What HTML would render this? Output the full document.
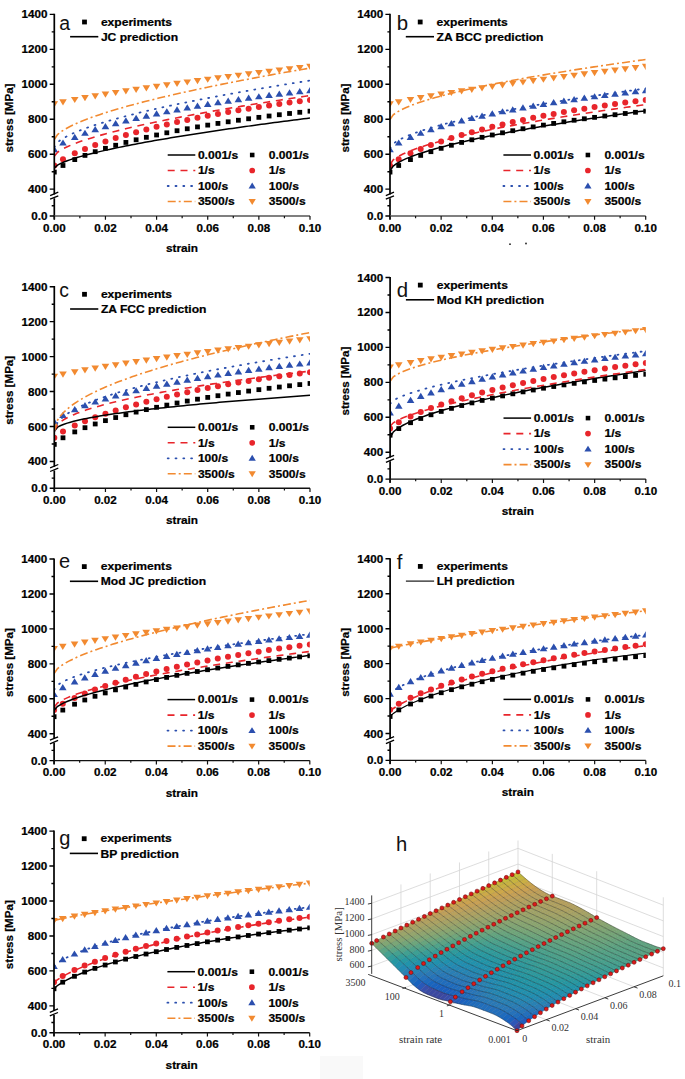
<!DOCTYPE html>
<html><head><meta charset="utf-8"><style>
html,body{margin:0;padding:0;background:#fff;}
body{width:685px;height:1079px;overflow:hidden;}
svg{display:block;}
text{font-family:'Liberation Sans', sans-serif;}
.tk{font-size:11.2px;font-weight:bold;fill:#000;stroke:#000;stroke-width:0.22px;}
.tt{font-size:11.6px;font-weight:bold;fill:#000;stroke:#000;stroke-width:0.22px;}
.lg{font-size:11.3px;font-weight:bold;fill:#000;stroke:#000;stroke-width:0.22px;}
.lt{font-weight:normal;fill:#111;}
.sf text{font-family:'Liberation Serif', serif;fill:#333;}
</style></head><body>
<svg width="685" height="1079" viewBox="0 0 685 1079">
<rect x="320" y="1056" width="43" height="23" fill="#f9f9f9"/>
<clipPath id="clipa"><rect x="54.3" y="4.4" width="255.7" height="190"/></clipPath>
<g clip-path="url(#clipa)">
<rect x="51.9" y="169.69" width="4.8" height="4.8" fill="#000000"/>
<rect x="60.59" y="163.09" width="4.8" height="4.8" fill="#000000"/>
<rect x="72.36" y="157.2" width="4.8" height="4.8" fill="#000000"/>
<rect x="82.58" y="152.99" width="4.8" height="4.8" fill="#000000"/>
<rect x="92.81" y="149.28" width="4.8" height="4.8" fill="#000000"/>
<rect x="103.04" y="145.93" width="4.8" height="4.8" fill="#000000"/>
<rect x="113.27" y="142.86" width="4.8" height="4.8" fill="#000000"/>
<rect x="123.5" y="140.03" width="4.8" height="4.8" fill="#000000"/>
<rect x="133.72" y="137.39" width="4.8" height="4.8" fill="#000000"/>
<rect x="143.95" y="134.92" width="4.8" height="4.8" fill="#000000"/>
<rect x="154.18" y="132.59" width="4.8" height="4.8" fill="#000000"/>
<rect x="164.41" y="130.4" width="4.8" height="4.8" fill="#000000"/>
<rect x="174.64" y="128.32" width="4.8" height="4.8" fill="#000000"/>
<rect x="184.86" y="126.36" width="4.8" height="4.8" fill="#000000"/>
<rect x="195.09" y="124.49" width="4.8" height="4.8" fill="#000000"/>
<rect x="205.32" y="122.71" width="4.8" height="4.8" fill="#000000"/>
<rect x="215.55" y="121.01" width="4.8" height="4.8" fill="#000000"/>
<rect x="225.78" y="119.39" width="4.8" height="4.8" fill="#000000"/>
<rect x="236" y="117.85" width="4.8" height="4.8" fill="#000000"/>
<rect x="246.23" y="116.37" width="4.8" height="4.8" fill="#000000"/>
<rect x="256.46" y="114.96" width="4.8" height="4.8" fill="#000000"/>
<rect x="266.69" y="113.61" width="4.8" height="4.8" fill="#000000"/>
<rect x="276.92" y="112.32" width="4.8" height="4.8" fill="#000000"/>
<rect x="287.14" y="111.08" width="4.8" height="4.8" fill="#000000"/>
<rect x="297.37" y="109.9" width="4.8" height="4.8" fill="#000000"/>
<rect x="307.6" y="108.77" width="4.8" height="4.8" fill="#000000"/>
<circle cx="54.3" cy="165.43" r="3" fill="#e8252b"/>
<circle cx="62.99" cy="159.25" r="3" fill="#e8252b"/>
<circle cx="74.76" cy="153.29" r="3" fill="#e8252b"/>
<circle cx="84.98" cy="148.91" r="3" fill="#e8252b"/>
<circle cx="95.21" cy="144.99" r="3" fill="#e8252b"/>
<circle cx="105.44" cy="141.41" r="3" fill="#e8252b"/>
<circle cx="115.67" cy="138.1" r="3" fill="#e8252b"/>
<circle cx="125.9" cy="135.03" r="3" fill="#e8252b"/>
<circle cx="136.12" cy="132.14" r="3" fill="#e8252b"/>
<circle cx="146.35" cy="129.42" r="3" fill="#e8252b"/>
<circle cx="156.58" cy="126.86" r="3" fill="#e8252b"/>
<circle cx="166.81" cy="124.42" r="3" fill="#e8252b"/>
<circle cx="177.04" cy="122.11" r="3" fill="#e8252b"/>
<circle cx="187.26" cy="119.91" r="3" fill="#e8252b"/>
<circle cx="197.49" cy="117.81" r="3" fill="#e8252b"/>
<circle cx="207.72" cy="115.81" r="3" fill="#e8252b"/>
<circle cx="217.95" cy="113.9" r="3" fill="#e8252b"/>
<circle cx="228.18" cy="112.07" r="3" fill="#e8252b"/>
<circle cx="238.4" cy="110.32" r="3" fill="#e8252b"/>
<circle cx="248.63" cy="108.64" r="3" fill="#e8252b"/>
<circle cx="258.86" cy="107.03" r="3" fill="#e8252b"/>
<circle cx="269.09" cy="105.49" r="3" fill="#e8252b"/>
<circle cx="279.32" cy="104.01" r="3" fill="#e8252b"/>
<circle cx="289.54" cy="102.6" r="3" fill="#e8252b"/>
<circle cx="299.77" cy="101.24" r="3" fill="#e8252b"/>
<circle cx="310" cy="99.93" r="3" fill="#e8252b"/>
<path d="M54.3 146.11L58.1 152.31L50.5 152.31Z" fill="#2b4fae"/>
<path d="M62.99 139.38L66.79 145.58L59.19 145.58Z" fill="#2b4fae"/>
<path d="M74.76 133.68L78.56 139.88L70.96 139.88Z" fill="#2b4fae"/>
<path d="M84.98 129.65L88.78 135.85L81.18 135.85Z" fill="#2b4fae"/>
<path d="M95.21 126.12L99.01 132.32L91.41 132.32Z" fill="#2b4fae"/>
<path d="M105.44 122.94L109.24 129.14L101.64 129.14Z" fill="#2b4fae"/>
<path d="M115.67 120.03L119.47 126.23L111.87 126.23Z" fill="#2b4fae"/>
<path d="M125.9 117.34L129.7 123.54L122.1 123.54Z" fill="#2b4fae"/>
<path d="M136.12 114.83L139.92 121.03L132.32 121.03Z" fill="#2b4fae"/>
<path d="M146.35 112.48L150.15 118.68L142.55 118.68Z" fill="#2b4fae"/>
<path d="M156.58 110.27L160.38 116.47L152.78 116.47Z" fill="#2b4fae"/>
<path d="M166.81 108.17L170.61 114.37L163.01 114.37Z" fill="#2b4fae"/>
<path d="M177.04 106.18L180.84 112.38L173.24 112.38Z" fill="#2b4fae"/>
<path d="M187.26 104.29L191.06 110.49L183.46 110.49Z" fill="#2b4fae"/>
<path d="M197.49 102.48L201.29 108.68L193.69 108.68Z" fill="#2b4fae"/>
<path d="M207.72 100.76L211.52 106.96L203.92 106.96Z" fill="#2b4fae"/>
<path d="M217.95 99.11L221.75 105.31L214.15 105.31Z" fill="#2b4fae"/>
<path d="M228.18 97.53L231.98 103.73L224.38 103.73Z" fill="#2b4fae"/>
<path d="M238.4 96.02L242.2 102.22L234.6 102.22Z" fill="#2b4fae"/>
<path d="M248.63 94.56L252.43 100.76L244.83 100.76Z" fill="#2b4fae"/>
<path d="M258.86 93.17L262.66 99.37L255.06 99.37Z" fill="#2b4fae"/>
<path d="M269.09 91.82L272.89 98.02L265.29 98.02Z" fill="#2b4fae"/>
<path d="M279.32 90.53L283.12 96.73L275.52 96.73Z" fill="#2b4fae"/>
<path d="M289.54 89.29L293.34 95.49L285.74 95.49Z" fill="#2b4fae"/>
<path d="M299.77 88.09L303.57 94.29L295.97 94.29Z" fill="#2b4fae"/>
<path d="M310 86.93L313.8 93.13L306.2 93.13Z" fill="#2b4fae"/>
<path d="M54.3 107.57L58.1 101.37L50.5 101.37Z" fill="#f28a30"/>
<path d="M62.99 105.46L66.79 99.26L59.19 99.26Z" fill="#f28a30"/>
<path d="M74.76 103.1L78.56 96.9L70.96 96.9Z" fill="#f28a30"/>
<path d="M84.98 101.22L88.78 95.02L81.18 95.02Z" fill="#f28a30"/>
<path d="M95.21 99.44L99.01 93.24L91.41 93.24Z" fill="#f28a30"/>
<path d="M105.44 97.73L109.24 91.53L101.64 91.53Z" fill="#f28a30"/>
<path d="M115.67 96.08L119.47 89.88L111.87 89.88Z" fill="#f28a30"/>
<path d="M125.9 94.48L129.7 88.28L122.1 88.28Z" fill="#f28a30"/>
<path d="M136.12 92.91L139.92 86.71L132.32 86.71Z" fill="#f28a30"/>
<path d="M146.35 91.39L150.15 85.19L142.55 85.19Z" fill="#f28a30"/>
<path d="M156.58 89.9L160.38 83.7L152.78 83.7Z" fill="#f28a30"/>
<path d="M166.81 88.44L170.61 82.24L163.01 82.24Z" fill="#f28a30"/>
<path d="M177.04 87L180.84 80.8L173.24 80.8Z" fill="#f28a30"/>
<path d="M187.26 85.59L191.06 79.39L183.46 79.39Z" fill="#f28a30"/>
<path d="M197.49 84.2L201.29 78L193.69 78Z" fill="#f28a30"/>
<path d="M207.72 82.83L211.52 76.63L203.92 76.63Z" fill="#f28a30"/>
<path d="M217.95 81.48L221.75 75.28L214.15 75.28Z" fill="#f28a30"/>
<path d="M228.18 80.15L231.98 73.95L224.38 73.95Z" fill="#f28a30"/>
<path d="M238.4 78.84L242.2 72.64L234.6 72.64Z" fill="#f28a30"/>
<path d="M248.63 77.54L252.43 71.34L244.83 71.34Z" fill="#f28a30"/>
<path d="M258.86 76.26L262.66 70.06L255.06 70.06Z" fill="#f28a30"/>
<path d="M269.09 74.99L272.89 68.79L265.29 68.79Z" fill="#f28a30"/>
<path d="M279.32 73.73L283.12 67.53L275.52 67.53Z" fill="#f28a30"/>
<path d="M289.54 72.49L293.34 66.29L285.74 66.29Z" fill="#f28a30"/>
<path d="M299.77 71.26L303.57 65.06L295.97 65.06Z" fill="#f28a30"/>
<path d="M310 70.05L313.8 63.85L306.2 63.85Z" fill="#f28a30"/>
<polyline points="54.3,168.18 57.54,165.12 60.77,163.41 64.01,162 67.25,160.75 70.48,159.61 73.72,158.54 76.96,157.54 80.19,156.6 83.43,155.69 86.67,154.82 89.9,153.98 93.14,153.16 96.38,152.37 99.61,151.61 102.85,150.86 106.09,150.13 109.32,149.41 112.56,148.71 115.8,148.03 119.03,147.36 122.27,146.7 125.51,146.05 128.74,145.41 131.98,144.78 135.22,144.16 138.45,143.55 141.69,142.95 144.93,142.35 148.16,141.77 151.4,141.19 154.64,140.61 157.87,140.05 161.11,139.49 164.35,138.94 167.58,138.39 170.82,137.85 174.06,137.31 177.29,136.78 180.53,136.25 183.77,135.73 187.01,135.21 190.24,134.7 193.48,134.19 196.72,133.69 199.95,133.19 203.19,132.69 206.43,132.2 209.66,131.71 212.9,131.23 216.14,130.75 219.37,130.27 222.61,129.8 225.85,129.33 229.08,128.86 232.32,128.4 235.56,127.93 238.79,127.48 242.03,127.02 245.27,126.57 248.5,126.12 251.74,125.67 254.98,125.22 258.21,124.78 261.45,124.34 264.69,123.91 267.92,123.47 271.16,123.04 274.4,122.61 277.63,122.18 280.87,121.76 284.11,121.33 287.34,120.91 290.58,120.49 293.82,120.07 297.05,119.66 300.29,119.25 303.53,118.84 306.76,118.43 310,118.02" fill="none" stroke="#000000" stroke-width="1.5"/>
<polyline points="54.3,156.3 57.54,152.25 60.77,150.08 64.01,148.3 67.25,146.74 70.48,145.32 73.72,144.01 76.96,142.78 80.19,141.61 83.43,140.5 86.67,139.43 89.9,138.41 93.14,137.41 96.38,136.45 99.61,135.52 102.85,134.61 106.09,133.73 109.32,132.86 112.56,132.02 115.8,131.19 119.03,130.38 122.27,129.58 125.51,128.8 128.74,128.03 131.98,127.28 135.22,126.53 138.45,125.8 141.69,125.08 144.93,124.37 148.16,123.67 151.4,122.97 154.64,122.29 157.87,121.61 161.11,120.94 164.35,120.28 167.58,119.63 170.82,118.98 174.06,118.34 177.29,117.71 180.53,117.09 183.77,116.46 187.01,115.85 190.24,115.24 193.48,114.64 196.72,114.04 199.95,113.45 203.19,112.86 206.43,112.28 209.66,111.7 212.9,111.12 216.14,110.55 219.37,109.99 222.61,109.43 225.85,108.87 229.08,108.32 232.32,107.77 235.56,107.23 238.79,106.68 242.03,106.15 245.27,105.61 248.5,105.08 251.74,104.55 254.98,104.03 258.21,103.51 261.45,102.99 264.69,102.47 267.92,101.96 271.16,101.45 274.4,100.95 277.63,100.44 280.87,99.94 284.11,99.45 287.34,98.95 290.58,98.46 293.82,97.97 297.05,97.48 300.29,97 303.53,96.51 306.76,96.03 310,95.56" fill="none" stroke="#e8252b" stroke-width="1.6" stroke-dasharray="7 5.8"/>
<polyline points="54.3,147.21 57.54,142.36 60.77,139.86 64.01,137.84 67.25,136.07 70.48,134.47 73.72,133 76.96,131.62 80.19,130.32 83.43,129.09 86.67,127.9 89.9,126.77 93.14,125.67 96.38,124.61 99.61,123.59 102.85,122.59 106.09,121.61 109.32,120.67 112.56,119.74 115.8,118.83 119.03,117.95 122.27,117.08 125.51,116.23 128.74,115.39 131.98,114.57 135.22,113.76 138.45,112.96 141.69,112.17 144.93,111.4 148.16,110.64 151.4,109.89 154.64,109.15 157.87,108.42 161.11,107.69 164.35,106.98 167.58,106.27 170.82,105.57 174.06,104.88 177.29,104.2 180.53,103.53 183.77,102.86 187.01,102.2 190.24,101.54 193.48,100.89 196.72,100.25 199.95,99.61 203.19,98.98 206.43,98.35 209.66,97.73 212.9,97.11 216.14,96.5 219.37,95.9 222.61,95.3 225.85,94.7 229.08,94.11 232.32,93.52 235.56,92.94 238.79,92.36 242.03,91.78 245.27,91.21 248.5,90.64 251.74,90.08 254.98,89.52 258.21,88.96 261.45,88.41 264.69,87.86 267.92,87.31 271.16,86.77 274.4,86.23 277.63,85.69 280.87,85.16 284.11,84.63 287.34,84.1 290.58,83.58 293.82,83.06 297.05,82.54 300.29,82.02 303.53,81.51 306.76,81 310,80.49" fill="none" stroke="#2b4fae" stroke-width="1.8" stroke-dasharray="1 6.8" stroke-linecap="round"/>
<polyline points="54.3,139.52 57.54,134.55 60.77,131.93 64.01,129.8 67.25,127.94 70.48,126.25 73.72,124.69 76.96,123.23 80.19,121.84 83.43,120.53 86.67,119.27 89.9,118.05 93.14,116.88 96.38,115.75 99.61,114.65 102.85,113.58 106.09,112.54 109.32,111.52 112.56,110.53 115.8,109.56 119.03,108.61 122.27,107.67 125.51,106.76 128.74,105.85 131.98,104.97 135.22,104.1 138.45,103.24 141.69,102.4 144.93,101.56 148.16,100.74 151.4,99.93 154.64,99.13 157.87,98.34 161.11,97.56 164.35,96.79 167.58,96.03 170.82,95.27 174.06,94.53 177.29,93.79 180.53,93.06 183.77,92.34 187.01,91.62 190.24,90.91 193.48,90.21 196.72,89.51 199.95,88.82 203.19,88.14 206.43,87.46 209.66,86.79 212.9,86.12 216.14,85.46 219.37,84.8 222.61,84.15 225.85,83.5 229.08,82.86 232.32,82.22 235.56,81.59 238.79,80.96 242.03,80.33 245.27,79.71 248.5,79.1 251.74,78.48 254.98,77.88 258.21,77.27 261.45,76.67 264.69,76.07 267.92,75.48 271.16,74.89 274.4,74.3 277.63,73.72 280.87,73.14 284.11,72.56 287.34,71.99 290.58,71.42 293.82,70.85 297.05,70.29 300.29,69.72 303.53,69.17 306.76,68.61 310,68.06" fill="none" stroke="#f28a30" stroke-width="1.6" stroke-dasharray="8 3 2 3.1"/>
</g>
<path d="M54.3 13.8V194.4M54.3 198.2V219.6" stroke="#000" stroke-width="1.7" fill="none"/>
<path d="M50.1 195.6L58.3 192.2M50.1 199.2L58.3 195.8" stroke="#000" stroke-width="1.3" fill="none"/>
<text transform="translate(47.4 18.4) scale(1.04 1)" text-anchor="end" class="tk">1400</text>
<text transform="translate(47.4 53.35) scale(1.04 1)" text-anchor="end" class="tk">1200</text>
<text transform="translate(47.4 88.3) scale(1.04 1)" text-anchor="end" class="tk">1000</text>
<text transform="translate(47.4 123.25) scale(1.04 1)" text-anchor="end" class="tk">800</text>
<text transform="translate(47.4 158.2) scale(1.04 1)" text-anchor="end" class="tk">600</text>
<text transform="translate(47.4 193.15) scale(1.04 1)" text-anchor="end" class="tk">400</text>
<path d="M49.7 14.4H54.3M51.7 31.88H54.3M49.7 49.35H54.3M51.7 66.83H54.3M49.7 84.3H54.3M51.7 101.78H54.3M49.7 119.25H54.3M51.7 136.73H54.3M49.7 154.2H54.3M51.7 171.68H54.3M49.7 189.15H54.3M51.7 205.8H54.3M49.7 216H54.3" stroke="#000" stroke-width="1.4" fill="none"/>
<text transform="translate(47.4 220) scale(1.04 1)" text-anchor="end" class="tk">0.0</text>
<path d="M54.3 216H310" stroke="#555" stroke-width="1.4" fill="none"/>
<path d="M54.3 216V219.8M79.87 216V218.2M105.44 216V219.8M131.01 216V218.2M156.58 216V219.8M182.15 216V218.2M207.72 216V219.8M233.29 216V218.2M258.86 216V219.8M284.43 216V218.2M310 216V219.8" stroke="#111" stroke-width="1.2" fill="none"/>
<text transform="translate(54.3 231.7) scale(1.04 1)" text-anchor="middle" class="tk">0.00</text>
<text transform="translate(105.44 231.7) scale(1.04 1)" text-anchor="middle" class="tk">0.02</text>
<text transform="translate(156.58 231.7) scale(1.04 1)" text-anchor="middle" class="tk">0.04</text>
<text transform="translate(207.72 231.7) scale(1.04 1)" text-anchor="middle" class="tk">0.06</text>
<text transform="translate(258.86 231.7) scale(1.04 1)" text-anchor="middle" class="tk">0.08</text>
<text transform="translate(310 231.7) scale(1.04 1)" text-anchor="middle" class="tk">0.10</text>
<text transform="translate(182 252) scale(1.02 1)" text-anchor="middle" class="tt">strain</text>
<text transform="translate(13.4 118) rotate(-90)" text-anchor="middle" class="tt">stress [MPa]</text>
<text x="59.2" y="29.7" class="lt" style="font-size:19.5px">a</text>
<rect x="82.1" y="19.6" width="4.8" height="4.8" fill="#000"/>
<text transform="translate(100.9 25.7) scale(1.07 1)" class="lg">experiments</text>
<path d="M70.1 36.7H98.3" stroke="#000" stroke-width="1.6"/>
<text transform="translate(100.9 40.8) scale(1.07 1)" class="lg">JC prediction</text>
<path d="M167.7 155H195.3" stroke="#000000" stroke-width="1.5"/>
<text transform="translate(197.9 158.8) scale(1.07 1)" class="lg">0.001/s</text>
<rect x="249.92" y="152.72" width="4.56" height="4.56" fill="#000000"/>
<text transform="translate(268.7 158.8) scale(1.07 1)" class="lg">0.001/s</text>
<path d="M167.7 170.5H195.3" stroke="#e8252b" stroke-width="1.6" stroke-dasharray="7 5.8"/>
<text transform="translate(197.9 174.3) scale(1.07 1)" class="lg">1/s</text>
<circle cx="252.2" cy="170.5" r="2.85" fill="#e8252b"/>
<text transform="translate(268.7 174.3) scale(1.07 1)" class="lg">1/s</text>
<path d="M167.7 186H195.3" stroke="#2b4fae" stroke-width="1.8" stroke-dasharray="1 6.8" stroke-linecap="round"/>
<text transform="translate(197.9 189.8) scale(1.07 1)" class="lg">100/s</text>
<path d="M252.2 182.56L255.81 188.44L248.59 188.44Z" fill="#2b4fae"/>
<text transform="translate(268.7 189.8) scale(1.07 1)" class="lg">100/s</text>
<path d="M167.7 201.5H195.3" stroke="#f28a30" stroke-width="1.6" stroke-dasharray="8 3 2 3.1"/>
<text transform="translate(197.9 205.3) scale(1.07 1)" class="lg">3500/s</text>
<path d="M252.2 204.94L255.81 199.06L248.59 199.06Z" fill="#f28a30"/>
<text transform="translate(268.7 205.3) scale(1.07 1)" class="lg">3500/s</text>
<clipPath id="clipb"><rect x="390" y="4.4" width="255.7" height="190"/></clipPath>
<g clip-path="url(#clipb)">
<rect x="387.6" y="169.69" width="4.8" height="4.8" fill="#000000"/>
<rect x="396.29" y="163.09" width="4.8" height="4.8" fill="#000000"/>
<rect x="408.06" y="157.2" width="4.8" height="4.8" fill="#000000"/>
<rect x="418.28" y="152.99" width="4.8" height="4.8" fill="#000000"/>
<rect x="428.51" y="149.28" width="4.8" height="4.8" fill="#000000"/>
<rect x="438.74" y="145.93" width="4.8" height="4.8" fill="#000000"/>
<rect x="448.97" y="142.86" width="4.8" height="4.8" fill="#000000"/>
<rect x="459.2" y="140.03" width="4.8" height="4.8" fill="#000000"/>
<rect x="469.42" y="137.39" width="4.8" height="4.8" fill="#000000"/>
<rect x="479.65" y="134.92" width="4.8" height="4.8" fill="#000000"/>
<rect x="489.88" y="132.59" width="4.8" height="4.8" fill="#000000"/>
<rect x="500.11" y="130.4" width="4.8" height="4.8" fill="#000000"/>
<rect x="510.34" y="128.32" width="4.8" height="4.8" fill="#000000"/>
<rect x="520.56" y="126.36" width="4.8" height="4.8" fill="#000000"/>
<rect x="530.79" y="124.49" width="4.8" height="4.8" fill="#000000"/>
<rect x="541.02" y="122.71" width="4.8" height="4.8" fill="#000000"/>
<rect x="551.25" y="121.01" width="4.8" height="4.8" fill="#000000"/>
<rect x="561.48" y="119.39" width="4.8" height="4.8" fill="#000000"/>
<rect x="571.7" y="117.85" width="4.8" height="4.8" fill="#000000"/>
<rect x="581.93" y="116.37" width="4.8" height="4.8" fill="#000000"/>
<rect x="592.16" y="114.96" width="4.8" height="4.8" fill="#000000"/>
<rect x="602.39" y="113.61" width="4.8" height="4.8" fill="#000000"/>
<rect x="612.62" y="112.32" width="4.8" height="4.8" fill="#000000"/>
<rect x="622.84" y="111.08" width="4.8" height="4.8" fill="#000000"/>
<rect x="633.07" y="109.9" width="4.8" height="4.8" fill="#000000"/>
<rect x="643.3" y="108.77" width="4.8" height="4.8" fill="#000000"/>
<circle cx="390" cy="165.43" r="3" fill="#e8252b"/>
<circle cx="398.69" cy="159.25" r="3" fill="#e8252b"/>
<circle cx="410.46" cy="153.29" r="3" fill="#e8252b"/>
<circle cx="420.68" cy="148.91" r="3" fill="#e8252b"/>
<circle cx="430.91" cy="144.99" r="3" fill="#e8252b"/>
<circle cx="441.14" cy="141.41" r="3" fill="#e8252b"/>
<circle cx="451.37" cy="138.1" r="3" fill="#e8252b"/>
<circle cx="461.6" cy="135.03" r="3" fill="#e8252b"/>
<circle cx="471.82" cy="132.14" r="3" fill="#e8252b"/>
<circle cx="482.05" cy="129.42" r="3" fill="#e8252b"/>
<circle cx="492.28" cy="126.86" r="3" fill="#e8252b"/>
<circle cx="502.51" cy="124.42" r="3" fill="#e8252b"/>
<circle cx="512.74" cy="122.11" r="3" fill="#e8252b"/>
<circle cx="522.96" cy="119.91" r="3" fill="#e8252b"/>
<circle cx="533.19" cy="117.81" r="3" fill="#e8252b"/>
<circle cx="543.42" cy="115.81" r="3" fill="#e8252b"/>
<circle cx="553.65" cy="113.9" r="3" fill="#e8252b"/>
<circle cx="563.88" cy="112.07" r="3" fill="#e8252b"/>
<circle cx="574.1" cy="110.32" r="3" fill="#e8252b"/>
<circle cx="584.33" cy="108.64" r="3" fill="#e8252b"/>
<circle cx="594.56" cy="107.03" r="3" fill="#e8252b"/>
<circle cx="604.79" cy="105.49" r="3" fill="#e8252b"/>
<circle cx="615.02" cy="104.01" r="3" fill="#e8252b"/>
<circle cx="625.24" cy="102.6" r="3" fill="#e8252b"/>
<circle cx="635.47" cy="101.24" r="3" fill="#e8252b"/>
<circle cx="645.7" cy="99.93" r="3" fill="#e8252b"/>
<path d="M390 146.11L393.8 152.31L386.2 152.31Z" fill="#2b4fae"/>
<path d="M398.69 139.38L402.49 145.58L394.89 145.58Z" fill="#2b4fae"/>
<path d="M410.46 133.68L414.26 139.88L406.66 139.88Z" fill="#2b4fae"/>
<path d="M420.68 129.65L424.48 135.85L416.88 135.85Z" fill="#2b4fae"/>
<path d="M430.91 126.12L434.71 132.32L427.11 132.32Z" fill="#2b4fae"/>
<path d="M441.14 122.94L444.94 129.14L437.34 129.14Z" fill="#2b4fae"/>
<path d="M451.37 120.03L455.17 126.23L447.57 126.23Z" fill="#2b4fae"/>
<path d="M461.6 117.34L465.4 123.54L457.8 123.54Z" fill="#2b4fae"/>
<path d="M471.82 114.83L475.62 121.03L468.02 121.03Z" fill="#2b4fae"/>
<path d="M482.05 112.48L485.85 118.68L478.25 118.68Z" fill="#2b4fae"/>
<path d="M492.28 110.27L496.08 116.47L488.48 116.47Z" fill="#2b4fae"/>
<path d="M502.51 108.17L506.31 114.37L498.71 114.37Z" fill="#2b4fae"/>
<path d="M512.74 106.18L516.54 112.38L508.94 112.38Z" fill="#2b4fae"/>
<path d="M522.96 104.29L526.76 110.49L519.16 110.49Z" fill="#2b4fae"/>
<path d="M533.19 102.48L536.99 108.68L529.39 108.68Z" fill="#2b4fae"/>
<path d="M543.42 100.76L547.22 106.96L539.62 106.96Z" fill="#2b4fae"/>
<path d="M553.65 99.11L557.45 105.31L549.85 105.31Z" fill="#2b4fae"/>
<path d="M563.88 97.53L567.68 103.73L560.08 103.73Z" fill="#2b4fae"/>
<path d="M574.1 96.02L577.9 102.22L570.3 102.22Z" fill="#2b4fae"/>
<path d="M584.33 94.56L588.13 100.76L580.53 100.76Z" fill="#2b4fae"/>
<path d="M594.56 93.17L598.36 99.37L590.76 99.37Z" fill="#2b4fae"/>
<path d="M604.79 91.82L608.59 98.02L600.99 98.02Z" fill="#2b4fae"/>
<path d="M615.02 90.53L618.82 96.73L611.22 96.73Z" fill="#2b4fae"/>
<path d="M625.24 89.29L629.04 95.49L621.44 95.49Z" fill="#2b4fae"/>
<path d="M635.47 88.09L639.27 94.29L631.67 94.29Z" fill="#2b4fae"/>
<path d="M645.7 86.93L649.5 93.13L641.9 93.13Z" fill="#2b4fae"/>
<path d="M390 107.57L393.8 101.37L386.2 101.37Z" fill="#f28a30"/>
<path d="M398.69 105.46L402.49 99.26L394.89 99.26Z" fill="#f28a30"/>
<path d="M410.46 103.1L414.26 96.9L406.66 96.9Z" fill="#f28a30"/>
<path d="M420.68 101.22L424.48 95.02L416.88 95.02Z" fill="#f28a30"/>
<path d="M430.91 99.44L434.71 93.24L427.11 93.24Z" fill="#f28a30"/>
<path d="M441.14 97.73L444.94 91.53L437.34 91.53Z" fill="#f28a30"/>
<path d="M451.37 96.08L455.17 89.88L447.57 89.88Z" fill="#f28a30"/>
<path d="M461.6 94.48L465.4 88.28L457.8 88.28Z" fill="#f28a30"/>
<path d="M471.82 92.91L475.62 86.71L468.02 86.71Z" fill="#f28a30"/>
<path d="M482.05 91.39L485.85 85.19L478.25 85.19Z" fill="#f28a30"/>
<path d="M492.28 89.9L496.08 83.7L488.48 83.7Z" fill="#f28a30"/>
<path d="M502.51 88.44L506.31 82.24L498.71 82.24Z" fill="#f28a30"/>
<path d="M512.74 87L516.54 80.8L508.94 80.8Z" fill="#f28a30"/>
<path d="M522.96 85.59L526.76 79.39L519.16 79.39Z" fill="#f28a30"/>
<path d="M533.19 84.2L536.99 78L529.39 78Z" fill="#f28a30"/>
<path d="M543.42 82.83L547.22 76.63L539.62 76.63Z" fill="#f28a30"/>
<path d="M553.65 81.48L557.45 75.28L549.85 75.28Z" fill="#f28a30"/>
<path d="M563.88 80.15L567.68 73.95L560.08 73.95Z" fill="#f28a30"/>
<path d="M574.1 78.84L577.9 72.64L570.3 72.64Z" fill="#f28a30"/>
<path d="M584.33 77.54L588.13 71.34L580.53 71.34Z" fill="#f28a30"/>
<path d="M594.56 76.26L598.36 70.06L590.76 70.06Z" fill="#f28a30"/>
<path d="M604.79 74.99L608.59 68.79L600.99 68.79Z" fill="#f28a30"/>
<path d="M615.02 73.73L618.82 67.53L611.22 67.53Z" fill="#f28a30"/>
<path d="M625.24 72.49L629.04 66.29L621.44 66.29Z" fill="#f28a30"/>
<path d="M635.47 71.26L639.27 65.06L631.67 65.06Z" fill="#f28a30"/>
<path d="M645.7 70.05L649.5 63.85L641.9 63.85Z" fill="#f28a30"/>
<polyline points="390,170.8 393.24,166.04 396.47,163.68 399.71,161.79 402.95,160.15 406.18,158.68 409.42,157.33 412.66,156.07 415.89,154.88 419.13,153.76 422.37,152.68 425.6,151.66 428.84,150.66 432.08,149.71 435.31,148.78 438.55,147.88 441.79,147.01 445.02,146.16 448.26,145.33 451.5,144.51 454.73,143.72 457.97,142.94 461.21,142.18 464.44,141.43 467.68,140.7 470.92,139.98 474.15,139.27 477.39,138.57 480.63,137.88 483.86,137.21 487.1,136.54 490.34,135.88 493.57,135.23 496.81,134.59 500.05,133.96 503.28,133.34 506.52,132.72 509.76,132.11 512.99,131.51 516.23,130.91 519.47,130.32 522.71,129.74 525.94,129.16 529.18,128.58 532.42,128.02 535.65,127.46 538.89,126.9 542.13,126.35 545.36,125.8 548.6,125.26 551.84,124.73 555.07,124.19 558.31,123.67 561.55,123.14 564.78,122.62 568.02,122.11 571.26,121.6 574.49,121.09 577.73,120.58 580.97,120.08 584.2,119.59 587.44,119.09 590.68,118.6 593.91,118.12 597.15,117.63 600.39,117.15 603.62,116.68 606.86,116.2 610.1,115.73 613.33,115.26 616.57,114.8 619.81,114.33 623.04,113.87 626.28,113.42 629.52,112.96 632.75,112.51 635.99,112.06 639.23,111.61 642.46,111.17 645.7,110.73" fill="none" stroke="#000000" stroke-width="1.5"/>
<polyline points="390,164.69 393.24,159.92 396.47,157.56 399.71,155.67 402.95,154.04 406.18,152.57 409.42,151.21 412.66,149.95 415.89,148.77 419.13,147.64 422.37,146.57 425.6,145.54 428.84,144.55 432.08,143.59 435.31,142.66 438.55,141.77 441.79,140.89 445.02,140.04 448.26,139.21 451.5,138.4 454.73,137.6 457.97,136.83 461.21,136.06 464.44,135.32 467.68,134.58 470.92,133.86 474.15,133.15 477.39,132.46 480.63,131.77 483.86,131.09 487.1,130.42 490.34,129.77 493.57,129.12 496.81,128.48 500.05,127.84 503.28,127.22 506.52,126.6 509.76,125.99 512.99,125.39 516.23,124.79 519.47,124.2 522.71,123.62 525.94,123.04 529.18,122.47 532.42,121.9 535.65,121.34 538.89,120.78 542.13,120.23 545.36,119.69 548.6,119.15 551.84,118.61 555.07,118.08 558.31,117.55 561.55,117.03 564.78,116.51 568.02,115.99 571.26,115.48 574.49,114.97 577.73,114.47 580.97,113.97 584.2,113.47 587.44,112.98 590.68,112.49 593.91,112 597.15,111.52 600.39,111.04 603.62,110.56 606.86,110.09 610.1,109.61 613.33,109.15 616.57,108.68 619.81,108.22 623.04,107.76 626.28,107.3 629.52,106.85 632.75,106.39 635.99,105.94 639.23,105.5 642.46,105.05 645.7,104.61" fill="none" stroke="#e8252b" stroke-width="1.6" stroke-dasharray="7 5.8"/>
<polyline points="390,148.61 393.24,143.84 396.47,141.48 399.71,139.6 402.95,137.96 406.18,136.49 409.42,135.14 412.66,133.88 415.89,132.69 419.13,131.57 422.37,130.49 425.6,129.46 428.84,128.47 432.08,127.51 435.31,126.59 438.55,125.69 441.79,124.81 445.02,123.96 448.26,123.13 451.5,122.32 454.73,121.53 457.97,120.75 461.21,119.99 464.44,119.24 467.68,118.51 470.92,117.79 474.15,117.08 477.39,116.38 480.63,115.69 483.86,115.01 487.1,114.35 490.34,113.69 493.57,113.04 496.81,112.4 500.05,111.77 503.28,111.14 506.52,110.53 509.76,109.92 512.99,109.31 516.23,108.72 519.47,108.13 522.71,107.54 525.94,106.96 529.18,106.39 532.42,105.82 535.65,105.26 538.89,104.71 542.13,104.16 545.36,103.61 548.6,103.07 551.84,102.53 555.07,102 558.31,101.47 561.55,100.95 564.78,100.43 568.02,99.91 571.26,99.4 574.49,98.89 577.73,98.39 580.97,97.89 584.2,97.39 587.44,96.9 590.68,96.41 593.91,95.92 597.15,95.44 600.39,94.96 603.62,94.48 606.86,94.01 610.1,93.54 613.33,93.07 616.57,92.6 619.81,92.14 623.04,91.68 626.28,91.22 629.52,90.77 632.75,90.32 635.99,89.87 639.23,89.42 642.46,88.98 645.7,88.53" fill="none" stroke="#2b4fae" stroke-width="1.8" stroke-dasharray="1 6.8" stroke-linecap="round"/>
<polyline points="390,119.6 393.24,114.83 396.47,112.48 399.71,110.59 402.95,108.95 406.18,107.48 409.42,106.13 412.66,104.87 415.89,103.68 419.13,102.56 422.37,101.48 425.6,100.45 428.84,99.46 432.08,98.51 435.31,97.58 438.55,96.68 441.79,95.81 445.02,94.95 448.26,94.12 451.5,93.31 454.73,92.52 457.97,91.74 461.21,90.98 464.44,90.23 467.68,89.5 470.92,88.78 474.15,88.07 477.39,87.37 480.63,86.68 483.86,86.01 487.1,85.34 490.34,84.68 493.57,84.03 496.81,83.39 500.05,82.76 503.28,82.13 506.52,81.52 509.76,80.91 512.99,80.3 516.23,79.71 519.47,79.12 522.71,78.53 525.94,77.96 529.18,77.38 532.42,76.82 535.65,76.26 538.89,75.7 542.13,75.15 545.36,74.6 548.6,74.06 551.84,73.52 555.07,72.99 558.31,72.46 561.55,71.94 564.78,71.42 568.02,70.91 571.26,70.39 574.49,69.89 577.73,69.38 580.97,68.88 584.2,68.38 587.44,67.89 590.68,67.4 593.91,66.91 597.15,66.43 600.39,65.95 603.62,65.47 606.86,65 610.1,64.53 613.33,64.06 616.57,63.59 619.81,63.13 623.04,62.67 626.28,62.21 629.52,61.76 632.75,61.31 635.99,60.86 639.23,60.41 642.46,59.97 645.7,59.52" fill="none" stroke="#f28a30" stroke-width="1.6" stroke-dasharray="8 3 2 3.1"/>
</g>
<path d="M390 13.8V194.4M390 198.2V219.6" stroke="#000" stroke-width="1.7" fill="none"/>
<path d="M385.8 195.6L394 192.2M385.8 199.2L394 195.8" stroke="#000" stroke-width="1.3" fill="none"/>
<text transform="translate(383.1 18.4) scale(1.04 1)" text-anchor="end" class="tk">1400</text>
<text transform="translate(383.1 53.35) scale(1.04 1)" text-anchor="end" class="tk">1200</text>
<text transform="translate(383.1 88.3) scale(1.04 1)" text-anchor="end" class="tk">1000</text>
<text transform="translate(383.1 123.25) scale(1.04 1)" text-anchor="end" class="tk">800</text>
<text transform="translate(383.1 158.2) scale(1.04 1)" text-anchor="end" class="tk">600</text>
<text transform="translate(383.1 193.15) scale(1.04 1)" text-anchor="end" class="tk">400</text>
<path d="M385.4 14.4H390M387.4 31.88H390M385.4 49.35H390M387.4 66.83H390M385.4 84.3H390M387.4 101.78H390M385.4 119.25H390M387.4 136.73H390M385.4 154.2H390M387.4 171.68H390M385.4 189.15H390M387.4 205.8H390M385.4 216H390" stroke="#000" stroke-width="1.4" fill="none"/>
<text transform="translate(383.1 220) scale(1.04 1)" text-anchor="end" class="tk">0.0</text>
<path d="M390 216H645.7" stroke="#555" stroke-width="1.4" fill="none"/>
<path d="M390 216V219.8M415.57 216V218.2M441.14 216V219.8M466.71 216V218.2M492.28 216V219.8M517.85 216V218.2M543.42 216V219.8M568.99 216V218.2M594.56 216V219.8M620.13 216V218.2M645.7 216V219.8" stroke="#111" stroke-width="1.2" fill="none"/>
<text transform="translate(390 231.7) scale(1.04 1)" text-anchor="middle" class="tk">0.00</text>
<text transform="translate(441.14 231.7) scale(1.04 1)" text-anchor="middle" class="tk">0.02</text>
<text transform="translate(492.28 231.7) scale(1.04 1)" text-anchor="middle" class="tk">0.04</text>
<text transform="translate(543.42 231.7) scale(1.04 1)" text-anchor="middle" class="tk">0.06</text>
<text transform="translate(594.56 231.7) scale(1.04 1)" text-anchor="middle" class="tk">0.08</text>
<text transform="translate(645.7 231.7) scale(1.04 1)" text-anchor="middle" class="tk">0.10</text>
<circle cx="510" cy="244.2" r="0.9" fill="#222"/><circle cx="526" cy="243.5" r="0.9" fill="#222"/>
<text transform="translate(349.1 118) rotate(-90)" text-anchor="middle" class="tt">stress [MPa]</text>
<text x="396.8" y="30.1" class="lt" style="font-size:20.4px">b</text>
<rect x="417.8" y="19.6" width="4.8" height="4.8" fill="#000"/>
<text transform="translate(436.6 25.7) scale(1.07 1)" class="lg">experiments</text>
<path d="M405.8 36.7H434" stroke="#000" stroke-width="1.6"/>
<text transform="translate(436.6 40.8) scale(1.07 1)" class="lg">ZA BCC prediction</text>
<path d="M503.4 155H531" stroke="#000000" stroke-width="1.5"/>
<text transform="translate(533.6 158.8) scale(1.07 1)" class="lg">0.001/s</text>
<rect x="585.62" y="152.72" width="4.56" height="4.56" fill="#000000"/>
<text transform="translate(604.4 158.8) scale(1.07 1)" class="lg">0.001/s</text>
<path d="M503.4 170.5H531" stroke="#e8252b" stroke-width="1.6" stroke-dasharray="7 5.8"/>
<text transform="translate(533.6 174.3) scale(1.07 1)" class="lg">1/s</text>
<circle cx="587.9" cy="170.5" r="2.85" fill="#e8252b"/>
<text transform="translate(604.4 174.3) scale(1.07 1)" class="lg">1/s</text>
<path d="M503.4 186H531" stroke="#2b4fae" stroke-width="1.8" stroke-dasharray="1 6.8" stroke-linecap="round"/>
<text transform="translate(533.6 189.8) scale(1.07 1)" class="lg">100/s</text>
<path d="M587.9 182.56L591.51 188.44L584.29 188.44Z" fill="#2b4fae"/>
<text transform="translate(604.4 189.8) scale(1.07 1)" class="lg">100/s</text>
<path d="M503.4 201.5H531" stroke="#f28a30" stroke-width="1.6" stroke-dasharray="8 3 2 3.1"/>
<text transform="translate(533.6 205.3) scale(1.07 1)" class="lg">3500/s</text>
<path d="M587.9 204.94L591.51 199.06L584.29 199.06Z" fill="#f28a30"/>
<text transform="translate(604.4 205.3) scale(1.07 1)" class="lg">3500/s</text>
<clipPath id="clipc"><rect x="54.3" y="276.7" width="255.7" height="190"/></clipPath>
<g clip-path="url(#clipc)">
<rect x="51.9" y="441.99" width="4.8" height="4.8" fill="#000000"/>
<rect x="60.59" y="435.39" width="4.8" height="4.8" fill="#000000"/>
<rect x="72.36" y="429.5" width="4.8" height="4.8" fill="#000000"/>
<rect x="82.58" y="425.29" width="4.8" height="4.8" fill="#000000"/>
<rect x="92.81" y="421.58" width="4.8" height="4.8" fill="#000000"/>
<rect x="103.04" y="418.23" width="4.8" height="4.8" fill="#000000"/>
<rect x="113.27" y="415.16" width="4.8" height="4.8" fill="#000000"/>
<rect x="123.5" y="412.33" width="4.8" height="4.8" fill="#000000"/>
<rect x="133.72" y="409.69" width="4.8" height="4.8" fill="#000000"/>
<rect x="143.95" y="407.22" width="4.8" height="4.8" fill="#000000"/>
<rect x="154.18" y="404.89" width="4.8" height="4.8" fill="#000000"/>
<rect x="164.41" y="402.7" width="4.8" height="4.8" fill="#000000"/>
<rect x="174.64" y="400.62" width="4.8" height="4.8" fill="#000000"/>
<rect x="184.86" y="398.66" width="4.8" height="4.8" fill="#000000"/>
<rect x="195.09" y="396.79" width="4.8" height="4.8" fill="#000000"/>
<rect x="205.32" y="395.01" width="4.8" height="4.8" fill="#000000"/>
<rect x="215.55" y="393.31" width="4.8" height="4.8" fill="#000000"/>
<rect x="225.78" y="391.69" width="4.8" height="4.8" fill="#000000"/>
<rect x="236" y="390.15" width="4.8" height="4.8" fill="#000000"/>
<rect x="246.23" y="388.67" width="4.8" height="4.8" fill="#000000"/>
<rect x="256.46" y="387.26" width="4.8" height="4.8" fill="#000000"/>
<rect x="266.69" y="385.91" width="4.8" height="4.8" fill="#000000"/>
<rect x="276.92" y="384.62" width="4.8" height="4.8" fill="#000000"/>
<rect x="287.14" y="383.38" width="4.8" height="4.8" fill="#000000"/>
<rect x="297.37" y="382.2" width="4.8" height="4.8" fill="#000000"/>
<rect x="307.6" y="381.07" width="4.8" height="4.8" fill="#000000"/>
<circle cx="54.3" cy="437.73" r="3" fill="#e8252b"/>
<circle cx="62.99" cy="431.55" r="3" fill="#e8252b"/>
<circle cx="74.76" cy="425.59" r="3" fill="#e8252b"/>
<circle cx="84.98" cy="421.21" r="3" fill="#e8252b"/>
<circle cx="95.21" cy="417.29" r="3" fill="#e8252b"/>
<circle cx="105.44" cy="413.71" r="3" fill="#e8252b"/>
<circle cx="115.67" cy="410.4" r="3" fill="#e8252b"/>
<circle cx="125.9" cy="407.33" r="3" fill="#e8252b"/>
<circle cx="136.12" cy="404.44" r="3" fill="#e8252b"/>
<circle cx="146.35" cy="401.72" r="3" fill="#e8252b"/>
<circle cx="156.58" cy="399.16" r="3" fill="#e8252b"/>
<circle cx="166.81" cy="396.72" r="3" fill="#e8252b"/>
<circle cx="177.04" cy="394.41" r="3" fill="#e8252b"/>
<circle cx="187.26" cy="392.21" r="3" fill="#e8252b"/>
<circle cx="197.49" cy="390.11" r="3" fill="#e8252b"/>
<circle cx="207.72" cy="388.11" r="3" fill="#e8252b"/>
<circle cx="217.95" cy="386.2" r="3" fill="#e8252b"/>
<circle cx="228.18" cy="384.37" r="3" fill="#e8252b"/>
<circle cx="238.4" cy="382.62" r="3" fill="#e8252b"/>
<circle cx="248.63" cy="380.94" r="3" fill="#e8252b"/>
<circle cx="258.86" cy="379.33" r="3" fill="#e8252b"/>
<circle cx="269.09" cy="377.79" r="3" fill="#e8252b"/>
<circle cx="279.32" cy="376.31" r="3" fill="#e8252b"/>
<circle cx="289.54" cy="374.9" r="3" fill="#e8252b"/>
<circle cx="299.77" cy="373.54" r="3" fill="#e8252b"/>
<circle cx="310" cy="372.23" r="3" fill="#e8252b"/>
<path d="M54.3 418.41L58.1 424.61L50.5 424.61Z" fill="#2b4fae"/>
<path d="M62.99 411.68L66.79 417.88L59.19 417.88Z" fill="#2b4fae"/>
<path d="M74.76 405.98L78.56 412.18L70.96 412.18Z" fill="#2b4fae"/>
<path d="M84.98 401.95L88.78 408.15L81.18 408.15Z" fill="#2b4fae"/>
<path d="M95.21 398.42L99.01 404.62L91.41 404.62Z" fill="#2b4fae"/>
<path d="M105.44 395.24L109.24 401.44L101.64 401.44Z" fill="#2b4fae"/>
<path d="M115.67 392.33L119.47 398.53L111.87 398.53Z" fill="#2b4fae"/>
<path d="M125.9 389.64L129.7 395.84L122.1 395.84Z" fill="#2b4fae"/>
<path d="M136.12 387.13L139.92 393.33L132.32 393.33Z" fill="#2b4fae"/>
<path d="M146.35 384.78L150.15 390.98L142.55 390.98Z" fill="#2b4fae"/>
<path d="M156.58 382.57L160.38 388.77L152.78 388.77Z" fill="#2b4fae"/>
<path d="M166.81 380.47L170.61 386.67L163.01 386.67Z" fill="#2b4fae"/>
<path d="M177.04 378.48L180.84 384.68L173.24 384.68Z" fill="#2b4fae"/>
<path d="M187.26 376.59L191.06 382.79L183.46 382.79Z" fill="#2b4fae"/>
<path d="M197.49 374.78L201.29 380.98L193.69 380.98Z" fill="#2b4fae"/>
<path d="M207.72 373.06L211.52 379.26L203.92 379.26Z" fill="#2b4fae"/>
<path d="M217.95 371.41L221.75 377.61L214.15 377.61Z" fill="#2b4fae"/>
<path d="M228.18 369.83L231.98 376.03L224.38 376.03Z" fill="#2b4fae"/>
<path d="M238.4 368.32L242.2 374.52L234.6 374.52Z" fill="#2b4fae"/>
<path d="M248.63 366.86L252.43 373.06L244.83 373.06Z" fill="#2b4fae"/>
<path d="M258.86 365.47L262.66 371.67L255.06 371.67Z" fill="#2b4fae"/>
<path d="M269.09 364.12L272.89 370.32L265.29 370.32Z" fill="#2b4fae"/>
<path d="M279.32 362.83L283.12 369.03L275.52 369.03Z" fill="#2b4fae"/>
<path d="M289.54 361.59L293.34 367.79L285.74 367.79Z" fill="#2b4fae"/>
<path d="M299.77 360.39L303.57 366.59L295.97 366.59Z" fill="#2b4fae"/>
<path d="M310 359.23L313.8 365.43L306.2 365.43Z" fill="#2b4fae"/>
<path d="M54.3 379.87L58.1 373.67L50.5 373.67Z" fill="#f28a30"/>
<path d="M62.99 377.76L66.79 371.56L59.19 371.56Z" fill="#f28a30"/>
<path d="M74.76 375.4L78.56 369.2L70.96 369.2Z" fill="#f28a30"/>
<path d="M84.98 373.52L88.78 367.32L81.18 367.32Z" fill="#f28a30"/>
<path d="M95.21 371.74L99.01 365.54L91.41 365.54Z" fill="#f28a30"/>
<path d="M105.44 370.03L109.24 363.83L101.64 363.83Z" fill="#f28a30"/>
<path d="M115.67 368.38L119.47 362.18L111.87 362.18Z" fill="#f28a30"/>
<path d="M125.9 366.78L129.7 360.58L122.1 360.58Z" fill="#f28a30"/>
<path d="M136.12 365.21L139.92 359.01L132.32 359.01Z" fill="#f28a30"/>
<path d="M146.35 363.69L150.15 357.49L142.55 357.49Z" fill="#f28a30"/>
<path d="M156.58 362.2L160.38 356L152.78 356Z" fill="#f28a30"/>
<path d="M166.81 360.74L170.61 354.54L163.01 354.54Z" fill="#f28a30"/>
<path d="M177.04 359.3L180.84 353.1L173.24 353.1Z" fill="#f28a30"/>
<path d="M187.26 357.89L191.06 351.69L183.46 351.69Z" fill="#f28a30"/>
<path d="M197.49 356.5L201.29 350.3L193.69 350.3Z" fill="#f28a30"/>
<path d="M207.72 355.13L211.52 348.93L203.92 348.93Z" fill="#f28a30"/>
<path d="M217.95 353.78L221.75 347.58L214.15 347.58Z" fill="#f28a30"/>
<path d="M228.18 352.45L231.98 346.25L224.38 346.25Z" fill="#f28a30"/>
<path d="M238.4 351.14L242.2 344.94L234.6 344.94Z" fill="#f28a30"/>
<path d="M248.63 349.84L252.43 343.64L244.83 343.64Z" fill="#f28a30"/>
<path d="M258.86 348.56L262.66 342.36L255.06 342.36Z" fill="#f28a30"/>
<path d="M269.09 347.29L272.89 341.09L265.29 341.09Z" fill="#f28a30"/>
<path d="M279.32 346.03L283.12 339.83L275.52 339.83Z" fill="#f28a30"/>
<path d="M289.54 344.79L293.34 338.59L285.74 338.59Z" fill="#f28a30"/>
<path d="M299.77 343.56L303.57 337.36L295.97 337.36Z" fill="#f28a30"/>
<path d="M310 342.35L313.8 336.15L306.2 336.15Z" fill="#f28a30"/>
<polyline points="54.3,431.22 57.54,427.18 60.77,425.5 64.01,424.22 67.25,423.14 70.48,422.18 73.72,421.32 76.96,420.53 80.19,419.79 83.43,419.09 86.67,418.44 89.9,417.81 93.14,417.22 96.38,416.65 99.61,416.1 102.85,415.57 106.09,415.05 109.32,414.56 112.56,414.07 115.8,413.6 119.03,413.15 122.27,412.7 125.51,412.26 128.74,411.84 131.98,411.42 135.22,411.01 138.45,410.61 141.69,410.22 144.93,409.83 148.16,409.46 151.4,409.08 154.64,408.72 157.87,408.36 161.11,408 164.35,407.65 167.58,407.31 170.82,406.97 174.06,406.64 177.29,406.31 180.53,405.98 183.77,405.66 187.01,405.34 190.24,405.03 193.48,404.72 196.72,404.41 199.95,404.11 203.19,403.81 206.43,403.51 209.66,403.22 212.9,402.93 216.14,402.64 219.37,402.36 222.61,402.08 225.85,401.8 229.08,401.52 232.32,401.25 235.56,400.98 238.79,400.71 242.03,400.44 245.27,400.18 248.5,399.91 251.74,399.65 254.98,399.4 258.21,399.14 261.45,398.89 264.69,398.64 267.92,398.39 271.16,398.14 274.4,397.89 277.63,397.65 280.87,397.41 284.11,397.17 287.34,396.93 290.58,396.69 293.82,396.45 297.05,396.22 300.29,395.99 303.53,395.76 306.76,395.53 310,395.3" fill="none" stroke="#000000" stroke-width="1.5"/>
<polyline points="54.3,431.22 57.54,424.46 60.77,421.66 64.01,419.51 67.25,417.7 70.48,416.11 73.72,414.66 76.96,413.34 80.19,412.1 83.43,410.94 86.67,409.85 89.9,408.8 93.14,407.81 96.38,406.85 99.61,405.93 102.85,405.04 106.09,404.19 109.32,403.35 112.56,402.55 115.8,401.76 119.03,400.99 122.27,400.25 125.51,399.52 128.74,398.81 131.98,398.11 135.22,397.43 138.45,396.76 141.69,396.1 144.93,395.46 148.16,394.82 151.4,394.2 154.64,393.59 157.87,392.99 161.11,392.4 164.35,391.81 167.58,391.24 170.82,390.67 174.06,390.11 177.29,389.56 180.53,389.01 183.77,388.48 187.01,387.94 190.24,387.42 193.48,386.9 196.72,386.39 199.95,385.88 203.19,385.38 206.43,384.89 209.66,384.4 212.9,383.91 216.14,383.43 219.37,382.95 222.61,382.48 225.85,382.02 229.08,381.56 232.32,381.1 235.56,380.64 238.79,380.19 242.03,379.75 245.27,379.31 248.5,378.87 251.74,378.43 254.98,378 258.21,377.58 261.45,377.15 264.69,376.73 267.92,376.31 271.16,375.9 274.4,375.49 277.63,375.08 280.87,374.67 284.11,374.27 287.34,373.87 290.58,373.48 293.82,373.08 297.05,372.69 300.29,372.3 303.53,371.91 306.76,371.53 310,371.15" fill="none" stroke="#e8252b" stroke-width="1.6" stroke-dasharray="7 5.8"/>
<polyline points="54.3,431.22 57.54,422.51 60.77,418.9 64.01,416.13 67.25,413.8 70.48,411.74 73.72,409.88 76.96,408.17 80.19,406.58 83.43,405.09 86.67,403.67 89.9,402.33 93.14,401.04 96.38,399.81 99.61,398.63 102.85,397.48 106.09,396.38 109.32,395.3 112.56,394.26 115.8,393.25 119.03,392.26 122.27,391.3 125.51,390.36 128.74,389.44 131.98,388.55 135.22,387.67 138.45,386.8 141.69,385.96 144.93,385.13 148.16,384.31 151.4,383.51 154.64,382.72 157.87,381.94 161.11,381.18 164.35,380.43 167.58,379.69 170.82,378.96 174.06,378.23 177.29,377.52 180.53,376.82 183.77,376.13 187.01,375.44 190.24,374.77 193.48,374.1 196.72,373.44 199.95,372.79 203.19,372.14 206.43,371.5 209.66,370.87 212.9,370.24 216.14,369.63 219.37,369.01 222.61,368.41 225.85,367.81 229.08,367.21 232.32,366.62 235.56,366.04 238.79,365.46 242.03,364.88 245.27,364.31 248.5,363.75 251.74,363.19 254.98,362.63 258.21,362.08 261.45,361.53 264.69,360.99 267.92,360.45 271.16,359.92 274.4,359.39 277.63,358.86 280.87,358.34 284.11,357.82 287.34,357.31 290.58,356.8 293.82,356.29 297.05,355.78 300.29,355.28 303.53,354.78 306.76,354.29 310,353.8" fill="none" stroke="#2b4fae" stroke-width="1.8" stroke-dasharray="1 6.8" stroke-linecap="round"/>
<polyline points="54.3,431.22 57.54,420.12 60.77,415.52 64.01,412 67.25,409.02 70.48,406.4 73.72,404.03 76.96,401.86 80.19,399.83 83.43,397.92 86.67,396.12 89.9,394.41 93.14,392.77 96.38,391.2 99.61,389.69 102.85,388.24 106.09,386.83 109.32,385.46 112.56,384.13 115.8,382.84 119.03,381.59 122.27,380.36 125.51,379.16 128.74,377.99 131.98,376.85 135.22,375.73 138.45,374.63 141.69,373.55 144.93,372.49 148.16,371.45 151.4,370.43 154.64,369.43 157.87,368.44 161.11,367.47 164.35,366.51 167.58,365.56 170.82,364.63 174.06,363.71 177.29,362.81 180.53,361.91 183.77,361.03 187.01,360.16 190.24,359.3 193.48,358.44 196.72,357.6 199.95,356.77 203.19,355.95 206.43,355.13 209.66,354.33 212.9,353.53 216.14,352.74 219.37,351.96 222.61,351.19 225.85,350.42 229.08,349.67 232.32,348.91 235.56,348.17 238.79,347.43 242.03,346.7 245.27,345.97 248.5,345.25 251.74,344.54 254.98,343.83 258.21,343.13 261.45,342.43 264.69,341.74 267.92,341.06 271.16,340.38 274.4,339.7 277.63,339.03 280.87,338.37 284.11,337.71 287.34,337.05 290.58,336.4 293.82,335.75 297.05,335.11 300.29,334.47 303.53,333.83 306.76,333.2 310,332.58" fill="none" stroke="#f28a30" stroke-width="1.6" stroke-dasharray="8 3 2 3.1"/>
</g>
<path d="M54.3 286.1V466.7M54.3 470.5V491.9" stroke="#000" stroke-width="1.7" fill="none"/>
<path d="M50.1 467.9L58.3 464.5M50.1 471.5L58.3 468.1" stroke="#000" stroke-width="1.3" fill="none"/>
<text transform="translate(47.4 290.7) scale(1.04 1)" text-anchor="end" class="tk">1400</text>
<text transform="translate(47.4 325.65) scale(1.04 1)" text-anchor="end" class="tk">1200</text>
<text transform="translate(47.4 360.6) scale(1.04 1)" text-anchor="end" class="tk">1000</text>
<text transform="translate(47.4 395.55) scale(1.04 1)" text-anchor="end" class="tk">800</text>
<text transform="translate(47.4 430.5) scale(1.04 1)" text-anchor="end" class="tk">600</text>
<text transform="translate(47.4 465.45) scale(1.04 1)" text-anchor="end" class="tk">400</text>
<path d="M49.7 286.7H54.3M51.7 304.18H54.3M49.7 321.65H54.3M51.7 339.12H54.3M49.7 356.6H54.3M51.7 374.08H54.3M49.7 391.55H54.3M51.7 409.03H54.3M49.7 426.5H54.3M51.7 443.98H54.3M49.7 461.45H54.3M51.7 478.1H54.3M49.7 488.3H54.3" stroke="#000" stroke-width="1.4" fill="none"/>
<text transform="translate(47.4 492.3) scale(1.04 1)" text-anchor="end" class="tk">0.0</text>
<path d="M54.3 488.3H310" stroke="#111" stroke-width="1.4" fill="none"/>
<path d="M54.3 488.3V492.1M79.87 488.3V490.5M105.44 488.3V492.1M131.01 488.3V490.5M156.58 488.3V492.1M182.15 488.3V490.5M207.72 488.3V492.1M233.29 488.3V490.5M258.86 488.3V492.1M284.43 488.3V490.5M310 488.3V492.1" stroke="#111" stroke-width="1.2" fill="none"/>
<text transform="translate(54.3 504) scale(1.04 1)" text-anchor="middle" class="tk">0.00</text>
<text transform="translate(105.44 504) scale(1.04 1)" text-anchor="middle" class="tk">0.02</text>
<text transform="translate(156.58 504) scale(1.04 1)" text-anchor="middle" class="tk">0.04</text>
<text transform="translate(207.72 504) scale(1.04 1)" text-anchor="middle" class="tk">0.06</text>
<text transform="translate(258.86 504) scale(1.04 1)" text-anchor="middle" class="tk">0.08</text>
<text transform="translate(310 504) scale(1.04 1)" text-anchor="middle" class="tk">0.10</text>
<text transform="translate(182 524.3) scale(1.02 1)" text-anchor="middle" class="tt">strain</text>
<text transform="translate(13.4 390.3) rotate(-90)" text-anchor="middle" class="tt">stress [MPa]</text>
<text x="59.3" y="297.3" class="lt" style="font-size:19.3px">c</text>
<rect x="82.1" y="291.9" width="4.8" height="4.8" fill="#000"/>
<text transform="translate(100.9 298) scale(1.07 1)" class="lg">experiments</text>
<path d="M70.1 309H98.3" stroke="#000" stroke-width="1.6"/>
<text transform="translate(100.9 313.1) scale(1.07 1)" class="lg">ZA FCC prediction</text>
<path d="M167.7 427.3H195.3" stroke="#000000" stroke-width="1.5"/>
<text transform="translate(197.9 431.1) scale(1.07 1)" class="lg">0.001/s</text>
<rect x="249.92" y="425.02" width="4.56" height="4.56" fill="#000000"/>
<text transform="translate(268.7 431.1) scale(1.07 1)" class="lg">0.001/s</text>
<path d="M167.7 442.8H195.3" stroke="#e8252b" stroke-width="1.6" stroke-dasharray="7 5.8"/>
<text transform="translate(197.9 446.6) scale(1.07 1)" class="lg">1/s</text>
<circle cx="252.2" cy="442.8" r="2.85" fill="#e8252b"/>
<text transform="translate(268.7 446.6) scale(1.07 1)" class="lg">1/s</text>
<path d="M167.7 458.3H195.3" stroke="#2b4fae" stroke-width="1.8" stroke-dasharray="1 6.8" stroke-linecap="round"/>
<text transform="translate(197.9 462.1) scale(1.07 1)" class="lg">100/s</text>
<path d="M252.2 454.85L255.81 460.74L248.59 460.74Z" fill="#2b4fae"/>
<text transform="translate(268.7 462.1) scale(1.07 1)" class="lg">100/s</text>
<path d="M167.7 473.8H195.3" stroke="#f28a30" stroke-width="1.6" stroke-dasharray="8 3 2 3.1"/>
<text transform="translate(197.9 477.6) scale(1.07 1)" class="lg">3500/s</text>
<path d="M252.2 477.24L255.81 471.35L248.59 471.35Z" fill="#f28a30"/>
<text transform="translate(268.7 477.6) scale(1.07 1)" class="lg">3500/s</text>
<clipPath id="clipd"><rect x="390.1" y="267.5" width="255.7" height="190"/></clipPath>
<g clip-path="url(#clipd)">
<rect x="387.7" y="432.79" width="4.8" height="4.8" fill="#000000"/>
<rect x="396.39" y="426.19" width="4.8" height="4.8" fill="#000000"/>
<rect x="408.16" y="420.3" width="4.8" height="4.8" fill="#000000"/>
<rect x="418.38" y="416.09" width="4.8" height="4.8" fill="#000000"/>
<rect x="428.61" y="412.38" width="4.8" height="4.8" fill="#000000"/>
<rect x="438.84" y="409.03" width="4.8" height="4.8" fill="#000000"/>
<rect x="449.07" y="405.96" width="4.8" height="4.8" fill="#000000"/>
<rect x="459.3" y="403.13" width="4.8" height="4.8" fill="#000000"/>
<rect x="469.52" y="400.49" width="4.8" height="4.8" fill="#000000"/>
<rect x="479.75" y="398.02" width="4.8" height="4.8" fill="#000000"/>
<rect x="489.98" y="395.69" width="4.8" height="4.8" fill="#000000"/>
<rect x="500.21" y="393.5" width="4.8" height="4.8" fill="#000000"/>
<rect x="510.44" y="391.42" width="4.8" height="4.8" fill="#000000"/>
<rect x="520.66" y="389.46" width="4.8" height="4.8" fill="#000000"/>
<rect x="530.89" y="387.59" width="4.8" height="4.8" fill="#000000"/>
<rect x="541.12" y="385.81" width="4.8" height="4.8" fill="#000000"/>
<rect x="551.35" y="384.11" width="4.8" height="4.8" fill="#000000"/>
<rect x="561.58" y="382.49" width="4.8" height="4.8" fill="#000000"/>
<rect x="571.8" y="380.95" width="4.8" height="4.8" fill="#000000"/>
<rect x="582.03" y="379.47" width="4.8" height="4.8" fill="#000000"/>
<rect x="592.26" y="378.06" width="4.8" height="4.8" fill="#000000"/>
<rect x="602.49" y="376.71" width="4.8" height="4.8" fill="#000000"/>
<rect x="612.72" y="375.42" width="4.8" height="4.8" fill="#000000"/>
<rect x="622.94" y="374.18" width="4.8" height="4.8" fill="#000000"/>
<rect x="633.17" y="373" width="4.8" height="4.8" fill="#000000"/>
<rect x="643.4" y="371.87" width="4.8" height="4.8" fill="#000000"/>
<circle cx="390.1" cy="428.53" r="3" fill="#e8252b"/>
<circle cx="398.79" cy="422.35" r="3" fill="#e8252b"/>
<circle cx="410.56" cy="416.39" r="3" fill="#e8252b"/>
<circle cx="420.78" cy="412.01" r="3" fill="#e8252b"/>
<circle cx="431.01" cy="408.09" r="3" fill="#e8252b"/>
<circle cx="441.24" cy="404.51" r="3" fill="#e8252b"/>
<circle cx="451.47" cy="401.2" r="3" fill="#e8252b"/>
<circle cx="461.7" cy="398.13" r="3" fill="#e8252b"/>
<circle cx="471.92" cy="395.24" r="3" fill="#e8252b"/>
<circle cx="482.15" cy="392.52" r="3" fill="#e8252b"/>
<circle cx="492.38" cy="389.96" r="3" fill="#e8252b"/>
<circle cx="502.61" cy="387.52" r="3" fill="#e8252b"/>
<circle cx="512.84" cy="385.21" r="3" fill="#e8252b"/>
<circle cx="523.06" cy="383.01" r="3" fill="#e8252b"/>
<circle cx="533.29" cy="380.91" r="3" fill="#e8252b"/>
<circle cx="543.52" cy="378.91" r="3" fill="#e8252b"/>
<circle cx="553.75" cy="377" r="3" fill="#e8252b"/>
<circle cx="563.98" cy="375.17" r="3" fill="#e8252b"/>
<circle cx="574.2" cy="373.42" r="3" fill="#e8252b"/>
<circle cx="584.43" cy="371.74" r="3" fill="#e8252b"/>
<circle cx="594.66" cy="370.13" r="3" fill="#e8252b"/>
<circle cx="604.89" cy="368.59" r="3" fill="#e8252b"/>
<circle cx="615.12" cy="367.11" r="3" fill="#e8252b"/>
<circle cx="625.34" cy="365.7" r="3" fill="#e8252b"/>
<circle cx="635.57" cy="364.34" r="3" fill="#e8252b"/>
<circle cx="645.8" cy="363.03" r="3" fill="#e8252b"/>
<path d="M390.1 409.21L393.9 415.41L386.3 415.41Z" fill="#2b4fae"/>
<path d="M398.79 402.48L402.59 408.68L394.99 408.68Z" fill="#2b4fae"/>
<path d="M410.56 396.78L414.36 402.98L406.76 402.98Z" fill="#2b4fae"/>
<path d="M420.78 392.75L424.58 398.95L416.98 398.95Z" fill="#2b4fae"/>
<path d="M431.01 389.22L434.81 395.42L427.21 395.42Z" fill="#2b4fae"/>
<path d="M441.24 386.04L445.04 392.24L437.44 392.24Z" fill="#2b4fae"/>
<path d="M451.47 383.13L455.27 389.33L447.67 389.33Z" fill="#2b4fae"/>
<path d="M461.7 380.44L465.5 386.64L457.9 386.64Z" fill="#2b4fae"/>
<path d="M471.92 377.93L475.72 384.13L468.12 384.13Z" fill="#2b4fae"/>
<path d="M482.15 375.58L485.95 381.78L478.35 381.78Z" fill="#2b4fae"/>
<path d="M492.38 373.37L496.18 379.57L488.58 379.57Z" fill="#2b4fae"/>
<path d="M502.61 371.27L506.41 377.47L498.81 377.47Z" fill="#2b4fae"/>
<path d="M512.84 369.28L516.64 375.48L509.04 375.48Z" fill="#2b4fae"/>
<path d="M523.06 367.39L526.86 373.59L519.26 373.59Z" fill="#2b4fae"/>
<path d="M533.29 365.58L537.09 371.78L529.49 371.78Z" fill="#2b4fae"/>
<path d="M543.52 363.86L547.32 370.06L539.72 370.06Z" fill="#2b4fae"/>
<path d="M553.75 362.21L557.55 368.41L549.95 368.41Z" fill="#2b4fae"/>
<path d="M563.98 360.63L567.78 366.83L560.18 366.83Z" fill="#2b4fae"/>
<path d="M574.2 359.12L578 365.32L570.4 365.32Z" fill="#2b4fae"/>
<path d="M584.43 357.66L588.23 363.86L580.63 363.86Z" fill="#2b4fae"/>
<path d="M594.66 356.27L598.46 362.47L590.86 362.47Z" fill="#2b4fae"/>
<path d="M604.89 354.92L608.69 361.12L601.09 361.12Z" fill="#2b4fae"/>
<path d="M615.12 353.63L618.92 359.83L611.32 359.83Z" fill="#2b4fae"/>
<path d="M625.34 352.39L629.14 358.59L621.54 358.59Z" fill="#2b4fae"/>
<path d="M635.57 351.19L639.37 357.39L631.77 357.39Z" fill="#2b4fae"/>
<path d="M645.8 350.03L649.6 356.23L642 356.23Z" fill="#2b4fae"/>
<path d="M390.1 370.67L393.9 364.47L386.3 364.47Z" fill="#f28a30"/>
<path d="M398.79 368.56L402.59 362.36L394.99 362.36Z" fill="#f28a30"/>
<path d="M410.56 366.2L414.36 360L406.76 360Z" fill="#f28a30"/>
<path d="M420.78 364.32L424.58 358.12L416.98 358.12Z" fill="#f28a30"/>
<path d="M431.01 362.54L434.81 356.34L427.21 356.34Z" fill="#f28a30"/>
<path d="M441.24 360.83L445.04 354.63L437.44 354.63Z" fill="#f28a30"/>
<path d="M451.47 359.18L455.27 352.98L447.67 352.98Z" fill="#f28a30"/>
<path d="M461.7 357.58L465.5 351.38L457.9 351.38Z" fill="#f28a30"/>
<path d="M471.92 356.01L475.72 349.81L468.12 349.81Z" fill="#f28a30"/>
<path d="M482.15 354.49L485.95 348.29L478.35 348.29Z" fill="#f28a30"/>
<path d="M492.38 353L496.18 346.8L488.58 346.8Z" fill="#f28a30"/>
<path d="M502.61 351.54L506.41 345.34L498.81 345.34Z" fill="#f28a30"/>
<path d="M512.84 350.1L516.64 343.9L509.04 343.9Z" fill="#f28a30"/>
<path d="M523.06 348.69L526.86 342.49L519.26 342.49Z" fill="#f28a30"/>
<path d="M533.29 347.3L537.09 341.1L529.49 341.1Z" fill="#f28a30"/>
<path d="M543.52 345.93L547.32 339.73L539.72 339.73Z" fill="#f28a30"/>
<path d="M553.75 344.58L557.55 338.38L549.95 338.38Z" fill="#f28a30"/>
<path d="M563.98 343.25L567.78 337.05L560.18 337.05Z" fill="#f28a30"/>
<path d="M574.2 341.94L578 335.74L570.4 335.74Z" fill="#f28a30"/>
<path d="M584.43 340.64L588.23 334.44L580.63 334.44Z" fill="#f28a30"/>
<path d="M594.66 339.36L598.46 333.16L590.86 333.16Z" fill="#f28a30"/>
<path d="M604.89 338.09L608.69 331.89L601.09 331.89Z" fill="#f28a30"/>
<path d="M615.12 336.83L618.92 330.63L611.32 330.63Z" fill="#f28a30"/>
<path d="M625.34 335.59L629.14 329.39L621.54 329.39Z" fill="#f28a30"/>
<path d="M635.57 334.36L639.37 328.16L631.77 328.16Z" fill="#f28a30"/>
<path d="M645.8 333.15L649.6 326.95L642 326.95Z" fill="#f28a30"/>
<polyline points="390.1,437.57 393.34,431.96 396.57,429.26 399.81,427.1 403.05,425.24 406.28,423.58 409.52,422.05 412.76,420.63 415.99,419.3 419.23,418.03 422.47,416.83 425.7,415.68 428.94,414.57 432.18,413.5 435.41,412.46 438.65,411.46 441.89,410.48 445.12,409.53 448.36,408.61 451.6,407.7 454.83,406.82 458.07,405.96 461.31,405.11 464.54,404.28 467.78,403.47 471.02,402.67 474.25,401.88 477.49,401.11 480.73,400.35 483.96,399.6 487.2,398.86 490.44,398.13 493.67,397.41 496.91,396.7 500.15,396.01 503.38,395.32 506.62,394.63 509.86,393.96 513.09,393.29 516.33,392.64 519.57,391.99 522.81,391.34 526.04,390.7 529.28,390.07 532.52,389.45 535.75,388.83 538.99,388.22 542.23,387.61 545.46,387.01 548.7,386.42 551.94,385.83 555.17,385.24 558.41,384.66 561.65,384.08 564.88,383.51 568.12,382.95 571.36,382.39 574.59,381.83 577.83,381.27 581.07,380.73 584.3,380.18 587.54,379.64 590.78,379.1 594.01,378.57 597.25,378.04 600.49,377.51 603.72,376.99 606.96,376.47 610.2,375.95 613.43,375.44 616.67,374.93 619.91,374.42 623.14,373.92 626.38,373.42 629.62,372.92 632.85,372.42 636.09,371.93 639.33,371.44 642.56,370.96 645.8,370.47" fill="none" stroke="#000000" stroke-width="1.5"/>
<polyline points="390.1,426.3 393.34,422.81 396.57,420.87 399.81,419.27 403.05,417.85 406.28,416.55 409.52,415.35 412.76,414.22 415.99,413.14 419.23,412.11 422.47,411.12 425.7,410.17 428.94,409.25 432.18,408.35 435.41,407.48 438.65,406.63 441.89,405.81 445.12,405 448.36,404.2 451.6,403.43 454.83,402.66 458.07,401.92 461.31,401.18 464.54,400.46 467.78,399.74 471.02,399.04 474.25,398.35 477.49,397.67 480.73,396.99 483.96,396.33 487.2,395.67 490.44,395.03 493.67,394.38 496.91,393.75 500.15,393.12 503.38,392.5 506.62,391.89 509.86,391.28 513.09,390.68 516.33,390.08 519.57,389.49 522.81,388.91 526.04,388.33 529.28,387.75 532.52,387.18 535.75,386.62 538.99,386.06 542.23,385.5 545.46,384.95 548.7,384.4 551.94,383.85 555.17,383.31 558.41,382.78 561.65,382.24 564.88,381.71 568.12,381.19 571.36,380.66 574.59,380.15 577.83,379.63 581.07,379.12 584.3,378.61 587.54,378.1 590.78,377.6 594.01,377.1 597.25,376.6 600.49,376.11 603.72,375.61 606.96,375.12 610.2,374.64 613.43,374.15 616.67,373.67 619.91,373.19 623.14,372.72 626.38,372.24 629.62,371.77 632.85,371.3 636.09,370.83 639.33,370.37 642.56,369.9 645.8,369.44" fill="none" stroke="#e8252b" stroke-width="1.6" stroke-dasharray="7 5.8"/>
<polyline points="390.1,403.84 393.34,400.5 396.57,398.66 399.81,397.15 403.05,395.81 406.28,394.6 409.52,393.47 412.76,392.41 415.99,391.41 419.23,390.45 422.47,389.52 425.7,388.64 428.94,387.78 432.18,386.95 435.41,386.14 438.65,385.35 441.89,384.58 445.12,383.83 448.36,383.09 451.6,382.37 454.83,381.67 458.07,380.97 461.31,380.29 464.54,379.62 467.78,378.96 471.02,378.31 474.25,377.68 477.49,377.04 480.73,376.42 483.96,375.81 487.2,375.2 490.44,374.6 493.67,374.01 496.91,373.43 500.15,372.85 503.38,372.28 506.62,371.71 509.86,371.15 513.09,370.59 516.33,370.05 519.57,369.5 522.81,368.96 526.04,368.43 529.28,367.9 532.52,367.37 535.75,366.85 538.99,366.33 542.23,365.82 545.46,365.31 548.7,364.81 551.94,364.31 555.17,363.81 558.41,363.32 561.65,362.83 564.88,362.34 568.12,361.86 571.36,361.38 574.59,360.9 577.83,360.43 581.07,359.96 584.3,359.49 587.54,359.02 590.78,358.56 594.01,358.1 597.25,357.64 600.49,357.19 603.72,356.74 606.96,356.29 610.2,355.84 613.43,355.4 616.67,354.96 619.91,354.52 623.14,354.08 626.38,353.64 629.62,353.21 632.85,352.78 636.09,352.35 639.33,351.93 642.56,351.5 645.8,351.08" fill="none" stroke="#2b4fae" stroke-width="1.8" stroke-dasharray="1 6.8" stroke-linecap="round"/>
<polyline points="390.1,381.3 393.34,376.85 396.57,374.71 399.81,373.02 403.05,371.56 406.28,370.25 409.52,369.05 412.76,367.93 415.99,366.88 419.23,365.89 422.47,364.95 425.7,364.04 428.94,363.17 432.18,362.33 435.41,361.52 438.65,360.74 441.89,359.97 445.12,359.23 448.36,358.51 451.6,357.8 454.83,357.11 458.07,356.43 461.31,355.77 464.54,355.12 467.78,354.48 471.02,353.86 474.25,353.24 477.49,352.64 480.73,352.04 483.96,351.46 487.2,350.88 490.44,350.31 493.67,349.75 496.91,349.2 500.15,348.65 503.38,348.11 506.62,347.58 509.86,347.05 513.09,346.53 516.33,346.02 519.57,345.51 522.81,345.01 526.04,344.51 529.28,344.02 532.52,343.53 535.75,343.05 538.99,342.57 542.23,342.1 545.46,341.63 548.7,341.16 551.94,340.7 555.17,340.24 558.41,339.79 561.65,339.34 564.88,338.9 568.12,338.45 571.36,338.02 574.59,337.58 577.83,337.15 581.07,336.72 584.3,336.29 587.54,335.87 590.78,335.45 594.01,335.04 597.25,334.62 600.49,334.21 603.72,333.8 606.96,333.4 610.2,333 613.43,332.6 616.67,332.2 619.91,331.8 623.14,331.41 626.38,331.02 629.62,330.63 632.85,330.25 636.09,329.86 639.33,329.48 642.56,329.1 645.8,328.73" fill="none" stroke="#f28a30" stroke-width="1.6" stroke-dasharray="8 3 2 3.1"/>
</g>
<path d="M390.1 276.9V457.5M390.1 461.3V482.7" stroke="#000" stroke-width="1.7" fill="none"/>
<path d="M385.9 458.7L394.1 455.3M385.9 462.3L394.1 458.9" stroke="#000" stroke-width="1.3" fill="none"/>
<text transform="translate(383.2 281.5) scale(1.04 1)" text-anchor="end" class="tk">1400</text>
<text transform="translate(383.2 316.45) scale(1.04 1)" text-anchor="end" class="tk">1200</text>
<text transform="translate(383.2 351.4) scale(1.04 1)" text-anchor="end" class="tk">1000</text>
<text transform="translate(383.2 386.35) scale(1.04 1)" text-anchor="end" class="tk">800</text>
<text transform="translate(383.2 421.3) scale(1.04 1)" text-anchor="end" class="tk">600</text>
<text transform="translate(383.2 456.25) scale(1.04 1)" text-anchor="end" class="tk">400</text>
<path d="M385.5 277.5H390.1M387.5 294.98H390.1M385.5 312.45H390.1M387.5 329.93H390.1M385.5 347.4H390.1M387.5 364.88H390.1M385.5 382.35H390.1M387.5 399.83H390.1M385.5 417.3H390.1M387.5 434.78H390.1M385.5 452.25H390.1M387.5 468.9H390.1M385.5 479.1H390.1" stroke="#000" stroke-width="1.4" fill="none"/>
<text transform="translate(383.2 483.1) scale(1.04 1)" text-anchor="end" class="tk">0.0</text>
<path d="M390.1 479.1H645.8" stroke="#111" stroke-width="1.4" fill="none"/>
<path d="M390.1 479.1V482.9M415.67 479.1V481.3M441.24 479.1V482.9M466.81 479.1V481.3M492.38 479.1V482.9M517.95 479.1V481.3M543.52 479.1V482.9M569.09 479.1V481.3M594.66 479.1V482.9M620.23 479.1V481.3M645.8 479.1V482.9" stroke="#111" stroke-width="1.2" fill="none"/>
<text transform="translate(390.1 494.8) scale(1.04 1)" text-anchor="middle" class="tk">0.00</text>
<text transform="translate(441.24 494.8) scale(1.04 1)" text-anchor="middle" class="tk">0.02</text>
<text transform="translate(492.38 494.8) scale(1.04 1)" text-anchor="middle" class="tk">0.04</text>
<text transform="translate(543.52 494.8) scale(1.04 1)" text-anchor="middle" class="tk">0.06</text>
<text transform="translate(594.66 494.8) scale(1.04 1)" text-anchor="middle" class="tk">0.08</text>
<text transform="translate(645.8 494.8) scale(1.04 1)" text-anchor="middle" class="tk">0.10</text>
<text transform="translate(517.8 515.1) scale(1.02 1)" text-anchor="middle" class="tt">strain</text>
<text transform="translate(349.2 381.1) rotate(-90)" text-anchor="middle" class="tt">stress [MPa]</text>
<text x="396.8" y="297" class="lt" style="font-size:20.4px">d</text>
<rect x="417.9" y="282.7" width="4.8" height="4.8" fill="#000"/>
<text transform="translate(436.7 288.8) scale(1.07 1)" class="lg">experiments</text>
<path d="M405.9 299.8H434.1" stroke="#000" stroke-width="1.6"/>
<text transform="translate(436.7 303.9) scale(1.07 1)" class="lg">Mod KH prediction</text>
<path d="M503.5 418.1H531.1" stroke="#000000" stroke-width="1.5"/>
<text transform="translate(533.7 421.9) scale(1.07 1)" class="lg">0.001/s</text>
<rect x="585.72" y="415.82" width="4.56" height="4.56" fill="#000000"/>
<text transform="translate(604.5 421.9) scale(1.07 1)" class="lg">0.001/s</text>
<path d="M503.5 433.6H531.1" stroke="#e8252b" stroke-width="1.6" stroke-dasharray="7 5.8"/>
<text transform="translate(533.7 437.4) scale(1.07 1)" class="lg">1/s</text>
<circle cx="588" cy="433.6" r="2.85" fill="#e8252b"/>
<text transform="translate(604.5 437.4) scale(1.07 1)" class="lg">1/s</text>
<path d="M503.5 449.1H531.1" stroke="#2b4fae" stroke-width="1.8" stroke-dasharray="1 6.8" stroke-linecap="round"/>
<text transform="translate(533.7 452.9) scale(1.07 1)" class="lg">100/s</text>
<path d="M588 445.66L591.61 451.55L584.39 451.55Z" fill="#2b4fae"/>
<text transform="translate(604.5 452.9) scale(1.07 1)" class="lg">100/s</text>
<path d="M503.5 464.6H531.1" stroke="#f28a30" stroke-width="1.6" stroke-dasharray="8 3 2 3.1"/>
<text transform="translate(533.7 468.4) scale(1.07 1)" class="lg">3500/s</text>
<path d="M588 468.05L591.61 462.16L584.39 462.16Z" fill="#f28a30"/>
<text transform="translate(604.5 468.4) scale(1.07 1)" class="lg">3500/s</text>
<clipPath id="clipe"><rect x="54.1" y="549" width="255.7" height="190"/></clipPath>
<g clip-path="url(#clipe)">
<rect x="51.7" y="714.29" width="4.8" height="4.8" fill="#000000"/>
<rect x="60.39" y="707.69" width="4.8" height="4.8" fill="#000000"/>
<rect x="72.16" y="701.8" width="4.8" height="4.8" fill="#000000"/>
<rect x="82.38" y="697.59" width="4.8" height="4.8" fill="#000000"/>
<rect x="92.61" y="693.88" width="4.8" height="4.8" fill="#000000"/>
<rect x="102.84" y="690.53" width="4.8" height="4.8" fill="#000000"/>
<rect x="113.07" y="687.46" width="4.8" height="4.8" fill="#000000"/>
<rect x="123.3" y="684.63" width="4.8" height="4.8" fill="#000000"/>
<rect x="133.52" y="681.99" width="4.8" height="4.8" fill="#000000"/>
<rect x="143.75" y="679.52" width="4.8" height="4.8" fill="#000000"/>
<rect x="153.98" y="677.19" width="4.8" height="4.8" fill="#000000"/>
<rect x="164.21" y="675" width="4.8" height="4.8" fill="#000000"/>
<rect x="174.44" y="672.92" width="4.8" height="4.8" fill="#000000"/>
<rect x="184.66" y="670.96" width="4.8" height="4.8" fill="#000000"/>
<rect x="194.89" y="669.09" width="4.8" height="4.8" fill="#000000"/>
<rect x="205.12" y="667.31" width="4.8" height="4.8" fill="#000000"/>
<rect x="215.35" y="665.61" width="4.8" height="4.8" fill="#000000"/>
<rect x="225.58" y="663.99" width="4.8" height="4.8" fill="#000000"/>
<rect x="235.8" y="662.45" width="4.8" height="4.8" fill="#000000"/>
<rect x="246.03" y="660.97" width="4.8" height="4.8" fill="#000000"/>
<rect x="256.26" y="659.56" width="4.8" height="4.8" fill="#000000"/>
<rect x="266.49" y="658.21" width="4.8" height="4.8" fill="#000000"/>
<rect x="276.72" y="656.92" width="4.8" height="4.8" fill="#000000"/>
<rect x="286.94" y="655.68" width="4.8" height="4.8" fill="#000000"/>
<rect x="297.17" y="654.5" width="4.8" height="4.8" fill="#000000"/>
<rect x="307.4" y="653.37" width="4.8" height="4.8" fill="#000000"/>
<circle cx="54.1" cy="710.03" r="3" fill="#e8252b"/>
<circle cx="62.79" cy="703.85" r="3" fill="#e8252b"/>
<circle cx="74.56" cy="697.89" r="3" fill="#e8252b"/>
<circle cx="84.78" cy="693.51" r="3" fill="#e8252b"/>
<circle cx="95.01" cy="689.59" r="3" fill="#e8252b"/>
<circle cx="105.24" cy="686.01" r="3" fill="#e8252b"/>
<circle cx="115.47" cy="682.7" r="3" fill="#e8252b"/>
<circle cx="125.7" cy="679.63" r="3" fill="#e8252b"/>
<circle cx="135.92" cy="676.74" r="3" fill="#e8252b"/>
<circle cx="146.15" cy="674.02" r="3" fill="#e8252b"/>
<circle cx="156.38" cy="671.46" r="3" fill="#e8252b"/>
<circle cx="166.61" cy="669.02" r="3" fill="#e8252b"/>
<circle cx="176.84" cy="666.71" r="3" fill="#e8252b"/>
<circle cx="187.06" cy="664.51" r="3" fill="#e8252b"/>
<circle cx="197.29" cy="662.41" r="3" fill="#e8252b"/>
<circle cx="207.52" cy="660.41" r="3" fill="#e8252b"/>
<circle cx="217.75" cy="658.5" r="3" fill="#e8252b"/>
<circle cx="227.98" cy="656.67" r="3" fill="#e8252b"/>
<circle cx="238.2" cy="654.92" r="3" fill="#e8252b"/>
<circle cx="248.43" cy="653.24" r="3" fill="#e8252b"/>
<circle cx="258.66" cy="651.63" r="3" fill="#e8252b"/>
<circle cx="268.89" cy="650.09" r="3" fill="#e8252b"/>
<circle cx="279.12" cy="648.61" r="3" fill="#e8252b"/>
<circle cx="289.34" cy="647.2" r="3" fill="#e8252b"/>
<circle cx="299.57" cy="645.84" r="3" fill="#e8252b"/>
<circle cx="309.8" cy="644.53" r="3" fill="#e8252b"/>
<path d="M54.1 690.71L57.9 696.91L50.3 696.91Z" fill="#2b4fae"/>
<path d="M62.79 683.98L66.59 690.18L58.99 690.18Z" fill="#2b4fae"/>
<path d="M74.56 678.28L78.36 684.48L70.76 684.48Z" fill="#2b4fae"/>
<path d="M84.78 674.25L88.58 680.45L80.98 680.45Z" fill="#2b4fae"/>
<path d="M95.01 670.72L98.81 676.92L91.21 676.92Z" fill="#2b4fae"/>
<path d="M105.24 667.54L109.04 673.74L101.44 673.74Z" fill="#2b4fae"/>
<path d="M115.47 664.63L119.27 670.83L111.67 670.83Z" fill="#2b4fae"/>
<path d="M125.7 661.94L129.5 668.14L121.9 668.14Z" fill="#2b4fae"/>
<path d="M135.92 659.43L139.72 665.63L132.12 665.63Z" fill="#2b4fae"/>
<path d="M146.15 657.08L149.95 663.28L142.35 663.28Z" fill="#2b4fae"/>
<path d="M156.38 654.87L160.18 661.07L152.58 661.07Z" fill="#2b4fae"/>
<path d="M166.61 652.77L170.41 658.97L162.81 658.97Z" fill="#2b4fae"/>
<path d="M176.84 650.78L180.64 656.98L173.04 656.98Z" fill="#2b4fae"/>
<path d="M187.06 648.89L190.86 655.09L183.26 655.09Z" fill="#2b4fae"/>
<path d="M197.29 647.08L201.09 653.28L193.49 653.28Z" fill="#2b4fae"/>
<path d="M207.52 645.36L211.32 651.56L203.72 651.56Z" fill="#2b4fae"/>
<path d="M217.75 643.71L221.55 649.91L213.95 649.91Z" fill="#2b4fae"/>
<path d="M227.98 642.13L231.78 648.33L224.18 648.33Z" fill="#2b4fae"/>
<path d="M238.2 640.62L242 646.82L234.4 646.82Z" fill="#2b4fae"/>
<path d="M248.43 639.16L252.23 645.36L244.63 645.36Z" fill="#2b4fae"/>
<path d="M258.66 637.77L262.46 643.97L254.86 643.97Z" fill="#2b4fae"/>
<path d="M268.89 636.42L272.69 642.62L265.09 642.62Z" fill="#2b4fae"/>
<path d="M279.12 635.13L282.92 641.33L275.32 641.33Z" fill="#2b4fae"/>
<path d="M289.34 633.89L293.14 640.09L285.54 640.09Z" fill="#2b4fae"/>
<path d="M299.57 632.69L303.37 638.89L295.77 638.89Z" fill="#2b4fae"/>
<path d="M309.8 631.53L313.6 637.73L306 637.73Z" fill="#2b4fae"/>
<path d="M54.1 652.17L57.9 645.97L50.3 645.97Z" fill="#f28a30"/>
<path d="M62.79 650.06L66.59 643.86L58.99 643.86Z" fill="#f28a30"/>
<path d="M74.56 647.7L78.36 641.5L70.76 641.5Z" fill="#f28a30"/>
<path d="M84.78 645.82L88.58 639.62L80.98 639.62Z" fill="#f28a30"/>
<path d="M95.01 644.04L98.81 637.84L91.21 637.84Z" fill="#f28a30"/>
<path d="M105.24 642.33L109.04 636.13L101.44 636.13Z" fill="#f28a30"/>
<path d="M115.47 640.68L119.27 634.48L111.67 634.48Z" fill="#f28a30"/>
<path d="M125.7 639.08L129.5 632.88L121.9 632.88Z" fill="#f28a30"/>
<path d="M135.92 637.51L139.72 631.31L132.12 631.31Z" fill="#f28a30"/>
<path d="M146.15 635.99L149.95 629.79L142.35 629.79Z" fill="#f28a30"/>
<path d="M156.38 634.5L160.18 628.3L152.58 628.3Z" fill="#f28a30"/>
<path d="M166.61 633.04L170.41 626.84L162.81 626.84Z" fill="#f28a30"/>
<path d="M176.84 631.6L180.64 625.4L173.04 625.4Z" fill="#f28a30"/>
<path d="M187.06 630.19L190.86 623.99L183.26 623.99Z" fill="#f28a30"/>
<path d="M197.29 628.8L201.09 622.6L193.49 622.6Z" fill="#f28a30"/>
<path d="M207.52 627.43L211.32 621.23L203.72 621.23Z" fill="#f28a30"/>
<path d="M217.75 626.08L221.55 619.88L213.95 619.88Z" fill="#f28a30"/>
<path d="M227.98 624.75L231.78 618.55L224.18 618.55Z" fill="#f28a30"/>
<path d="M238.2 623.44L242 617.24L234.4 617.24Z" fill="#f28a30"/>
<path d="M248.43 622.14L252.23 615.94L244.63 615.94Z" fill="#f28a30"/>
<path d="M258.66 620.86L262.46 614.66L254.86 614.66Z" fill="#f28a30"/>
<path d="M268.89 619.59L272.69 613.39L265.09 613.39Z" fill="#f28a30"/>
<path d="M279.12 618.33L282.92 612.13L275.32 612.13Z" fill="#f28a30"/>
<path d="M289.34 617.09L293.14 610.89L285.54 610.89Z" fill="#f28a30"/>
<path d="M299.57 615.86L303.37 609.66L295.77 609.66Z" fill="#f28a30"/>
<path d="M309.8 614.65L313.6 608.45L306 608.45Z" fill="#f28a30"/>
<polyline points="54.1,710.4 57.34,706.58 60.57,704.56 63.81,702.93 67.05,701.49 70.28,700.19 73.52,698.99 76.76,697.86 79.99,696.8 83.23,695.79 86.47,694.82 89.7,693.88 92.94,692.98 96.18,692.11 99.41,691.27 102.65,690.44 105.89,689.64 109.12,688.86 112.36,688.09 115.6,687.35 118.83,686.61 122.07,685.9 125.31,685.19 128.54,684.5 131.78,683.82 135.02,683.15 138.25,682.49 141.49,681.84 144.73,681.19 147.96,680.56 151.2,679.94 154.44,679.32 157.67,678.72 160.91,678.12 164.15,677.52 167.38,676.94 170.62,676.35 173.86,675.78 177.09,675.21 180.33,674.65 183.57,674.09 186.81,673.54 190.04,673 193.28,672.46 196.52,671.92 199.75,671.39 202.99,670.86 206.23,670.34 209.46,669.82 212.7,669.31 215.94,668.8 219.17,668.29 222.41,667.79 225.65,667.3 228.88,666.8 232.12,666.31 235.36,665.82 238.59,665.34 241.83,664.86 245.07,664.38 248.3,663.91 251.54,663.44 254.78,662.97 258.01,662.5 261.25,662.04 264.49,661.58 267.72,661.12 270.96,660.67 274.2,660.22 277.43,659.77 280.67,659.32 283.91,658.88 287.14,658.44 290.38,658 293.62,657.56 296.85,657.13 300.09,656.69 303.33,656.26 306.56,655.84 309.8,655.41" fill="none" stroke="#000000" stroke-width="1.5"/>
<polyline points="54.1,707.36 57.34,703.19 60.57,701.07 63.81,699.35 67.05,697.86 70.28,696.51 73.52,695.27 76.76,694.11 79.99,693.02 83.23,691.98 86.47,690.99 89.7,690.03 92.94,689.11 96.18,688.22 99.41,687.36 102.65,686.53 105.89,685.71 109.12,684.92 112.36,684.14 115.6,683.39 118.83,682.64 122.07,681.92 125.31,681.2 128.54,680.5 131.78,679.82 135.02,679.14 138.25,678.48 141.49,677.82 144.73,677.18 147.96,676.54 151.2,675.91 154.44,675.29 157.67,674.68 160.91,674.08 164.15,673.48 167.38,672.9 170.62,672.32 173.86,671.74 177.09,671.17 180.33,670.61 183.57,670.05 186.81,669.5 190.04,668.95 193.28,668.41 196.52,667.88 199.75,667.35 202.99,666.82 206.23,666.3 209.46,665.78 212.7,665.27 215.94,664.76 219.17,664.26 222.41,663.76 225.65,663.26 228.88,662.77 232.12,662.28 235.36,661.8 238.59,661.32 241.83,660.84 245.07,660.36 248.3,659.89 251.54,659.42 254.78,658.96 258.01,658.49 261.25,658.04 264.49,657.58 267.72,657.13 270.96,656.67 274.2,656.23 277.43,655.78 280.67,655.34 283.91,654.9 287.14,654.46 290.38,654.03 293.62,653.59 296.85,653.16 300.09,652.73 303.33,652.31 306.56,651.88 309.8,651.46" fill="none" stroke="#e8252b" stroke-width="1.6" stroke-dasharray="7 5.8"/>
<polyline points="54.1,689.89 57.34,685.3 60.57,683.07 63.81,681.29 67.05,679.76 70.28,678.38 73.52,677.11 76.76,675.94 79.99,674.83 83.23,673.78 86.47,672.78 89.7,671.82 92.94,670.9 96.18,670.01 99.41,669.15 102.65,668.31 105.89,667.5 109.12,666.71 112.36,665.94 115.6,665.19 118.83,664.45 122.07,663.73 125.31,663.03 128.54,662.34 131.78,661.66 135.02,660.99 138.25,660.33 141.49,659.69 144.73,659.05 147.96,658.43 151.2,657.81 154.44,657.21 157.67,656.61 160.91,656.02 164.15,655.43 167.38,654.86 170.62,654.29 173.86,653.72 177.09,653.17 180.33,652.62 183.57,652.08 186.81,651.54 190.04,651.01 193.28,650.48 196.52,649.96 199.75,649.44 202.99,648.93 206.23,648.42 209.46,647.92 212.7,647.42 215.94,646.93 219.17,646.44 222.41,645.95 225.65,645.47 228.88,644.99 232.12,644.52 235.36,644.05 238.59,643.58 241.83,643.12 245.07,642.66 248.3,642.21 251.54,641.75 254.78,641.3 258.01,640.86 261.25,640.41 264.49,639.97 267.72,639.53 270.96,639.1 274.2,638.67 277.43,638.24 280.67,637.81 283.91,637.39 287.14,636.96 290.38,636.55 293.62,636.13 296.85,635.71 300.09,635.3 303.33,634.89 306.56,634.49 309.8,634.08" fill="none" stroke="#2b4fae" stroke-width="1.8" stroke-dasharray="1 6.8" stroke-linecap="round"/>
<polyline points="54.1,673.64 57.34,668.76 60.57,666.14 63.81,664 67.05,662.12 70.28,660.41 73.52,658.82 76.76,657.34 79.99,655.93 83.23,654.59 86.47,653.3 89.7,652.07 92.94,650.87 96.18,649.71 99.41,648.59 102.65,647.49 105.89,646.43 109.12,645.38 112.36,644.36 115.6,643.37 118.83,642.39 122.07,641.43 125.31,640.49 128.54,639.56 131.78,638.65 135.02,637.75 138.25,636.87 141.49,636 144.73,635.14 147.96,634.29 151.2,633.46 154.44,632.63 157.67,631.82 160.91,631.01 164.15,630.22 167.38,629.43 170.62,628.65 173.86,627.88 177.09,627.12 180.33,626.36 183.57,625.61 186.81,624.87 190.04,624.14 193.28,623.41 196.52,622.69 199.75,621.97 202.99,621.26 206.23,620.56 209.46,619.86 212.7,619.17 215.94,618.49 219.17,617.81 222.41,617.13 225.65,616.46 228.88,615.79 232.12,615.13 235.36,614.47 238.59,613.82 241.83,613.17 245.07,612.53 248.3,611.89 251.54,611.25 254.78,610.62 258.01,609.99 261.25,609.37 264.49,608.74 267.72,608.13 270.96,607.51 274.2,606.9 277.43,606.3 280.67,605.69 283.91,605.09 287.14,604.5 290.38,603.9 293.62,603.31 296.85,602.72 300.09,602.14 303.33,601.56 306.56,600.98 309.8,600.4" fill="none" stroke="#f28a30" stroke-width="1.6" stroke-dasharray="8 3 2 3.1"/>
</g>
<path d="M54.1 558.4V739M54.1 742.8V764.2" stroke="#000" stroke-width="1.7" fill="none"/>
<path d="M49.9 740.2L58.1 736.8M49.9 743.8L58.1 740.4" stroke="#000" stroke-width="1.3" fill="none"/>
<text transform="translate(47.2 563) scale(1.04 1)" text-anchor="end" class="tk">1400</text>
<text transform="translate(47.2 597.95) scale(1.04 1)" text-anchor="end" class="tk">1200</text>
<text transform="translate(47.2 632.9) scale(1.04 1)" text-anchor="end" class="tk">1000</text>
<text transform="translate(47.2 667.85) scale(1.04 1)" text-anchor="end" class="tk">800</text>
<text transform="translate(47.2 702.8) scale(1.04 1)" text-anchor="end" class="tk">600</text>
<text transform="translate(47.2 737.75) scale(1.04 1)" text-anchor="end" class="tk">400</text>
<path d="M49.5 559H54.1M51.5 576.48H54.1M49.5 593.95H54.1M51.5 611.43H54.1M49.5 628.9H54.1M51.5 646.38H54.1M49.5 663.85H54.1M51.5 681.33H54.1M49.5 698.8H54.1M51.5 716.27H54.1M49.5 733.75H54.1M51.5 750.4H54.1M49.5 760.6H54.1" stroke="#000" stroke-width="1.4" fill="none"/>
<text transform="translate(47.2 764.6) scale(1.04 1)" text-anchor="end" class="tk">0.0</text>
<path d="M54.1 760.6H309.8" stroke="#111" stroke-width="1.4" fill="none"/>
<path d="M54.1 760.6V764.4M79.67 760.6V762.8M105.24 760.6V764.4M130.81 760.6V762.8M156.38 760.6V764.4M181.95 760.6V762.8M207.52 760.6V764.4M233.09 760.6V762.8M258.66 760.6V764.4M284.23 760.6V762.8M309.8 760.6V764.4" stroke="#111" stroke-width="1.2" fill="none"/>
<text transform="translate(54.1 776.3) scale(1.04 1)" text-anchor="middle" class="tk">0.00</text>
<text transform="translate(105.24 776.3) scale(1.04 1)" text-anchor="middle" class="tk">0.02</text>
<text transform="translate(156.38 776.3) scale(1.04 1)" text-anchor="middle" class="tk">0.04</text>
<text transform="translate(207.52 776.3) scale(1.04 1)" text-anchor="middle" class="tk">0.06</text>
<text transform="translate(258.66 776.3) scale(1.04 1)" text-anchor="middle" class="tk">0.08</text>
<text transform="translate(309.8 776.3) scale(1.04 1)" text-anchor="middle" class="tk">0.10</text>
<text transform="translate(181.8 796.6) scale(1.02 1)" text-anchor="middle" class="tt">strain</text>
<text transform="translate(13.2 662.6) rotate(-90)" text-anchor="middle" class="tt">stress [MPa]</text>
<text x="59.1" y="568.1" class="lt" style="font-size:20.0px">e</text>
<rect x="81.9" y="564.2" width="4.8" height="4.8" fill="#000"/>
<text transform="translate(100.7 570.3) scale(1.07 1)" class="lg">experiments</text>
<path d="M69.9 581.3H98.1" stroke="#000" stroke-width="1.6"/>
<text transform="translate(100.7 585.4) scale(1.07 1)" class="lg">Mod JC prediction</text>
<path d="M167.5 699.6H195.1" stroke="#000000" stroke-width="1.5"/>
<text transform="translate(197.7 703.4) scale(1.07 1)" class="lg">0.001/s</text>
<rect x="249.72" y="697.32" width="4.56" height="4.56" fill="#000000"/>
<text transform="translate(268.5 703.4) scale(1.07 1)" class="lg">0.001/s</text>
<path d="M167.5 715.1H195.1" stroke="#e8252b" stroke-width="1.6" stroke-dasharray="7 5.8"/>
<text transform="translate(197.7 718.9) scale(1.07 1)" class="lg">1/s</text>
<circle cx="252" cy="715.1" r="2.85" fill="#e8252b"/>
<text transform="translate(268.5 718.9) scale(1.07 1)" class="lg">1/s</text>
<path d="M167.5 730.6H195.1" stroke="#2b4fae" stroke-width="1.8" stroke-dasharray="1 6.8" stroke-linecap="round"/>
<text transform="translate(197.7 734.4) scale(1.07 1)" class="lg">100/s</text>
<path d="M252 727.15L255.61 733.05L248.39 733.05Z" fill="#2b4fae"/>
<text transform="translate(268.5 734.4) scale(1.07 1)" class="lg">100/s</text>
<path d="M167.5 746.1H195.1" stroke="#f28a30" stroke-width="1.6" stroke-dasharray="8 3 2 3.1"/>
<text transform="translate(197.7 749.9) scale(1.07 1)" class="lg">3500/s</text>
<path d="M252 749.55L255.61 743.65L248.39 743.65Z" fill="#f28a30"/>
<text transform="translate(268.5 749.9) scale(1.07 1)" class="lg">3500/s</text>
<clipPath id="clipf"><rect x="390.1" y="548.8" width="255.7" height="190"/></clipPath>
<g clip-path="url(#clipf)">
<rect x="387.7" y="714.09" width="4.8" height="4.8" fill="#000000"/>
<rect x="396.39" y="707.49" width="4.8" height="4.8" fill="#000000"/>
<rect x="408.16" y="701.6" width="4.8" height="4.8" fill="#000000"/>
<rect x="418.38" y="697.39" width="4.8" height="4.8" fill="#000000"/>
<rect x="428.61" y="693.68" width="4.8" height="4.8" fill="#000000"/>
<rect x="438.84" y="690.33" width="4.8" height="4.8" fill="#000000"/>
<rect x="449.07" y="687.26" width="4.8" height="4.8" fill="#000000"/>
<rect x="459.3" y="684.43" width="4.8" height="4.8" fill="#000000"/>
<rect x="469.52" y="681.79" width="4.8" height="4.8" fill="#000000"/>
<rect x="479.75" y="679.32" width="4.8" height="4.8" fill="#000000"/>
<rect x="489.98" y="676.99" width="4.8" height="4.8" fill="#000000"/>
<rect x="500.21" y="674.8" width="4.8" height="4.8" fill="#000000"/>
<rect x="510.44" y="672.72" width="4.8" height="4.8" fill="#000000"/>
<rect x="520.66" y="670.76" width="4.8" height="4.8" fill="#000000"/>
<rect x="530.89" y="668.89" width="4.8" height="4.8" fill="#000000"/>
<rect x="541.12" y="667.11" width="4.8" height="4.8" fill="#000000"/>
<rect x="551.35" y="665.41" width="4.8" height="4.8" fill="#000000"/>
<rect x="561.58" y="663.79" width="4.8" height="4.8" fill="#000000"/>
<rect x="571.8" y="662.25" width="4.8" height="4.8" fill="#000000"/>
<rect x="582.03" y="660.77" width="4.8" height="4.8" fill="#000000"/>
<rect x="592.26" y="659.36" width="4.8" height="4.8" fill="#000000"/>
<rect x="602.49" y="658.01" width="4.8" height="4.8" fill="#000000"/>
<rect x="612.72" y="656.72" width="4.8" height="4.8" fill="#000000"/>
<rect x="622.94" y="655.48" width="4.8" height="4.8" fill="#000000"/>
<rect x="633.17" y="654.3" width="4.8" height="4.8" fill="#000000"/>
<rect x="643.4" y="653.17" width="4.8" height="4.8" fill="#000000"/>
<circle cx="390.1" cy="709.83" r="3" fill="#e8252b"/>
<circle cx="398.79" cy="703.65" r="3" fill="#e8252b"/>
<circle cx="410.56" cy="697.69" r="3" fill="#e8252b"/>
<circle cx="420.78" cy="693.31" r="3" fill="#e8252b"/>
<circle cx="431.01" cy="689.39" r="3" fill="#e8252b"/>
<circle cx="441.24" cy="685.81" r="3" fill="#e8252b"/>
<circle cx="451.47" cy="682.5" r="3" fill="#e8252b"/>
<circle cx="461.7" cy="679.43" r="3" fill="#e8252b"/>
<circle cx="471.92" cy="676.54" r="3" fill="#e8252b"/>
<circle cx="482.15" cy="673.82" r="3" fill="#e8252b"/>
<circle cx="492.38" cy="671.26" r="3" fill="#e8252b"/>
<circle cx="502.61" cy="668.82" r="3" fill="#e8252b"/>
<circle cx="512.84" cy="666.51" r="3" fill="#e8252b"/>
<circle cx="523.06" cy="664.31" r="3" fill="#e8252b"/>
<circle cx="533.29" cy="662.21" r="3" fill="#e8252b"/>
<circle cx="543.52" cy="660.21" r="3" fill="#e8252b"/>
<circle cx="553.75" cy="658.3" r="3" fill="#e8252b"/>
<circle cx="563.98" cy="656.47" r="3" fill="#e8252b"/>
<circle cx="574.2" cy="654.72" r="3" fill="#e8252b"/>
<circle cx="584.43" cy="653.04" r="3" fill="#e8252b"/>
<circle cx="594.66" cy="651.43" r="3" fill="#e8252b"/>
<circle cx="604.89" cy="649.89" r="3" fill="#e8252b"/>
<circle cx="615.12" cy="648.41" r="3" fill="#e8252b"/>
<circle cx="625.34" cy="647" r="3" fill="#e8252b"/>
<circle cx="635.57" cy="645.64" r="3" fill="#e8252b"/>
<circle cx="645.8" cy="644.33" r="3" fill="#e8252b"/>
<path d="M390.1 690.51L393.9 696.71L386.3 696.71Z" fill="#2b4fae"/>
<path d="M398.79 683.78L402.59 689.98L394.99 689.98Z" fill="#2b4fae"/>
<path d="M410.56 678.08L414.36 684.28L406.76 684.28Z" fill="#2b4fae"/>
<path d="M420.78 674.05L424.58 680.25L416.98 680.25Z" fill="#2b4fae"/>
<path d="M431.01 670.52L434.81 676.72L427.21 676.72Z" fill="#2b4fae"/>
<path d="M441.24 667.34L445.04 673.54L437.44 673.54Z" fill="#2b4fae"/>
<path d="M451.47 664.43L455.27 670.63L447.67 670.63Z" fill="#2b4fae"/>
<path d="M461.7 661.74L465.5 667.94L457.9 667.94Z" fill="#2b4fae"/>
<path d="M471.92 659.23L475.72 665.43L468.12 665.43Z" fill="#2b4fae"/>
<path d="M482.15 656.88L485.95 663.08L478.35 663.08Z" fill="#2b4fae"/>
<path d="M492.38 654.67L496.18 660.87L488.58 660.87Z" fill="#2b4fae"/>
<path d="M502.61 652.57L506.41 658.77L498.81 658.77Z" fill="#2b4fae"/>
<path d="M512.84 650.58L516.64 656.78L509.04 656.78Z" fill="#2b4fae"/>
<path d="M523.06 648.69L526.86 654.89L519.26 654.89Z" fill="#2b4fae"/>
<path d="M533.29 646.88L537.09 653.08L529.49 653.08Z" fill="#2b4fae"/>
<path d="M543.52 645.16L547.32 651.36L539.72 651.36Z" fill="#2b4fae"/>
<path d="M553.75 643.51L557.55 649.71L549.95 649.71Z" fill="#2b4fae"/>
<path d="M563.98 641.93L567.78 648.13L560.18 648.13Z" fill="#2b4fae"/>
<path d="M574.2 640.42L578 646.62L570.4 646.62Z" fill="#2b4fae"/>
<path d="M584.43 638.96L588.23 645.16L580.63 645.16Z" fill="#2b4fae"/>
<path d="M594.66 637.57L598.46 643.77L590.86 643.77Z" fill="#2b4fae"/>
<path d="M604.89 636.22L608.69 642.42L601.09 642.42Z" fill="#2b4fae"/>
<path d="M615.12 634.93L618.92 641.13L611.32 641.13Z" fill="#2b4fae"/>
<path d="M625.34 633.69L629.14 639.89L621.54 639.89Z" fill="#2b4fae"/>
<path d="M635.57 632.49L639.37 638.69L631.77 638.69Z" fill="#2b4fae"/>
<path d="M645.8 631.33L649.6 637.53L642 637.53Z" fill="#2b4fae"/>
<path d="M390.1 651.97L393.9 645.77L386.3 645.77Z" fill="#f28a30"/>
<path d="M398.79 649.86L402.59 643.66L394.99 643.66Z" fill="#f28a30"/>
<path d="M410.56 647.5L414.36 641.3L406.76 641.3Z" fill="#f28a30"/>
<path d="M420.78 645.62L424.58 639.42L416.98 639.42Z" fill="#f28a30"/>
<path d="M431.01 643.84L434.81 637.64L427.21 637.64Z" fill="#f28a30"/>
<path d="M441.24 642.13L445.04 635.93L437.44 635.93Z" fill="#f28a30"/>
<path d="M451.47 640.48L455.27 634.28L447.67 634.28Z" fill="#f28a30"/>
<path d="M461.7 638.88L465.5 632.68L457.9 632.68Z" fill="#f28a30"/>
<path d="M471.92 637.31L475.72 631.11L468.12 631.11Z" fill="#f28a30"/>
<path d="M482.15 635.79L485.95 629.59L478.35 629.59Z" fill="#f28a30"/>
<path d="M492.38 634.3L496.18 628.1L488.58 628.1Z" fill="#f28a30"/>
<path d="M502.61 632.84L506.41 626.64L498.81 626.64Z" fill="#f28a30"/>
<path d="M512.84 631.4L516.64 625.2L509.04 625.2Z" fill="#f28a30"/>
<path d="M523.06 629.99L526.86 623.79L519.26 623.79Z" fill="#f28a30"/>
<path d="M533.29 628.6L537.09 622.4L529.49 622.4Z" fill="#f28a30"/>
<path d="M543.52 627.23L547.32 621.03L539.72 621.03Z" fill="#f28a30"/>
<path d="M553.75 625.88L557.55 619.68L549.95 619.68Z" fill="#f28a30"/>
<path d="M563.98 624.55L567.78 618.35L560.18 618.35Z" fill="#f28a30"/>
<path d="M574.2 623.24L578 617.04L570.4 617.04Z" fill="#f28a30"/>
<path d="M584.43 621.94L588.23 615.74L580.63 615.74Z" fill="#f28a30"/>
<path d="M594.66 620.66L598.46 614.46L590.86 614.46Z" fill="#f28a30"/>
<path d="M604.89 619.39L608.69 613.19L601.09 613.19Z" fill="#f28a30"/>
<path d="M615.12 618.13L618.92 611.93L611.32 611.93Z" fill="#f28a30"/>
<path d="M625.34 616.89L629.14 610.69L621.54 610.69Z" fill="#f28a30"/>
<path d="M635.57 615.66L639.37 609.46L631.77 609.46Z" fill="#f28a30"/>
<path d="M645.8 614.45L649.6 608.25L642 608.25Z" fill="#f28a30"/>
<polyline points="390.1,716.49 393.34,713.39 396.57,711.16 399.81,709.22 403.05,707.45 406.28,705.82 409.52,704.28 412.76,702.82 415.99,701.44 419.23,700.11 422.47,698.84 425.7,697.61 428.94,696.42 432.18,695.28 435.41,694.16 438.65,693.08 441.89,692.03 445.12,691.01 448.36,690.01 451.6,689.04 454.83,688.09 458.07,687.16 461.31,686.25 464.54,685.36 467.78,684.5 471.02,683.64 474.25,682.81 477.49,681.99 480.73,681.19 483.96,680.4 487.2,679.62 490.44,678.86 493.67,678.12 496.91,677.38 500.15,676.66 503.38,675.95 506.62,675.26 509.86,674.57 513.09,673.9 516.33,673.23 519.57,672.58 522.81,671.93 526.04,671.3 529.28,670.68 532.52,670.06 535.75,669.46 538.99,668.86 542.23,668.27 545.46,667.69 548.7,667.12 551.94,666.56 555.17,666 558.41,665.45 561.65,664.91 564.88,664.38 568.12,663.86 571.36,663.34 574.59,662.83 577.83,662.32 581.07,661.82 584.3,661.33 587.54,660.85 590.78,660.37 594.01,659.9 597.25,659.43 600.49,658.97 603.72,658.52 606.96,658.07 610.2,657.63 613.43,657.19 616.67,656.76 619.91,656.34 623.14,655.92 626.38,655.5 629.62,655.09 632.85,654.69 636.09,654.29 639.33,653.89 642.56,653.5 645.8,653.12" fill="none" stroke="#000000" stroke-width="1.2"/>
<polyline points="390.1,711.22 393.34,708.48 396.57,706.36 399.81,704.48 403.05,702.74 406.28,701.11 409.52,699.57 412.76,698.1 415.99,696.69 419.23,695.34 422.47,694.03 425.7,692.77 428.94,691.55 432.18,690.36 435.41,689.21 438.65,688.09 441.89,686.99 445.12,685.92 448.36,684.88 451.6,683.86 454.83,682.87 458.07,681.89 461.31,680.94 464.54,680 467.78,679.09 471.02,678.19 474.25,677.31 477.49,676.44 480.73,675.59 483.96,674.76 487.2,673.94 490.44,673.13 493.67,672.34 496.91,671.56 500.15,670.79 503.38,670.04 506.62,669.3 509.86,668.57 513.09,667.85 516.33,667.14 519.57,666.45 522.81,665.76 526.04,665.09 529.28,664.42 532.52,663.77 535.75,663.12 538.99,662.48 542.23,661.86 545.46,661.24 548.7,660.63 551.94,660.03 555.17,659.44 558.41,658.85 561.65,658.28 564.88,657.71 568.12,657.15 571.36,656.6 574.59,656.05 577.83,655.51 581.07,654.98 584.3,654.46 587.54,653.94 590.78,653.43 594.01,652.93 597.25,652.43 600.49,651.94 603.72,651.46 606.96,650.98 610.2,650.51 613.43,650.05 616.67,649.59 619.91,649.14 623.14,648.69 626.38,648.25 629.62,647.82 632.85,647.39 636.09,646.97 639.33,646.55 642.56,646.14 645.8,645.73" fill="none" stroke="#e8252b" stroke-width="1.6" stroke-dasharray="7 5.8"/>
<polyline points="390.1,694.11 393.34,690.88 396.57,688.69 399.81,686.81 403.05,685.13 406.28,683.57 409.52,682.13 412.76,680.76 415.99,679.46 419.23,678.23 422.47,677.04 425.7,675.9 428.94,674.8 432.18,673.74 435.41,672.72 438.65,671.72 441.89,670.75 445.12,669.81 448.36,668.89 451.6,668 454.83,667.13 458.07,666.27 461.31,665.44 464.54,664.63 467.78,663.83 471.02,663.05 474.25,662.29 477.49,661.54 480.73,660.8 483.96,660.08 487.2,659.37 490.44,658.68 493.67,657.99 496.91,657.32 500.15,656.66 503.38,656.01 506.62,655.38 509.86,654.75 513.09,654.13 516.33,653.52 519.57,652.92 522.81,652.33 526.04,651.75 529.28,651.18 532.52,650.62 535.75,650.06 538.99,649.51 542.23,648.97 545.46,648.44 548.7,647.92 551.94,647.4 555.17,646.89 558.41,646.38 561.65,645.89 564.88,645.4 568.12,644.91 571.36,644.43 574.59,643.96 577.83,643.5 581.07,643.04 584.3,642.58 587.54,642.13 590.78,641.69 594.01,641.25 597.25,640.82 600.49,640.4 603.72,639.97 606.96,639.56 610.2,639.15 613.43,638.74 616.67,638.34 619.91,637.94 623.14,637.55 626.38,637.16 629.62,636.78 632.85,636.4 636.09,636.03 639.33,635.66 642.56,635.29 645.8,634.93" fill="none" stroke="#2b4fae" stroke-width="1.8" stroke-dasharray="1 6.8" stroke-linecap="round"/>
<polyline points="390.1,648.37 393.34,647.49 396.57,646.74 399.81,646.04 403.05,645.37 406.28,644.72 409.52,644.1 412.76,643.48 415.99,642.88 419.23,642.3 422.47,641.72 425.7,641.15 428.94,640.59 432.18,640.04 435.41,639.49 438.65,638.95 441.89,638.42 445.12,637.89 448.36,637.37 451.6,636.86 454.83,636.34 458.07,635.84 461.31,635.34 464.54,634.84 467.78,634.34 471.02,633.85 474.25,633.36 477.49,632.88 480.73,632.4 483.96,631.92 487.2,631.45 490.44,630.98 493.67,630.51 496.91,630.05 500.15,629.59 503.38,629.13 506.62,628.67 509.86,628.22 513.09,627.76 516.33,627.32 519.57,626.87 522.81,626.42 526.04,625.98 529.28,625.54 532.52,625.1 535.75,624.67 538.99,624.23 542.23,623.8 545.46,623.37 548.7,622.95 551.94,622.52 555.17,622.09 558.41,621.67 561.65,621.25 564.88,620.83 568.12,620.42 571.36,620 574.59,619.59 577.83,619.17 581.07,618.76 584.3,618.35 587.54,617.95 590.78,617.54 594.01,617.14 597.25,616.73 600.49,616.33 603.72,615.93 606.96,615.53 610.2,615.13 613.43,614.74 616.67,614.34 619.91,613.95 623.14,613.56 626.38,613.17 629.62,612.78 632.85,612.39 636.09,612 639.33,611.61 642.56,611.23 645.8,610.85" fill="none" stroke="#f28a30" stroke-width="1.6" stroke-dasharray="8 3 2 3.1"/>
</g>
<path d="M390.1 558.2V738.8M390.1 742.6V764" stroke="#000" stroke-width="1.7" fill="none"/>
<path d="M385.9 740L394.1 736.6M385.9 743.6L394.1 740.2" stroke="#000" stroke-width="1.3" fill="none"/>
<text transform="translate(383.2 562.8) scale(1.04 1)" text-anchor="end" class="tk">1400</text>
<text transform="translate(383.2 597.75) scale(1.04 1)" text-anchor="end" class="tk">1200</text>
<text transform="translate(383.2 632.7) scale(1.04 1)" text-anchor="end" class="tk">1000</text>
<text transform="translate(383.2 667.65) scale(1.04 1)" text-anchor="end" class="tk">800</text>
<text transform="translate(383.2 702.6) scale(1.04 1)" text-anchor="end" class="tk">600</text>
<text transform="translate(383.2 737.55) scale(1.04 1)" text-anchor="end" class="tk">400</text>
<path d="M385.5 558.8H390.1M387.5 576.27H390.1M385.5 593.75H390.1M387.5 611.23H390.1M385.5 628.7H390.1M387.5 646.17H390.1M385.5 663.65H390.1M387.5 681.12H390.1M385.5 698.6H390.1M387.5 716.07H390.1M385.5 733.55H390.1M387.5 750.2H390.1M385.5 760.4H390.1" stroke="#000" stroke-width="1.4" fill="none"/>
<text transform="translate(383.2 764.4) scale(1.04 1)" text-anchor="end" class="tk">0.0</text>
<path d="M390.1 760.4H645.8" stroke="#111" stroke-width="1.4" fill="none"/>
<path d="M390.1 760.4V764.2M415.67 760.4V762.6M441.24 760.4V764.2M466.81 760.4V762.6M492.38 760.4V764.2M517.95 760.4V762.6M543.52 760.4V764.2M569.09 760.4V762.6M594.66 760.4V764.2M620.23 760.4V762.6M645.8 760.4V764.2" stroke="#111" stroke-width="1.2" fill="none"/>
<text transform="translate(390.1 776.1) scale(1.04 1)" text-anchor="middle" class="tk">0.00</text>
<text transform="translate(441.24 776.1) scale(1.04 1)" text-anchor="middle" class="tk">0.02</text>
<text transform="translate(492.38 776.1) scale(1.04 1)" text-anchor="middle" class="tk">0.04</text>
<text transform="translate(543.52 776.1) scale(1.04 1)" text-anchor="middle" class="tk">0.06</text>
<text transform="translate(594.66 776.1) scale(1.04 1)" text-anchor="middle" class="tk">0.08</text>
<text transform="translate(645.8 776.1) scale(1.04 1)" text-anchor="middle" class="tk">0.10</text>
<text transform="translate(517.8 796.4) scale(1.02 1)" text-anchor="middle" class="tt">strain</text>
<text transform="translate(349.2 662.4) rotate(-90)" text-anchor="middle" class="tt">stress [MPa]</text>
<text x="396.8" y="568.7" class="lt" style="font-size:20.4px">f</text>
<rect x="417.9" y="564" width="4.8" height="4.8" fill="#000"/>
<text transform="translate(436.7 570.1) scale(1.07 1)" class="lg">experiments</text>
<path d="M405.9 581.1H434.1" stroke="#000" stroke-width="1.1"/>
<text transform="translate(436.7 585.2) scale(1.07 1)" class="lg">LH prediction</text>
<path d="M503.5 699.4H531.1" stroke="#000000" stroke-width="1.5"/>
<text transform="translate(533.7 703.2) scale(1.07 1)" class="lg">0.001/s</text>
<rect x="585.72" y="697.12" width="4.56" height="4.56" fill="#000000"/>
<text transform="translate(604.5 703.2) scale(1.07 1)" class="lg">0.001/s</text>
<path d="M503.5 714.9H531.1" stroke="#e8252b" stroke-width="1.6" stroke-dasharray="7 5.8"/>
<text transform="translate(533.7 718.7) scale(1.07 1)" class="lg">1/s</text>
<circle cx="588" cy="714.9" r="2.85" fill="#e8252b"/>
<text transform="translate(604.5 718.7) scale(1.07 1)" class="lg">1/s</text>
<path d="M503.5 730.4H531.1" stroke="#2b4fae" stroke-width="1.8" stroke-dasharray="1 6.8" stroke-linecap="round"/>
<text transform="translate(533.7 734.2) scale(1.07 1)" class="lg">100/s</text>
<path d="M588 726.95L591.61 732.85L584.39 732.85Z" fill="#2b4fae"/>
<text transform="translate(604.5 734.2) scale(1.07 1)" class="lg">100/s</text>
<path d="M503.5 745.9H531.1" stroke="#f28a30" stroke-width="1.6" stroke-dasharray="8 3 2 3.1"/>
<text transform="translate(533.7 749.7) scale(1.07 1)" class="lg">3500/s</text>
<path d="M588 749.35L591.61 743.45L584.39 743.45Z" fill="#f28a30"/>
<text transform="translate(604.5 749.7) scale(1.07 1)" class="lg">3500/s</text>
<clipPath id="clipg"><rect x="54" y="821.1" width="255.7" height="190"/></clipPath>
<g clip-path="url(#clipg)">
<rect x="51.6" y="986.39" width="4.8" height="4.8" fill="#000000"/>
<rect x="60.29" y="979.79" width="4.8" height="4.8" fill="#000000"/>
<rect x="72.06" y="973.9" width="4.8" height="4.8" fill="#000000"/>
<rect x="82.28" y="969.69" width="4.8" height="4.8" fill="#000000"/>
<rect x="92.51" y="965.98" width="4.8" height="4.8" fill="#000000"/>
<rect x="102.74" y="962.63" width="4.8" height="4.8" fill="#000000"/>
<rect x="112.97" y="959.56" width="4.8" height="4.8" fill="#000000"/>
<rect x="123.2" y="956.73" width="4.8" height="4.8" fill="#000000"/>
<rect x="133.42" y="954.09" width="4.8" height="4.8" fill="#000000"/>
<rect x="143.65" y="951.62" width="4.8" height="4.8" fill="#000000"/>
<rect x="153.88" y="949.29" width="4.8" height="4.8" fill="#000000"/>
<rect x="164.11" y="947.1" width="4.8" height="4.8" fill="#000000"/>
<rect x="174.34" y="945.02" width="4.8" height="4.8" fill="#000000"/>
<rect x="184.56" y="943.06" width="4.8" height="4.8" fill="#000000"/>
<rect x="194.79" y="941.19" width="4.8" height="4.8" fill="#000000"/>
<rect x="205.02" y="939.41" width="4.8" height="4.8" fill="#000000"/>
<rect x="215.25" y="937.71" width="4.8" height="4.8" fill="#000000"/>
<rect x="225.48" y="936.09" width="4.8" height="4.8" fill="#000000"/>
<rect x="235.7" y="934.55" width="4.8" height="4.8" fill="#000000"/>
<rect x="245.93" y="933.07" width="4.8" height="4.8" fill="#000000"/>
<rect x="256.16" y="931.66" width="4.8" height="4.8" fill="#000000"/>
<rect x="266.39" y="930.31" width="4.8" height="4.8" fill="#000000"/>
<rect x="276.62" y="929.02" width="4.8" height="4.8" fill="#000000"/>
<rect x="286.84" y="927.78" width="4.8" height="4.8" fill="#000000"/>
<rect x="297.07" y="926.6" width="4.8" height="4.8" fill="#000000"/>
<rect x="307.3" y="925.47" width="4.8" height="4.8" fill="#000000"/>
<circle cx="54" cy="982.13" r="3" fill="#e8252b"/>
<circle cx="62.69" cy="975.95" r="3" fill="#e8252b"/>
<circle cx="74.46" cy="969.99" r="3" fill="#e8252b"/>
<circle cx="84.68" cy="965.61" r="3" fill="#e8252b"/>
<circle cx="94.91" cy="961.69" r="3" fill="#e8252b"/>
<circle cx="105.14" cy="958.11" r="3" fill="#e8252b"/>
<circle cx="115.37" cy="954.8" r="3" fill="#e8252b"/>
<circle cx="125.6" cy="951.73" r="3" fill="#e8252b"/>
<circle cx="135.82" cy="948.84" r="3" fill="#e8252b"/>
<circle cx="146.05" cy="946.12" r="3" fill="#e8252b"/>
<circle cx="156.28" cy="943.56" r="3" fill="#e8252b"/>
<circle cx="166.51" cy="941.12" r="3" fill="#e8252b"/>
<circle cx="176.74" cy="938.81" r="3" fill="#e8252b"/>
<circle cx="186.96" cy="936.61" r="3" fill="#e8252b"/>
<circle cx="197.19" cy="934.51" r="3" fill="#e8252b"/>
<circle cx="207.42" cy="932.51" r="3" fill="#e8252b"/>
<circle cx="217.65" cy="930.6" r="3" fill="#e8252b"/>
<circle cx="227.88" cy="928.77" r="3" fill="#e8252b"/>
<circle cx="238.1" cy="927.02" r="3" fill="#e8252b"/>
<circle cx="248.33" cy="925.34" r="3" fill="#e8252b"/>
<circle cx="258.56" cy="923.73" r="3" fill="#e8252b"/>
<circle cx="268.79" cy="922.19" r="3" fill="#e8252b"/>
<circle cx="279.02" cy="920.71" r="3" fill="#e8252b"/>
<circle cx="289.24" cy="919.3" r="3" fill="#e8252b"/>
<circle cx="299.47" cy="917.94" r="3" fill="#e8252b"/>
<circle cx="309.7" cy="916.63" r="3" fill="#e8252b"/>
<path d="M54 962.81L57.8 969.01L50.2 969.01Z" fill="#2b4fae"/>
<path d="M62.69 956.08L66.49 962.28L58.89 962.28Z" fill="#2b4fae"/>
<path d="M74.46 950.38L78.26 956.58L70.66 956.58Z" fill="#2b4fae"/>
<path d="M84.68 946.35L88.48 952.55L80.88 952.55Z" fill="#2b4fae"/>
<path d="M94.91 942.82L98.71 949.02L91.11 949.02Z" fill="#2b4fae"/>
<path d="M105.14 939.64L108.94 945.84L101.34 945.84Z" fill="#2b4fae"/>
<path d="M115.37 936.73L119.17 942.93L111.57 942.93Z" fill="#2b4fae"/>
<path d="M125.6 934.04L129.4 940.24L121.8 940.24Z" fill="#2b4fae"/>
<path d="M135.82 931.53L139.62 937.73L132.02 937.73Z" fill="#2b4fae"/>
<path d="M146.05 929.18L149.85 935.38L142.25 935.38Z" fill="#2b4fae"/>
<path d="M156.28 926.97L160.08 933.17L152.48 933.17Z" fill="#2b4fae"/>
<path d="M166.51 924.87L170.31 931.07L162.71 931.07Z" fill="#2b4fae"/>
<path d="M176.74 922.88L180.54 929.08L172.94 929.08Z" fill="#2b4fae"/>
<path d="M186.96 920.99L190.76 927.19L183.16 927.19Z" fill="#2b4fae"/>
<path d="M197.19 919.18L200.99 925.38L193.39 925.38Z" fill="#2b4fae"/>
<path d="M207.42 917.46L211.22 923.66L203.62 923.66Z" fill="#2b4fae"/>
<path d="M217.65 915.81L221.45 922.01L213.85 922.01Z" fill="#2b4fae"/>
<path d="M227.88 914.23L231.68 920.43L224.08 920.43Z" fill="#2b4fae"/>
<path d="M238.1 912.72L241.9 918.92L234.3 918.92Z" fill="#2b4fae"/>
<path d="M248.33 911.26L252.13 917.46L244.53 917.46Z" fill="#2b4fae"/>
<path d="M258.56 909.87L262.36 916.07L254.76 916.07Z" fill="#2b4fae"/>
<path d="M268.79 908.52L272.59 914.72L264.99 914.72Z" fill="#2b4fae"/>
<path d="M279.02 907.23L282.82 913.43L275.22 913.43Z" fill="#2b4fae"/>
<path d="M289.24 905.99L293.04 912.19L285.44 912.19Z" fill="#2b4fae"/>
<path d="M299.47 904.79L303.27 910.99L295.67 910.99Z" fill="#2b4fae"/>
<path d="M309.7 903.63L313.5 909.83L305.9 909.83Z" fill="#2b4fae"/>
<path d="M54 924.27L57.8 918.07L50.2 918.07Z" fill="#f28a30"/>
<path d="M62.69 922.16L66.49 915.96L58.89 915.96Z" fill="#f28a30"/>
<path d="M74.46 919.8L78.26 913.6L70.66 913.6Z" fill="#f28a30"/>
<path d="M84.68 917.92L88.48 911.72L80.88 911.72Z" fill="#f28a30"/>
<path d="M94.91 916.14L98.71 909.94L91.11 909.94Z" fill="#f28a30"/>
<path d="M105.14 914.43L108.94 908.23L101.34 908.23Z" fill="#f28a30"/>
<path d="M115.37 912.78L119.17 906.58L111.57 906.58Z" fill="#f28a30"/>
<path d="M125.6 911.18L129.4 904.98L121.8 904.98Z" fill="#f28a30"/>
<path d="M135.82 909.61L139.62 903.41L132.02 903.41Z" fill="#f28a30"/>
<path d="M146.05 908.09L149.85 901.89L142.25 901.89Z" fill="#f28a30"/>
<path d="M156.28 906.6L160.08 900.4L152.48 900.4Z" fill="#f28a30"/>
<path d="M166.51 905.14L170.31 898.94L162.71 898.94Z" fill="#f28a30"/>
<path d="M176.74 903.7L180.54 897.5L172.94 897.5Z" fill="#f28a30"/>
<path d="M186.96 902.29L190.76 896.09L183.16 896.09Z" fill="#f28a30"/>
<path d="M197.19 900.9L200.99 894.7L193.39 894.7Z" fill="#f28a30"/>
<path d="M207.42 899.53L211.22 893.33L203.62 893.33Z" fill="#f28a30"/>
<path d="M217.65 898.18L221.45 891.98L213.85 891.98Z" fill="#f28a30"/>
<path d="M227.88 896.85L231.68 890.65L224.08 890.65Z" fill="#f28a30"/>
<path d="M238.1 895.54L241.9 889.34L234.3 889.34Z" fill="#f28a30"/>
<path d="M248.33 894.24L252.13 888.04L244.53 888.04Z" fill="#f28a30"/>
<path d="M258.56 892.96L262.36 886.76L254.76 886.76Z" fill="#f28a30"/>
<path d="M268.79 891.69L272.59 885.49L264.99 885.49Z" fill="#f28a30"/>
<path d="M279.02 890.43L282.82 884.23L275.22 884.23Z" fill="#f28a30"/>
<path d="M289.24 889.19L293.04 882.99L285.44 882.99Z" fill="#f28a30"/>
<path d="M299.47 887.96L303.27 881.76L295.67 881.76Z" fill="#f28a30"/>
<path d="M309.7 886.75L313.5 880.55L305.9 880.55Z" fill="#f28a30"/>
<polyline points="54,988.79 57.24,985.72 60.47,983.52 63.71,981.61 66.95,979.88 70.18,978.27 73.42,976.76 76.66,975.34 79.89,973.99 83.13,972.69 86.37,971.45 89.6,970.25 92.84,969.1 96.08,967.98 99.31,966.9 102.55,965.85 105.79,964.83 109.02,963.84 112.26,962.87 115.5,961.93 118.73,961.01 121.97,960.11 125.21,959.23 128.44,958.38 131.68,957.54 134.92,956.72 138.15,955.91 141.39,955.13 144.63,954.35 147.86,953.6 151.1,952.85 154.34,952.12 157.57,951.41 160.81,950.71 164.05,950.02 167.28,949.34 170.52,948.67 173.76,948.02 176.99,947.37 180.23,946.74 183.47,946.12 186.71,945.5 189.94,944.9 193.18,944.31 196.42,943.72 199.65,943.15 202.89,942.58 206.13,942.03 209.36,941.48 212.6,940.94 215.84,940.41 219.07,939.88 222.31,939.36 225.55,938.86 228.78,938.35 232.02,937.86 235.26,937.37 238.49,936.89 241.73,936.42 244.97,935.95 248.2,935.49 251.44,935.04 254.68,934.59 257.91,934.15 261.15,933.72 264.39,933.29 267.62,932.86 270.86,932.45 274.1,932.04 277.33,931.63 280.57,931.23 283.81,930.84 287.04,930.45 290.28,930.06 293.52,929.68 296.75,929.31 299.99,928.94 303.23,928.58 306.46,928.22 309.7,927.87" fill="none" stroke="#000000" stroke-width="1.5"/>
<polyline points="54,982.65 57.24,979.91 60.47,977.79 63.71,975.9 66.95,974.16 70.18,972.53 73.42,970.99 76.66,969.52 79.89,968.12 83.13,966.76 86.37,965.46 89.6,964.2 92.84,962.97 96.08,961.79 99.31,960.63 102.55,959.51 105.79,958.42 109.02,957.35 112.26,956.31 115.5,955.29 118.73,954.29 121.97,953.32 125.21,952.36 128.44,951.43 131.68,950.51 134.92,949.61 138.15,948.73 141.39,947.87 144.63,947.02 147.86,946.18 151.1,945.36 154.34,944.56 157.57,943.76 160.81,942.99 164.05,942.22 167.28,941.47 170.52,940.72 173.76,940 176.99,939.28 180.23,938.57 183.47,937.87 186.71,937.19 189.94,936.51 193.18,935.85 196.42,935.19 199.65,934.55 202.89,933.91 206.13,933.28 209.36,932.67 212.6,932.06 215.84,931.45 219.07,930.86 222.31,930.28 225.55,929.7 228.78,929.13 232.02,928.57 235.26,928.02 238.49,927.48 241.73,926.94 244.97,926.41 248.2,925.88 251.44,925.37 254.68,924.86 257.91,924.36 261.15,923.86 264.39,923.37 267.62,922.89 270.86,922.41 274.1,921.94 277.33,921.48 280.57,921.02 283.81,920.57 287.04,920.12 290.28,919.68 293.52,919.25 296.75,918.82 299.99,918.39 303.23,917.97 306.46,917.56 309.7,917.16" fill="none" stroke="#e8252b" stroke-width="1.6" stroke-dasharray="7 5.8"/>
<polyline points="54,966.41 57.24,963.18 60.47,960.99 63.71,959.11 66.95,957.43 70.18,955.87 73.42,954.43 76.66,953.06 79.89,951.76 83.13,950.53 86.37,949.34 89.6,948.2 92.84,947.1 96.08,946.04 99.31,945.02 102.55,944.02 105.79,943.05 109.02,942.11 112.26,941.19 115.5,940.3 118.73,939.43 121.97,938.57 125.21,937.74 128.44,936.93 131.68,936.13 134.92,935.35 138.15,934.59 141.39,933.84 144.63,933.1 147.86,932.38 151.1,931.67 154.34,930.98 157.57,930.29 160.81,929.62 164.05,928.96 167.28,928.31 170.52,927.68 173.76,927.05 176.99,926.43 180.23,925.82 183.47,925.22 186.71,924.63 189.94,924.05 193.18,923.48 196.42,922.92 199.65,922.36 202.89,921.81 206.13,921.27 209.36,920.74 212.6,920.22 215.84,919.7 219.07,919.19 222.31,918.68 225.55,918.19 228.78,917.7 232.02,917.21 235.26,916.73 238.49,916.26 241.73,915.8 244.97,915.34 248.2,914.88 251.44,914.43 254.68,913.99 257.91,913.55 261.15,913.12 264.39,912.7 267.62,912.27 270.86,911.86 274.1,911.45 277.33,911.04 280.57,910.64 283.81,910.24 287.04,909.85 290.28,909.46 293.52,909.08 296.75,908.7 299.99,908.33 303.23,907.96 306.46,907.59 309.7,907.23" fill="none" stroke="#2b4fae" stroke-width="1.8" stroke-dasharray="1 6.8" stroke-linecap="round"/>
<polyline points="54,920.67 57.24,919.79 60.47,919.04 63.71,918.34 66.95,917.67 70.18,917.02 73.42,916.4 76.66,915.78 79.89,915.18 83.13,914.6 86.37,914.02 89.6,913.45 92.84,912.89 96.08,912.34 99.31,911.79 102.55,911.25 105.79,910.72 109.02,910.19 112.26,909.67 115.5,909.16 118.73,908.64 121.97,908.14 125.21,907.64 128.44,907.14 131.68,906.64 134.92,906.15 138.15,905.66 141.39,905.18 144.63,904.7 147.86,904.22 151.1,903.75 154.34,903.28 157.57,902.81 160.81,902.35 164.05,901.89 167.28,901.43 170.52,900.97 173.76,900.52 176.99,900.06 180.23,899.62 183.47,899.17 186.71,898.72 189.94,898.28 193.18,897.84 196.42,897.4 199.65,896.97 202.89,896.53 206.13,896.1 209.36,895.67 212.6,895.25 215.84,894.82 219.07,894.39 222.31,893.97 225.55,893.55 228.78,893.13 232.02,892.72 235.26,892.3 238.49,891.89 241.73,891.47 244.97,891.06 248.2,890.65 251.44,890.25 254.68,889.84 257.91,889.44 261.15,889.03 264.39,888.63 267.62,888.23 270.86,887.83 274.1,887.43 277.33,887.04 280.57,886.64 283.81,886.25 287.04,885.86 290.28,885.47 293.52,885.08 296.75,884.69 299.99,884.3 303.23,883.91 306.46,883.53 309.7,883.15" fill="none" stroke="#f28a30" stroke-width="1.6" stroke-dasharray="8 3 2 3.1"/>
</g>
<path d="M54 830.5V1011.1M54 1014.9V1036.3" stroke="#000" stroke-width="1.7" fill="none"/>
<path d="M49.8 1012.3L58 1008.9M49.8 1015.9L58 1012.5" stroke="#000" stroke-width="1.3" fill="none"/>
<text transform="translate(47.1 835.1) scale(1.04 1)" text-anchor="end" class="tk">1400</text>
<text transform="translate(47.1 870.05) scale(1.04 1)" text-anchor="end" class="tk">1200</text>
<text transform="translate(47.1 905) scale(1.04 1)" text-anchor="end" class="tk">1000</text>
<text transform="translate(47.1 939.95) scale(1.04 1)" text-anchor="end" class="tk">800</text>
<text transform="translate(47.1 974.9) scale(1.04 1)" text-anchor="end" class="tk">600</text>
<text transform="translate(47.1 1009.85) scale(1.04 1)" text-anchor="end" class="tk">400</text>
<path d="M49.4 831.1H54M51.4 848.58H54M49.4 866.05H54M51.4 883.53H54M49.4 901H54M51.4 918.48H54M49.4 935.95H54M51.4 953.43H54M49.4 970.9H54M51.4 988.38H54M49.4 1005.85H54M51.4 1022.5H54M49.4 1032.7H54" stroke="#000" stroke-width="1.4" fill="none"/>
<text transform="translate(47.1 1036.7) scale(1.04 1)" text-anchor="end" class="tk">0.0</text>
<path d="M54 1032.7H309.7" stroke="#111" stroke-width="1.4" fill="none"/>
<path d="M54 1032.7V1036.5M79.57 1032.7V1034.9M105.14 1032.7V1036.5M130.71 1032.7V1034.9M156.28 1032.7V1036.5M181.85 1032.7V1034.9M207.42 1032.7V1036.5M232.99 1032.7V1034.9M258.56 1032.7V1036.5M284.13 1032.7V1034.9M309.7 1032.7V1036.5" stroke="#111" stroke-width="1.2" fill="none"/>
<text transform="translate(54 1048.4) scale(1.04 1)" text-anchor="middle" class="tk">0.00</text>
<text transform="translate(105.14 1048.4) scale(1.04 1)" text-anchor="middle" class="tk">0.02</text>
<text transform="translate(156.28 1048.4) scale(1.04 1)" text-anchor="middle" class="tk">0.04</text>
<text transform="translate(207.42 1048.4) scale(1.04 1)" text-anchor="middle" class="tk">0.06</text>
<text transform="translate(258.56 1048.4) scale(1.04 1)" text-anchor="middle" class="tk">0.08</text>
<text transform="translate(309.7 1048.4) scale(1.04 1)" text-anchor="middle" class="tk">0.10</text>
<text transform="translate(181.7 1068.7) scale(1.02 1)" text-anchor="middle" class="tt">strain</text>
<text transform="translate(13.1 934.7) rotate(-90)" text-anchor="middle" class="tt">stress [MPa]</text>
<text x="59.2" y="845.4" class="lt" style="font-size:20.0px">g</text>
<rect x="81.8" y="836.3" width="4.8" height="4.8" fill="#000"/>
<text transform="translate(100.6 842.4) scale(1.07 1)" class="lg">experiments</text>
<path d="M69.8 853.4H98" stroke="#000" stroke-width="1.6"/>
<text transform="translate(100.6 857.5) scale(1.07 1)" class="lg">BP prediction</text>
<path d="M167.4 971.7H195" stroke="#000000" stroke-width="1.5"/>
<text transform="translate(197.6 975.5) scale(1.07 1)" class="lg">0.001/s</text>
<rect x="249.62" y="969.42" width="4.56" height="4.56" fill="#000000"/>
<text transform="translate(268.4 975.5) scale(1.07 1)" class="lg">0.001/s</text>
<path d="M167.4 987.2H195" stroke="#e8252b" stroke-width="1.6" stroke-dasharray="7 5.8"/>
<text transform="translate(197.6 991) scale(1.07 1)" class="lg">1/s</text>
<circle cx="251.9" cy="987.2" r="2.85" fill="#e8252b"/>
<text transform="translate(268.4 991) scale(1.07 1)" class="lg">1/s</text>
<path d="M167.4 1002.7H195" stroke="#2b4fae" stroke-width="1.8" stroke-dasharray="1 6.8" stroke-linecap="round"/>
<text transform="translate(197.6 1006.5) scale(1.07 1)" class="lg">100/s</text>
<path d="M251.9 999.25L255.51 1005.15L248.29 1005.15Z" fill="#2b4fae"/>
<text transform="translate(268.4 1006.5) scale(1.07 1)" class="lg">100/s</text>
<path d="M167.4 1018.2H195" stroke="#f28a30" stroke-width="1.6" stroke-dasharray="8 3 2 3.1"/>
<text transform="translate(197.6 1022) scale(1.07 1)" class="lg">3500/s</text>
<path d="M251.9 1021.65L255.51 1015.75L248.29 1015.75Z" fill="#f28a30"/>
<text transform="translate(268.4 1022) scale(1.07 1)" class="lg">3500/s</text>
<path d="M371.7 966.05L518 911.15L663.3 967.95M371.7 950.35L518 895.45L663.3 952.25M371.7 934.65L518 879.75L663.3 936.55M371.7 918.95L518 864.05L663.3 920.85M371.7 903.25L518 848.35L663.3 905.15M400.96 962.92L400.96 884.42M430.22 951.94L430.22 873.44M459.48 940.96L459.48 862.46M488.74 929.98L488.74 851.48M518 919L518 840.5M552.29 932.4L552.29 853.9M596.69 949.76L596.69 871.26M663.3 975.8L663.3 897.3M400.96 962.92L546.26 1019.72M430.22 951.94L575.52 1008.74M459.48 940.96L604.78 997.76M488.74 929.98L634.04 986.78M405.99 987.3L552.29 932.4M450.39 1004.66L596.69 949.76" stroke="#d4d4d4" stroke-width="0.8" fill="none"/>
<path d="M512.15 874.63L518 871.9L521.73 875.29L515.87 877.97Z" fill="#c6c138" stroke="#c6c138" stroke-width="0.35"/>
<path d="M515.87 877.97L521.73 875.29L525.45 878.55L519.6 881.18Z" fill="#c6b73e" stroke="#c6b73e" stroke-width="0.35"/>
<path d="M506.3 877.37L512.15 874.63L515.87 877.97L510.02 880.65Z" fill="#c5be3a" stroke="#c5be3a" stroke-width="0.35"/>
<path d="M519.6 881.18L525.45 878.55L529.18 881.66L523.32 884.26Z" fill="#caaf44" stroke="#caaf44" stroke-width="0.35"/>
<path d="M510.02 880.65L515.87 877.97L519.6 881.18L513.75 883.83Z" fill="#c7b440" stroke="#c7b440" stroke-width="0.35"/>
<path d="M523.32 884.26L529.18 881.66L532.9 884.59L527.05 887.17Z" fill="#cda84a" stroke="#cda84a" stroke-width="0.35"/>
<path d="M500.44 880.11L506.3 877.37L510.02 880.65L504.17 883.35Z" fill="#c5bb3c" stroke="#c5bb3c" stroke-width="0.35"/>
<path d="M513.75 883.83L519.6 881.18L523.32 884.26L517.47 886.87Z" fill="#cbad46" stroke="#cbad46" stroke-width="0.35"/>
<path d="M527.05 887.17L532.9 884.59L536.63 887.33L530.78 889.89Z" fill="#cca351" stroke="#cca351" stroke-width="0.35"/>
<path d="M504.17 883.35L510.02 880.65L513.75 883.83L507.9 886.48Z" fill="#c8b242" stroke="#c8b242" stroke-width="0.35"/>
<path d="M517.47 886.87L523.32 884.26L527.05 887.17L521.2 889.76Z" fill="#cda74c" stroke="#cda74c" stroke-width="0.35"/>
<path d="M494.59 882.86L500.44 880.11L504.17 883.35L498.32 886.05Z" fill="#c6b83d" stroke="#c6b83d" stroke-width="0.35"/>
<path d="M530.78 889.89L536.63 887.33L540.35 889.83L534.5 892.4Z" fill="#c6a056" stroke="#c6a056" stroke-width="0.35"/>
<path d="M507.9 886.48L513.75 883.83L517.47 886.87L511.62 889.49Z" fill="#ccab47" stroke="#ccab47" stroke-width="0.35"/>
<path d="M521.2 889.76L527.05 887.17L530.78 889.89L524.92 892.47Z" fill="#caa153" stroke="#caa153" stroke-width="0.35"/>
<path d="M498.32 886.05L504.17 883.35L507.9 886.48L502.04 889.15Z" fill="#c9b043" stroke="#c9b043" stroke-width="0.35"/>
<path d="M534.5 892.4L540.35 889.83L544.08 892.09L538.23 894.68Z" fill="#bfa05a" stroke="#bfa05a" stroke-width="0.35"/>
<path d="M511.62 889.49L517.47 886.87L521.2 889.76L515.35 892.36Z" fill="#cda54e" stroke="#cda54e" stroke-width="0.35"/>
<path d="M488.74 885.61L494.59 882.86L498.32 886.05L492.47 888.76Z" fill="#c7b53f" stroke="#c7b53f" stroke-width="0.35"/>
<path d="M524.92 892.47L530.78 889.89L534.5 892.4L528.65 894.99Z" fill="#c3a058" stroke="#c3a058" stroke-width="0.35"/>
<path d="M502.04 889.15L507.9 886.48L511.62 889.49L505.77 892.13Z" fill="#cda949" stroke="#cda949" stroke-width="0.35"/>
<path d="M538.23 894.68L544.08 892.09L547.81 894.07L541.95 896.71Z" fill="#bba15c" stroke="#bba15c" stroke-width="0.35"/>
<path d="M515.35 892.36L521.2 889.76L524.92 892.47L519.07 895.06Z" fill="#c8a155" stroke="#c8a155" stroke-width="0.35"/>
<path d="M492.47 888.76L498.32 886.05L502.04 889.15L496.19 891.82Z" fill="#caae45" stroke="#caae45" stroke-width="0.35"/>
<path d="M528.65 894.99L534.5 892.4L538.23 894.68L532.38 897.29Z" fill="#bda15b" stroke="#bda15b" stroke-width="0.35"/>
<path d="M505.77 892.13L511.62 889.49L515.35 892.36L509.49 894.98Z" fill="#cca350" stroke="#cca350" stroke-width="0.35"/>
<path d="M482.89 888.37L488.74 885.61L492.47 888.76L486.61 891.48Z" fill="#c8b341" stroke="#c8b341" stroke-width="0.35"/>
<path d="M541.95 896.71L547.81 894.07L551.53 895.76L545.68 898.45Z" fill="#b8a15e" stroke="#b8a15e" stroke-width="0.35"/>
<path d="M519.07 895.06L524.92 892.47L528.65 894.99L522.8 897.59Z" fill="#c1a05a" stroke="#c1a05a" stroke-width="0.35"/>
<path d="M496.19 891.82L502.04 889.15L505.77 892.13L499.92 894.78Z" fill="#cda74b" stroke="#cda74b" stroke-width="0.35"/>
<path d="M532.38 897.29L538.23 894.68L541.95 896.71L536.1 899.36Z" fill="#b8a15e" stroke="#b8a15e" stroke-width="0.35"/>
<path d="M509.49 894.98L515.35 892.36L519.07 895.06L513.22 897.67Z" fill="#c5a057" stroke="#c5a057" stroke-width="0.35"/>
<path d="M486.61 891.48L492.47 888.76L496.19 891.82L490.34 894.51Z" fill="#cbac47" stroke="#cbac47" stroke-width="0.35"/>
<path d="M545.68 898.45L551.53 895.76L555.26 897.2L549.4 899.99Z" fill="#b7a15e" stroke="#b7a15e" stroke-width="0.35"/>
<path d="M522.8 897.59L528.65 894.99L532.38 897.29L526.52 899.92Z" fill="#baa15d" stroke="#baa15d" stroke-width="0.35"/>
<path d="M499.92 894.78L505.77 892.13L509.49 894.98L503.64 897.61Z" fill="#caa252" stroke="#caa252" stroke-width="0.35"/>
<path d="M477.04 891.14L482.89 888.37L486.61 891.48L480.76 894.21Z" fill="#c9b143" stroke="#c9b143" stroke-width="0.35"/>
<path d="M536.1 899.36L541.95 896.71L545.68 898.45L539.83 901.17Z" fill="#b5a25f" stroke="#b5a25f" stroke-width="0.35"/>
<path d="M513.22 897.67L519.07 895.06L522.8 897.59L516.95 900.21Z" fill="#bea15b" stroke="#bea15b" stroke-width="0.35"/>
<path d="M490.34 894.51L496.19 891.82L499.92 894.78L494.06 897.44Z" fill="#cda54d" stroke="#cda54d" stroke-width="0.35"/>
<path d="M549.4 899.99L555.26 897.2L558.98 898.62L553.13 901.49Z" fill="#b7a15e" stroke="#b7a15e" stroke-width="0.35"/>
<path d="M526.52 899.92L532.38 897.29L536.1 899.36L530.25 902.03Z" fill="#b5a25f" stroke="#b5a25f" stroke-width="0.35"/>
<path d="M503.64 897.61L509.49 894.98L513.22 897.67L507.37 900.3Z" fill="#c3a058" stroke="#c3a058" stroke-width="0.35"/>
<path d="M480.76 894.21L486.61 891.48L490.34 894.51L484.49 897.21Z" fill="#cdaa49" stroke="#cdaa49" stroke-width="0.35"/>
<path d="M539.83 901.17L545.68 898.45L549.4 899.99L543.55 902.79Z" fill="#b3a260" stroke="#b3a260" stroke-width="0.35"/>
<path d="M516.95 900.21L522.8 897.59L526.52 899.92L520.67 902.56Z" fill="#b7a15e" stroke="#b7a15e" stroke-width="0.35"/>
<path d="M494.06 897.44L499.92 894.78L503.64 897.61L497.79 900.25Z" fill="#c8a154" stroke="#c8a154" stroke-width="0.35"/>
<path d="M471.18 893.91L477.04 891.14L480.76 894.21L474.91 896.95Z" fill="#caae45" stroke="#caae45" stroke-width="0.35"/>
<path d="M553.13 901.49L558.98 898.62L562.71 900.02L556.86 902.96Z" fill="#b7a15e" stroke="#b7a15e" stroke-width="0.35"/>
<path d="M530.25 902.03L536.1 899.36L539.83 901.17L533.97 903.91Z" fill="#b1a261" stroke="#b1a261" stroke-width="0.35"/>
<path d="M507.37 900.3L513.22 897.67L516.95 900.21L511.09 902.85Z" fill="#bba15c" stroke="#bba15c" stroke-width="0.35"/>
<path d="M484.49 897.21L490.34 894.51L494.06 897.44L488.21 900.11Z" fill="#cda34f" stroke="#cda34f" stroke-width="0.35"/>
<path d="M543.55 902.79L549.4 899.99L553.13 901.49L547.28 904.38Z" fill="#b3a260" stroke="#b3a260" stroke-width="0.35"/>
<path d="M520.67 902.56L526.52 899.92L530.25 902.03L524.4 904.72Z" fill="#b2a261" stroke="#b2a261" stroke-width="0.35"/>
<path d="M497.79 900.25L503.64 897.61L507.37 900.3L501.52 902.95Z" fill="#c0a05a" stroke="#c0a05a" stroke-width="0.35"/>
<path d="M474.91 896.95L480.76 894.21L484.49 897.21L478.64 899.92Z" fill="#cda84b" stroke="#cda84b" stroke-width="0.35"/>
<path d="M556.86 902.96L562.71 900.02L566.43 901.44L560.58 904.42Z" fill="#b7a15e" stroke="#b7a15e" stroke-width="0.35"/>
<path d="M533.97 903.91L539.83 901.17L543.55 902.79L537.7 905.62Z" fill="#afa262" stroke="#afa262" stroke-width="0.35"/>
<path d="M511.09 902.85L516.95 900.21L520.67 902.56L514.82 905.23Z" fill="#b4a260" stroke="#b4a260" stroke-width="0.35"/>
<path d="M488.21 900.11L494.06 897.44L497.79 900.25L491.94 902.92Z" fill="#c5a057" stroke="#c5a057" stroke-width="0.35"/>
<path d="M465.33 896.7L471.18 893.91L474.91 896.95L469.06 899.71Z" fill="#ccac47" stroke="#ccac47" stroke-width="0.35"/>
<path d="M547.28 904.38L553.13 901.49L556.86 902.96L551 905.91Z" fill="#b2a261" stroke="#b2a261" stroke-width="0.35"/>
<path d="M524.4 904.72L530.25 902.03L533.97 903.91L528.12 906.66Z" fill="#aea262" stroke="#aea262" stroke-width="0.35"/>
<path d="M501.52 902.95L507.37 900.3L511.09 902.85L505.24 905.51Z" fill="#b8a15e" stroke="#b8a15e" stroke-width="0.35"/>
<path d="M478.64 899.92L484.49 897.21L488.21 900.11L482.36 902.81Z" fill="#caa252" stroke="#caa252" stroke-width="0.35"/>
<path d="M560.58 904.42L566.43 901.44L570.16 902.92L564.31 905.93Z" fill="#b7a15e" stroke="#b7a15e" stroke-width="0.35"/>
<path d="M537.7 905.62L543.55 902.79L547.28 904.38L541.43 907.3Z" fill="#aea262" stroke="#aea262" stroke-width="0.35"/>
<path d="M514.82 905.23L520.67 902.56L524.4 904.72L518.55 907.43Z" fill="#aea262" stroke="#aea262" stroke-width="0.35"/>
<path d="M491.94 902.92L497.79 900.25L501.52 902.95L495.66 905.61Z" fill="#bda15c" stroke="#bda15c" stroke-width="0.35"/>
<path d="M469.06 899.71L474.91 896.95L478.64 899.92L472.78 902.65Z" fill="#cda54d" stroke="#cda54d" stroke-width="0.35"/>
<path d="M551 905.91L556.86 902.96L560.58 904.42L554.73 907.43Z" fill="#b2a261" stroke="#b2a261" stroke-width="0.35"/>
<path d="M528.12 906.66L533.97 903.91L537.7 905.62L531.85 908.47Z" fill="#aba364" stroke="#aba364" stroke-width="0.35"/>
<path d="M505.24 905.51L511.09 902.85L514.82 905.23L508.97 907.92Z" fill="#b1a261" stroke="#b1a261" stroke-width="0.35"/>
<path d="M482.36 902.81L488.21 900.11L491.94 902.92L486.09 905.6Z" fill="#c2a059" stroke="#c2a059" stroke-width="0.35"/>
<path d="M564.31 905.93L570.16 902.92L573.88 904.65L568.03 907.66Z" fill="#b6a15f" stroke="#b6a15f" stroke-width="0.35"/>
<path d="M459.48 899.49L465.33 896.7L469.06 899.71L463.21 902.47Z" fill="#cda949" stroke="#cda949" stroke-width="0.35"/>
<path d="M541.43 907.3L547.28 904.38L551 905.91L545.15 908.89Z" fill="#ada363" stroke="#ada363" stroke-width="0.35"/>
<path d="M518.55 907.43L524.4 904.72L528.12 906.66L522.27 909.45Z" fill="#aaa364" stroke="#aaa364" stroke-width="0.35"/>
<path d="M495.66 905.61L501.52 902.95L505.24 905.51L499.39 908.19Z" fill="#b5a25f" stroke="#b5a25f" stroke-width="0.35"/>
<path d="M472.78 902.65L478.64 899.92L482.36 902.81L476.51 905.52Z" fill="#c8a155" stroke="#c8a155" stroke-width="0.35"/>
<path d="M554.73 907.43L560.58 904.42L564.31 905.93L558.45 908.97Z" fill="#b2a261" stroke="#b2a261" stroke-width="0.35"/>
<path d="M531.85 908.47L537.7 905.62L541.43 907.3L535.57 910.24Z" fill="#a9a364" stroke="#a9a364" stroke-width="0.35"/>
<path d="M508.97 907.92L514.82 905.23L518.55 907.43L512.69 910.17Z" fill="#aba364" stroke="#aba364" stroke-width="0.35"/>
<path d="M486.09 905.6L491.94 902.92L495.66 905.61L489.81 908.3Z" fill="#b9a15d" stroke="#b9a15d" stroke-width="0.35"/>
<path d="M568.03 907.66L573.88 904.65L577.61 906.58L571.76 909.57Z" fill="#b4a260" stroke="#b4a260" stroke-width="0.35"/>
<path d="M463.21 902.47L469.06 899.71L472.78 902.65L466.93 905.39Z" fill="#cca350" stroke="#cca350" stroke-width="0.35"/>
<path d="M545.15 908.89L551 905.91L554.73 907.43L548.88 910.46Z" fill="#aca363" stroke="#aca363" stroke-width="0.35"/>
<path d="M522.27 909.45L528.12 906.66L531.85 908.47L526 911.34Z" fill="#a7a365" stroke="#a7a365" stroke-width="0.35"/>
<path d="M499.39 908.19L505.24 905.51L508.97 907.92L503.12 910.63Z" fill="#ada363" stroke="#ada363" stroke-width="0.35"/>
<path d="M476.51 905.52L482.36 902.81L486.09 905.6L480.23 908.3Z" fill="#bfa05a" stroke="#bfa05a" stroke-width="0.35"/>
<path d="M558.45 908.97L564.31 905.93L568.03 907.66L562.18 910.69Z" fill="#b0a261" stroke="#b0a261" stroke-width="0.35"/>
<path d="M453.63 902.29L459.48 899.49L463.21 902.47L457.35 905.24Z" fill="#cda74b" stroke="#cda74b" stroke-width="0.35"/>
<path d="M535.57 910.24L541.43 907.3L545.15 908.89L539.3 911.89Z" fill="#a7a365" stroke="#a7a365" stroke-width="0.35"/>
<path d="M512.69 910.17L518.55 907.43L522.27 909.45L516.42 912.25Z" fill="#a6a366" stroke="#a6a366" stroke-width="0.35"/>
<path d="M489.81 908.3L495.66 905.61L499.39 908.19L493.54 910.89Z" fill="#b1a261" stroke="#b1a261" stroke-width="0.35"/>
<path d="M571.76 909.57L577.61 906.58L581.34 908.6L575.48 911.57Z" fill="#b0a261" stroke="#b0a261" stroke-width="0.35"/>
<path d="M466.93 905.39L472.78 902.65L476.51 905.52L470.66 908.24Z" fill="#c4a057" stroke="#c4a057" stroke-width="0.35"/>
<path d="M548.88 910.46L554.73 907.43L558.45 908.97L552.6 912.03Z" fill="#aca363" stroke="#aca363" stroke-width="0.35"/>
<path d="M526 911.34L531.85 908.47L535.57 910.24L529.72 913.2Z" fill="#a4a467" stroke="#a4a467" stroke-width="0.35"/>
<path d="M503.12 910.63L508.97 907.92L512.69 910.17L506.84 912.93Z" fill="#a7a365" stroke="#a7a365" stroke-width="0.35"/>
<path d="M480.23 908.3L486.09 905.6L489.81 908.3L483.96 911.01Z" fill="#b6a15f" stroke="#b6a15f" stroke-width="0.35"/>
<path d="M562.18 910.69L568.03 907.66L571.76 909.57L565.91 912.58Z" fill="#aea262" stroke="#aea262" stroke-width="0.35"/>
<path d="M457.35 905.24L463.21 902.47L466.93 905.39L461.08 908.15Z" fill="#caa153" stroke="#caa153" stroke-width="0.35"/>
<path d="M539.3 911.89L545.15 908.89L548.88 910.46L543.03 913.52Z" fill="#a6a366" stroke="#a6a366" stroke-width="0.35"/>
<path d="M516.42 912.25L522.27 909.45L526 911.34L520.14 914.23Z" fill="#a2a467" stroke="#a2a467" stroke-width="0.35"/>
<path d="M493.54 910.89L499.39 908.19L503.12 910.63L497.26 913.36Z" fill="#aaa364" stroke="#aaa364" stroke-width="0.35"/>
<path d="M575.48 911.57L581.34 908.6L585.06 910.63L579.21 913.57Z" fill="#aca363" stroke="#aca363" stroke-width="0.35"/>
<path d="M470.66 908.24L476.51 905.52L480.23 908.3L474.38 911.03Z" fill="#bba15c" stroke="#bba15c" stroke-width="0.35"/>
<path d="M552.6 912.03L558.45 908.97L562.18 910.69L556.33 913.74Z" fill="#aaa364" stroke="#aaa364" stroke-width="0.35"/>
<path d="M447.78 905.09L453.63 902.29L457.35 905.24L451.5 908.03Z" fill="#cda44e" stroke="#cda44e" stroke-width="0.35"/>
<path d="M529.72 913.2L535.57 910.24L539.3 911.89L533.45 914.92Z" fill="#a1a468" stroke="#a1a468" stroke-width="0.35"/>
<path d="M506.84 912.93L512.69 910.17L516.42 912.25L510.57 915.08Z" fill="#a1a468" stroke="#a1a468" stroke-width="0.35"/>
<path d="M483.96 911.01L489.81 908.3L493.54 910.89L487.69 913.62Z" fill="#aea262" stroke="#aea262" stroke-width="0.35"/>
<path d="M565.91 912.58L571.76 909.57L575.48 911.57L569.63 914.55Z" fill="#aaa364" stroke="#aaa364" stroke-width="0.35"/>
<path d="M461.08 908.15L466.93 905.39L470.66 908.24L464.8 910.99Z" fill="#c1a059" stroke="#c1a059" stroke-width="0.35"/>
<path d="M543.03 913.52L548.88 910.46L552.6 912.03L546.75 915.11Z" fill="#a5a366" stroke="#a5a366" stroke-width="0.35"/>
<path d="M520.14 914.23L526 911.34L529.72 913.2L523.87 916.19Z" fill="#9ea469" stroke="#9ea469" stroke-width="0.35"/>
<path d="M497.26 913.36L503.12 910.63L506.84 912.93L500.99 915.72Z" fill="#a3a467" stroke="#a3a467" stroke-width="0.35"/>
<path d="M579.21 913.57L585.06 910.63L588.79 912.82L582.94 915.71Z" fill="#a7a365" stroke="#a7a365" stroke-width="0.35"/>
<path d="M474.38 911.03L480.23 908.3L483.96 911.01L478.11 913.74Z" fill="#b2a260" stroke="#b2a260" stroke-width="0.35"/>
<path d="M556.33 913.74L562.18 910.69L565.91 912.58L560.05 915.62Z" fill="#a8a365" stroke="#a8a365" stroke-width="0.35"/>
<path d="M451.5 908.03L457.35 905.24L461.08 908.15L455.23 910.92Z" fill="#c6a056" stroke="#c6a056" stroke-width="0.35"/>
<path d="M533.45 914.92L539.3 911.89L543.03 913.52L537.17 916.6Z" fill="#a0a468" stroke="#a0a468" stroke-width="0.35"/>
<path d="M510.57 915.08L516.42 912.25L520.14 914.23L514.29 917.15Z" fill="#9da46a" stroke="#9da46a" stroke-width="0.35"/>
<path d="M487.69 913.62L493.54 910.89L497.26 913.36L491.41 916.13Z" fill="#a6a366" stroke="#a6a366" stroke-width="0.35"/>
<path d="M569.63 914.55L575.48 911.57L579.21 913.57L573.36 916.53Z" fill="#a6a366" stroke="#a6a366" stroke-width="0.35"/>
<path d="M464.8 910.99L470.66 908.24L474.38 911.03L468.53 913.77Z" fill="#b8a15e" stroke="#b8a15e" stroke-width="0.35"/>
<path d="M546.75 915.11L552.6 912.03L556.33 913.74L550.48 916.82Z" fill="#a4a467" stroke="#a4a467" stroke-width="0.35"/>
<path d="M441.92 907.91L447.78 905.09L451.5 908.03L445.65 910.83Z" fill="#cba252" stroke="#cba252" stroke-width="0.35"/>
<path d="M523.87 916.19L529.72 913.2L533.45 914.92L527.6 917.97Z" fill="#9ba56a" stroke="#9ba56a" stroke-width="0.35"/>
<path d="M500.99 915.72L506.84 912.93L510.57 915.08L504.71 917.94Z" fill="#9da46a" stroke="#9da46a" stroke-width="0.35"/>
<path d="M582.94 915.71L588.79 912.82L592.51 915.1L586.66 917.93Z" fill="#a2a467" stroke="#a2a467" stroke-width="0.35"/>
<path d="M478.11 913.74L483.96 911.01L487.69 913.62L481.83 916.37Z" fill="#aaa364" stroke="#aaa364" stroke-width="0.35"/>
<path d="M560.05 915.62L565.91 912.58L569.63 914.55L563.78 917.57Z" fill="#a4a466" stroke="#a4a466" stroke-width="0.35"/>
<path d="M455.23 910.92L461.08 908.15L464.8 910.99L458.95 913.76Z" fill="#bda15b" stroke="#bda15b" stroke-width="0.35"/>
<path d="M537.17 916.6L543.03 913.52L546.75 915.11L540.9 918.22Z" fill="#9fa469" stroke="#9fa469" stroke-width="0.35"/>
<path d="M514.29 917.15L520.14 914.23L523.87 916.19L518.02 919.2Z" fill="#98a56b" stroke="#98a56b" stroke-width="0.35"/>
<path d="M491.41 916.13L497.26 913.36L500.99 915.72L495.14 918.53Z" fill="#9ea469" stroke="#9ea469" stroke-width="0.35"/>
<path d="M573.36 916.53L579.21 913.57L582.94 915.71L577.08 918.63Z" fill="#a2a467" stroke="#a2a467" stroke-width="0.35"/>
<path d="M468.53 913.77L474.38 911.03L478.11 913.74L472.26 916.49Z" fill="#afa262" stroke="#afa262" stroke-width="0.35"/>
<path d="M550.48 916.82L556.33 913.74L560.05 915.62L554.2 918.68Z" fill="#a1a468" stroke="#a1a468" stroke-width="0.35"/>
<path d="M445.65 910.83L451.5 908.03L455.23 910.92L449.38 913.71Z" fill="#c2a058" stroke="#c2a058" stroke-width="0.35"/>
<path d="M527.6 917.97L533.45 914.92L537.17 916.6L531.32 919.7Z" fill="#99a56b" stroke="#99a56b" stroke-width="0.35"/>
<path d="M504.71 917.94L510.57 915.08L514.29 917.15L508.44 920.1Z" fill="#97a56c" stroke="#97a56c" stroke-width="0.35"/>
<path d="M586.66 917.93L592.51 915.1L596.24 917.32L590.39 920.1Z" fill="#9ca46a" stroke="#9ca46a" stroke-width="0.35"/>
<path d="M481.83 916.37L487.69 913.62L491.41 916.13L485.56 918.91Z" fill="#a2a468" stroke="#a2a468" stroke-width="0.35"/>
<path d="M563.78 917.57L569.63 914.55L573.36 916.53L567.51 919.52Z" fill="#a0a468" stroke="#a0a468" stroke-width="0.35"/>
<path d="M458.95 913.76L464.8 910.99L468.53 913.77L462.68 916.54Z" fill="#b4a260" stroke="#b4a260" stroke-width="0.35"/>
<path d="M540.9 918.22L546.75 915.11L550.48 916.82L544.62 919.92Z" fill="#9da469" stroke="#9da469" stroke-width="0.35"/>
<path d="M436.07 910.74L441.92 907.91L445.65 910.83L439.8 913.65Z" fill="#c8a155" stroke="#c8a155" stroke-width="0.35"/>
<path d="M518.02 919.2L523.87 916.19L527.6 917.97L521.74 921.05Z" fill="#94a56d" stroke="#94a56d" stroke-width="0.35"/>
<path d="M495.14 918.53L500.99 915.72L504.71 917.94L498.86 920.82Z" fill="#97a56c" stroke="#97a56c" stroke-width="0.35"/>
<path d="M577.08 918.63L582.94 915.71L586.66 917.93L580.81 920.79Z" fill="#9da46a" stroke="#9da46a" stroke-width="0.35"/>
<path d="M472.26 916.49L478.11 913.74L481.83 916.37L475.98 919.15Z" fill="#a6a366" stroke="#a6a366" stroke-width="0.35"/>
<path d="M554.2 918.68L560.05 915.62L563.78 917.57L557.93 920.61Z" fill="#9ea469" stroke="#9ea469" stroke-width="0.35"/>
<path d="M449.38 913.71L455.23 910.92L458.95 913.76L453.1 916.55Z" fill="#b9a15d" stroke="#b9a15d" stroke-width="0.35"/>
<path d="M531.32 919.7L537.17 916.6L540.9 918.22L535.05 921.36Z" fill="#97a56c" stroke="#97a56c" stroke-width="0.35"/>
<path d="M508.44 920.1L514.29 917.15L518.02 919.2L512.17 922.25Z" fill="#92a56e" stroke="#92a56e" stroke-width="0.35"/>
<path d="M590.39 920.1L596.24 917.32L599.96 919.43L594.11 922.16Z" fill="#96a56c" stroke="#96a56c" stroke-width="0.35"/>
<path d="M485.56 918.91L491.41 916.13L495.14 918.53L489.29 921.37Z" fill="#9aa56b" stroke="#9aa56b" stroke-width="0.35"/>
<path d="M567.51 919.52L573.36 916.53L577.08 918.63L571.23 921.57Z" fill="#9ca46a" stroke="#9ca46a" stroke-width="0.35"/>
<path d="M462.68 916.54L468.53 913.77L472.26 916.49L466.4 919.28Z" fill="#aba364" stroke="#aba364" stroke-width="0.35"/>
<path d="M544.62 919.92L550.48 916.82L554.2 918.68L548.35 921.77Z" fill="#9aa56a" stroke="#9aa56a" stroke-width="0.35"/>
<path d="M439.8 913.65L445.65 910.83L449.38 913.71L443.52 916.52Z" fill="#bea05b" stroke="#bea05b" stroke-width="0.35"/>
<path d="M521.74 921.05L527.6 917.97L531.32 919.7L525.47 922.84Z" fill="#92a56e" stroke="#92a56e" stroke-width="0.35"/>
<path d="M498.86 920.82L504.71 917.94L508.44 920.1L502.59 923.08Z" fill="#91a56e" stroke="#91a56e" stroke-width="0.35"/>
<path d="M580.81 920.79L586.66 917.93L590.39 920.1L584.53 922.9Z" fill="#97a56c" stroke="#97a56c" stroke-width="0.35"/>
<path d="M475.98 919.15L481.83 916.37L485.56 918.91L479.71 921.73Z" fill="#9da469" stroke="#9da469" stroke-width="0.35"/>
<path d="M557.93 920.61L563.78 917.57L567.51 919.52L561.65 922.53Z" fill="#9aa56b" stroke="#9aa56b" stroke-width="0.35"/>
<path d="M453.1 916.55L458.95 913.76L462.68 916.54L456.83 919.34Z" fill="#b0a262" stroke="#b0a262" stroke-width="0.35"/>
<path d="M535.05 921.36L540.9 918.22L544.62 919.92L538.77 923.05Z" fill="#96a56c" stroke="#96a56c" stroke-width="0.35"/>
<path d="M430.22 913.58L436.07 910.74L439.8 913.65L433.95 916.49Z" fill="#c4a058" stroke="#c4a058" stroke-width="0.35"/>
<path d="M512.17 922.25L518.02 919.2L521.74 921.05L515.89 924.16Z" fill="#8da670" stroke="#8da670" stroke-width="0.35"/>
<path d="M594.11 922.16L599.96 919.43L603.69 921.51L597.84 924.19Z" fill="#91a56e" stroke="#91a56e" stroke-width="0.35"/>
<path d="M489.29 921.37L495.14 918.53L498.86 920.82L493.01 923.74Z" fill="#92a56e" stroke="#92a56e" stroke-width="0.35"/>
<path d="M571.23 921.57L577.08 918.63L580.81 920.79L574.96 923.67Z" fill="#97a56c" stroke="#97a56c" stroke-width="0.35"/>
<path d="M466.4 919.28L472.26 916.49L475.98 919.15L470.13 921.96Z" fill="#a1a468" stroke="#a1a468" stroke-width="0.35"/>
<path d="M548.35 921.77L554.2 918.68L557.93 920.61L552.08 923.68Z" fill="#97a56c" stroke="#97a56c" stroke-width="0.35"/>
<path d="M443.52 916.52L449.38 913.71L453.1 916.55L447.25 919.36Z" fill="#b5a25f" stroke="#b5a25f" stroke-width="0.35"/>
<path d="M525.47 922.84L531.32 919.7L535.05 921.36L529.19 924.52Z" fill="#8fa56f" stroke="#8fa56f" stroke-width="0.35"/>
<path d="M502.59 923.08L508.44 920.1L512.17 922.25L506.31 925.32Z" fill="#8aa671" stroke="#8aa671" stroke-width="0.35"/>
<path d="M584.53 922.9L590.39 920.1L594.11 922.16L588.26 924.92Z" fill="#92a56e" stroke="#92a56e" stroke-width="0.35"/>
<path d="M479.71 921.73L485.56 918.91L489.29 921.37L483.43 924.25Z" fill="#94a56d" stroke="#94a56d" stroke-width="0.35"/>
<path d="M561.65 922.53L567.51 919.52L571.23 921.57L565.38 924.54Z" fill="#96a56c" stroke="#96a56c" stroke-width="0.35"/>
<path d="M456.83 919.34L462.68 916.54L466.4 919.28L460.55 922.09Z" fill="#a6a366" stroke="#a6a366" stroke-width="0.35"/>
<path d="M538.77 923.05L544.62 919.92L548.35 921.77L542.5 924.89Z" fill="#93a56d" stroke="#93a56d" stroke-width="0.35"/>
<path d="M433.95 916.49L439.8 913.65L443.52 916.52L437.67 919.36Z" fill="#baa15d" stroke="#baa15d" stroke-width="0.35"/>
<path d="M515.89 924.16L521.74 921.05L525.47 922.84L519.62 926Z" fill="#89a671" stroke="#89a671" stroke-width="0.35"/>
<path d="M597.84 924.19L603.69 921.51L607.42 923.55L601.56 926.19Z" fill="#8ca670" stroke="#8ca670" stroke-width="0.35"/>
<path d="M493.01 923.74L498.86 920.82L502.59 923.08L496.74 926.09Z" fill="#8aa671" stroke="#8aa671" stroke-width="0.35"/>
<path d="M574.96 923.67L580.81 920.79L584.53 922.9L578.68 925.73Z" fill="#91a56e" stroke="#91a56e" stroke-width="0.35"/>
<path d="M470.13 921.96L475.98 919.15L479.71 921.73L473.86 924.59Z" fill="#98a56b" stroke="#98a56b" stroke-width="0.35"/>
<path d="M552.08 923.68L557.93 920.61L561.65 922.53L555.8 925.58Z" fill="#93a56d" stroke="#93a56d" stroke-width="0.35"/>
<path d="M447.25 919.36L453.1 916.55L456.83 919.34L450.97 922.17Z" fill="#aba363" stroke="#aba363" stroke-width="0.35"/>
<path d="M529.19 924.52L535.05 921.36L538.77 923.05L532.92 926.22Z" fill="#8da670" stroke="#8da670" stroke-width="0.35"/>
<path d="M424.37 916.44L430.22 913.58L433.95 916.49L428.09 919.34Z" fill="#bfa05a" stroke="#bfa05a" stroke-width="0.35"/>
<path d="M506.31 925.32L512.17 922.25L515.89 924.16L510.04 927.3Z" fill="#85a673" stroke="#85a673" stroke-width="0.35"/>
<path d="M588.26 924.92L594.11 922.16L597.84 924.19L591.99 926.91Z" fill="#8da670" stroke="#8da670" stroke-width="0.35"/>
<path d="M483.43 924.25L489.29 921.37L493.01 923.74L487.16 926.69Z" fill="#8ca670" stroke="#8ca670" stroke-width="0.35"/>
<path d="M565.38 924.54L571.23 921.57L574.96 923.67L569.1 926.59Z" fill="#91a56e" stroke="#91a56e" stroke-width="0.35"/>
<path d="M460.55 922.09L466.4 919.28L470.13 921.96L464.28 924.8Z" fill="#9da46a" stroke="#9da46a" stroke-width="0.35"/>
<path d="M542.5 924.89L548.35 921.77L552.08 923.68L546.22 926.77Z" fill="#8fa56f" stroke="#8fa56f" stroke-width="0.35"/>
<path d="M437.67 919.36L443.52 916.52L447.25 919.36L441.4 922.2Z" fill="#b0a261" stroke="#b0a261" stroke-width="0.35"/>
<path d="M519.62 926L525.47 922.84L529.19 924.52L523.34 927.72Z" fill="#87a672" stroke="#87a672" stroke-width="0.35"/>
<path d="M601.56 926.19L607.42 923.55L611.14 925.54L605.29 928.13Z" fill="#87a672" stroke="#87a672" stroke-width="0.35"/>
<path d="M496.74 926.09L502.59 923.08L506.31 925.32L500.46 928.43Z" fill="#82a674" stroke="#82a674" stroke-width="0.35"/>
<path d="M578.68 925.73L584.53 922.9L588.26 924.92L582.41 927.7Z" fill="#8ca670" stroke="#8ca670" stroke-width="0.35"/>
<path d="M473.86 924.59L479.71 921.73L483.43 924.25L477.58 927.16Z" fill="#8fa56f" stroke="#8fa56f" stroke-width="0.35"/>
<path d="M555.8 925.58L561.65 922.53L565.38 924.54L559.53 927.54Z" fill="#8fa56f" stroke="#8fa56f" stroke-width="0.35"/>
<path d="M450.97 922.17L456.83 919.34L460.55 922.09L454.7 924.94Z" fill="#a1a468" stroke="#a1a468" stroke-width="0.35"/>
<path d="M532.92 926.22L538.77 923.05L542.5 924.89L536.65 928.03Z" fill="#8ba671" stroke="#8ba671" stroke-width="0.35"/>
<path d="M428.09 919.34L433.95 916.49L437.67 919.36L431.82 922.22Z" fill="#b6a15f" stroke="#b6a15f" stroke-width="0.35"/>
<path d="M510.04 927.3L515.89 924.16L519.62 926L513.77 929.2Z" fill="#80a675" stroke="#80a675" stroke-width="0.35"/>
<path d="M591.99 926.91L597.84 924.19L601.56 926.19L595.71 928.86Z" fill="#88a672" stroke="#88a672" stroke-width="0.35"/>
<path d="M487.16 926.69L493.01 923.74L496.74 926.09L490.88 929.14Z" fill="#83a674" stroke="#83a674" stroke-width="0.35"/>
<path d="M569.1 926.59L574.96 923.67L578.68 925.73L572.83 928.59Z" fill="#8ca670" stroke="#8ca670" stroke-width="0.35"/>
<path d="M464.28 924.8L470.13 921.96L473.86 924.59L468 927.47Z" fill="#93a56e" stroke="#93a56e" stroke-width="0.35"/>
<path d="M546.22 926.77L552.08 923.68L555.8 925.58L549.95 928.65Z" fill="#8ca670" stroke="#8ca670" stroke-width="0.35"/>
<path d="M441.4 922.2L447.25 919.36L450.97 922.17L445.12 925.02Z" fill="#a7a365" stroke="#a7a365" stroke-width="0.35"/>
<path d="M523.34 927.72L529.19 924.52L532.92 926.22L527.07 929.41Z" fill="#84a673" stroke="#84a673" stroke-width="0.35"/>
<path d="M418.52 919.31L424.37 916.44L428.09 919.34L422.24 922.22Z" fill="#bba15c" stroke="#bba15c" stroke-width="0.35"/>
<path d="M605.29 928.13L611.14 925.54L614.87 927.49L609.01 930.03Z" fill="#83a674" stroke="#83a674" stroke-width="0.35"/>
<path d="M500.46 928.43L506.31 925.32L510.04 927.3L504.19 930.48Z" fill="#7ca677" stroke="#7ca677" stroke-width="0.35"/>
<path d="M582.41 927.7L588.26 924.92L591.99 926.91L586.13 929.64Z" fill="#88a672" stroke="#88a672" stroke-width="0.35"/>
<path d="M477.58 927.16L483.43 924.25L487.16 926.69L481.31 929.68Z" fill="#85a673" stroke="#85a673" stroke-width="0.35"/>
<path d="M559.53 927.54L565.38 924.54L569.1 926.59L563.25 929.53Z" fill="#8aa671" stroke="#8aa671" stroke-width="0.35"/>
<path d="M454.7 924.94L460.55 922.09L464.28 924.8L458.43 927.68Z" fill="#97a56c" stroke="#97a56c" stroke-width="0.35"/>
<path d="M536.65 928.03L542.5 924.89L546.22 926.77L540.37 929.9Z" fill="#87a672" stroke="#87a672" stroke-width="0.35"/>
<path d="M431.82 922.22L437.67 919.36L441.4 922.2L435.54 925.08Z" fill="#aca363" stroke="#aca363" stroke-width="0.35"/>
<path d="M513.77 929.2L519.62 926L523.34 927.72L517.49 930.95Z" fill="#7da676" stroke="#7da676" stroke-width="0.35"/>
<path d="M595.71 928.86L601.56 926.19L605.29 928.13L599.44 930.75Z" fill="#83a674" stroke="#83a674" stroke-width="0.35"/>
<path d="M490.88 929.14L496.74 926.09L500.46 928.43L494.61 931.57Z" fill="#7aa677" stroke="#7aa677" stroke-width="0.35"/>
<path d="M572.83 928.59L578.68 925.73L582.41 927.7L576.56 930.51Z" fill="#87a672" stroke="#87a672" stroke-width="0.35"/>
<path d="M468 927.47L473.86 924.59L477.58 927.16L471.73 930.11Z" fill="#88a672" stroke="#88a672" stroke-width="0.35"/>
<path d="M549.95 928.65L555.8 925.58L559.53 927.54L553.68 930.56Z" fill="#87a672" stroke="#87a672" stroke-width="0.35"/>
<path d="M445.12 925.02L450.97 922.17L454.7 924.94L448.85 927.82Z" fill="#9ca46a" stroke="#9ca46a" stroke-width="0.35"/>
<path d="M527.07 929.41L532.92 926.22L536.65 928.03L530.79 931.21Z" fill="#82a674" stroke="#82a674" stroke-width="0.35"/>
<path d="M422.24 922.22L428.09 919.34L431.82 922.22L425.97 925.11Z" fill="#b1a261" stroke="#b1a261" stroke-width="0.35"/>
<path d="M609.01 930.03L614.87 927.49L618.59 929.4L612.74 931.89Z" fill="#7ea675" stroke="#7ea675" stroke-width="0.35"/>
<path d="M504.19 930.48L510.04 927.3L513.77 929.2L507.91 932.43Z" fill="#76a679" stroke="#76a679" stroke-width="0.35"/>
<path d="M586.13 929.64L591.99 926.91L595.71 928.86L589.86 931.55Z" fill="#83a674" stroke="#83a674" stroke-width="0.35"/>
<path d="M481.31 929.68L487.16 926.69L490.88 929.14L485.03 932.22Z" fill="#7ba677" stroke="#7ba677" stroke-width="0.35"/>
<path d="M563.25 929.53L569.1 926.59L572.83 928.59L566.98 931.47Z" fill="#85a673" stroke="#85a673" stroke-width="0.35"/>
<path d="M458.43 927.68L464.28 924.8L468 927.47L462.15 930.4Z" fill="#8da670" stroke="#8da670" stroke-width="0.35"/>
<path d="M540.37 929.9L546.22 926.77L549.95 928.65L544.1 931.75Z" fill="#83a674" stroke="#83a674" stroke-width="0.35"/>
<path d="M435.54 925.08L441.4 922.2L445.12 925.02L439.27 927.92Z" fill="#a2a468" stroke="#a2a468" stroke-width="0.35"/>
<path d="M517.49 930.95L523.34 927.72L527.07 929.41L521.22 932.64Z" fill="#7aa677" stroke="#7aa677" stroke-width="0.35"/>
<path d="M412.66 922.19L418.52 919.31L422.24 922.22L416.39 925.12Z" fill="#b6a15f" stroke="#b6a15f" stroke-width="0.35"/>
<path d="M599.44 930.75L605.29 928.13L609.01 930.03L603.16 932.59Z" fill="#7fa675" stroke="#7fa675" stroke-width="0.35"/>
<path d="M494.61 931.57L500.46 928.43L504.19 930.48L498.34 933.69Z" fill="#71a67b" stroke="#71a67b" stroke-width="0.35"/>
<path d="M576.56 930.51L582.41 927.7L586.13 929.64L580.28 932.41Z" fill="#82a674" stroke="#82a674" stroke-width="0.35"/>
<path d="M471.73 930.11L477.58 927.16L481.31 929.68L475.45 932.7Z" fill="#7ea676" stroke="#7ea676" stroke-width="0.35"/>
<path d="M553.68 930.56L559.53 927.54L563.25 929.53L557.4 932.5Z" fill="#83a674" stroke="#83a674" stroke-width="0.35"/>
<path d="M448.85 927.82L454.7 924.94L458.43 927.68L452.57 930.6Z" fill="#92a56e" stroke="#92a56e" stroke-width="0.35"/>
<path d="M530.79 931.21L536.65 928.03L540.37 929.9L534.52 933.06Z" fill="#7ea676" stroke="#7ea676" stroke-width="0.35"/>
<path d="M425.97 925.11L431.82 922.22L435.54 925.08L429.69 927.99Z" fill="#a7a365" stroke="#a7a365" stroke-width="0.35"/>
<path d="M612.74 931.89L618.59 929.4L622.32 931.28L616.47 933.75Z" fill="#7aa677" stroke="#7aa677" stroke-width="0.35"/>
<path d="M507.91 932.43L513.77 929.2L517.49 930.95L511.64 934.22Z" fill="#72a67a" stroke="#72a67a" stroke-width="0.35"/>
<path d="M589.86 931.55L595.71 928.86L599.44 930.75L593.59 933.4Z" fill="#7fa675" stroke="#7fa675" stroke-width="0.35"/>
<path d="M485.03 932.22L490.88 929.14L494.61 931.57L488.76 934.75Z" fill="#70a67b" stroke="#70a67b" stroke-width="0.35"/>
<path d="M566.98 931.47L572.83 928.59L576.56 930.51L570.7 933.35Z" fill="#80a675" stroke="#80a675" stroke-width="0.35"/>
<path d="M462.15 930.4L468 927.47L471.73 930.11L465.88 933.1Z" fill="#81a674" stroke="#81a674" stroke-width="0.35"/>
<path d="M544.1 931.75L549.95 928.65L553.68 930.56L547.82 933.62Z" fill="#7fa675" stroke="#7fa675" stroke-width="0.35"/>
<path d="M439.27 927.92L445.12 925.02L448.85 927.82L443 930.75Z" fill="#97a56c" stroke="#97a56c" stroke-width="0.35"/>
<path d="M521.22 932.64L527.07 929.41L530.79 931.21L524.94 934.43Z" fill="#77a678" stroke="#77a678" stroke-width="0.35"/>
<path d="M416.39 925.12L422.24 922.22L425.97 925.11L420.12 928.03Z" fill="#aca363" stroke="#aca363" stroke-width="0.35"/>
<path d="M603.16 932.59L609.01 930.03L612.74 931.89L606.89 934.41Z" fill="#7ba677" stroke="#7ba677" stroke-width="0.35"/>
<path d="M498.34 933.69L504.19 930.48L507.91 932.43L502.06 935.7Z" fill="#6ba57d" stroke="#6ba57d" stroke-width="0.35"/>
<path d="M580.28 932.41L586.13 929.64L589.86 931.55L584.01 934.27Z" fill="#7ea676" stroke="#7ea676" stroke-width="0.35"/>
<path d="M475.45 932.7L481.31 929.68L485.03 932.22L479.18 935.34Z" fill="#72a67a" stroke="#72a67a" stroke-width="0.35"/>
<path d="M557.4 932.5L563.25 929.53L566.98 931.47L561.13 934.39Z" fill="#7ea676" stroke="#7ea676" stroke-width="0.35"/>
<path d="M452.57 930.6L458.43 927.68L462.15 930.4L456.3 933.37Z" fill="#86a672" stroke="#86a672" stroke-width="0.35"/>
<path d="M534.52 933.06L540.37 929.9L544.1 931.75L538.25 934.89Z" fill="#7aa677" stroke="#7aa677" stroke-width="0.35"/>
<path d="M429.69 927.99L435.54 925.08L439.27 927.92L433.42 930.85Z" fill="#9ca46a" stroke="#9ca46a" stroke-width="0.35"/>
<path d="M616.47 933.75L622.32 931.28L626.04 933.16L620.19 935.6Z" fill="#76a679" stroke="#76a679" stroke-width="0.35"/>
<path d="M511.64 934.22L517.49 930.95L521.22 932.64L515.36 935.9Z" fill="#6fa67b" stroke="#6fa67b" stroke-width="0.35"/>
<path d="M406.81 925.1L412.66 922.19L416.39 925.12L410.54 928.05Z" fill="#b1a261" stroke="#b1a261" stroke-width="0.35"/>
<path d="M593.59 933.4L599.44 930.75L603.16 932.59L597.31 935.18Z" fill="#7ba677" stroke="#7ba677" stroke-width="0.35"/>
<path d="M488.76 934.75L494.61 931.57L498.34 933.69L492.48 936.94Z" fill="#66a57f" stroke="#66a57f" stroke-width="0.35"/>
<path d="M570.7 933.35L576.56 930.51L580.28 932.41L574.43 935.2Z" fill="#7ca676" stroke="#7ca676" stroke-width="0.35"/>
<path d="M465.88 933.1L471.73 930.11L475.45 932.7L469.6 935.77Z" fill="#75a679" stroke="#75a679" stroke-width="0.35"/>
<path d="M547.82 933.62L553.68 930.56L557.4 932.5L551.55 935.5Z" fill="#7ba677" stroke="#7ba677" stroke-width="0.35"/>
<path d="M443 930.75L448.85 927.82L452.57 930.6L446.72 933.57Z" fill="#8ba670" stroke="#8ba670" stroke-width="0.35"/>
<path d="M524.94 934.43L530.79 931.21L534.52 933.06L528.67 936.26Z" fill="#73a67a" stroke="#73a67a" stroke-width="0.35"/>
<path d="M420.12 928.03L425.97 925.11L429.69 927.99L423.84 930.93Z" fill="#a1a468" stroke="#a1a468" stroke-width="0.35"/>
<path d="M606.89 934.41L612.74 931.89L616.47 933.75L610.61 936.23Z" fill="#77a678" stroke="#77a678" stroke-width="0.35"/>
<path d="M502.06 935.7L507.91 932.43L511.64 934.22L505.79 937.52Z" fill="#66a57f" stroke="#66a57f" stroke-width="0.35"/>
<path d="M584.01 934.27L589.86 931.55L593.59 933.4L587.73 936.07Z" fill="#7aa677" stroke="#7aa677" stroke-width="0.35"/>
<path d="M479.18 935.34L485.03 932.22L488.76 934.75L482.91 937.97Z" fill="#65a580" stroke="#65a580" stroke-width="0.35"/>
<path d="M561.13 934.39L566.98 931.47L570.7 933.35L564.85 936.22Z" fill="#7aa677" stroke="#7aa677" stroke-width="0.35"/>
<path d="M456.3 933.37L462.15 930.4L465.88 933.1L460.03 936.13Z" fill="#79a677" stroke="#79a677" stroke-width="0.35"/>
<path d="M538.25 934.89L544.1 931.75L547.82 933.62L541.97 936.71Z" fill="#76a679" stroke="#76a679" stroke-width="0.35"/>
<path d="M433.42 930.85L439.27 927.92L443 930.75L437.14 933.72Z" fill="#91a56e" stroke="#91a56e" stroke-width="0.35"/>
<path d="M620.19 935.6L626.04 933.16L629.77 935.1L623.92 937.52Z" fill="#71a67b" stroke="#71a67b" stroke-width="0.35"/>
<path d="M515.36 935.9L521.22 932.64L524.94 934.43L519.09 937.68Z" fill="#6ca57d" stroke="#6ca57d" stroke-width="0.35"/>
<path d="M410.54 928.05L416.39 925.12L420.12 928.03L414.26 930.99Z" fill="#a7a365" stroke="#a7a365" stroke-width="0.35"/>
<path d="M597.31 935.18L603.16 932.59L606.89 934.41L601.04 936.95Z" fill="#77a678" stroke="#77a678" stroke-width="0.35"/>
<path d="M492.48 936.94L498.34 933.69L502.06 935.7L496.21 939.01Z" fill="#5fa482" stroke="#5fa482" stroke-width="0.35"/>
<path d="M574.43 935.2L580.28 932.41L584.01 934.27L578.16 937.02Z" fill="#78a678" stroke="#78a678" stroke-width="0.35"/>
<path d="M469.6 935.77L475.45 932.7L479.18 935.34L473.33 938.51Z" fill="#68a57f" stroke="#68a57f" stroke-width="0.35"/>
<path d="M551.55 935.5L557.4 932.5L561.13 934.39L555.27 937.33Z" fill="#76a679" stroke="#76a679" stroke-width="0.35"/>
<path d="M446.72 933.57L452.57 930.6L456.3 933.37L450.45 936.39Z" fill="#7fa675" stroke="#7fa675" stroke-width="0.35"/>
<path d="M528.67 936.26L534.52 933.06L538.25 934.89L532.39 938.06Z" fill="#6fa67b" stroke="#6fa67b" stroke-width="0.35"/>
<path d="M423.84 930.93L429.69 927.99L433.42 930.85L427.57 933.83Z" fill="#96a56c" stroke="#96a56c" stroke-width="0.35"/>
<path d="M610.61 936.23L616.47 933.75L620.19 935.6L614.34 938.07Z" fill="#73a67a" stroke="#73a67a" stroke-width="0.35"/>
<path d="M505.79 937.52L511.64 934.22L515.36 935.9L509.51 939.2Z" fill="#63a581" stroke="#63a581" stroke-width="0.35"/>
<path d="M400.96 928.02L406.81 925.1L410.54 928.05L404.69 931.01Z" fill="#aca363" stroke="#aca363" stroke-width="0.35"/>
<path d="M587.73 936.07L593.59 933.4L597.31 935.18L591.46 937.8Z" fill="#76a679" stroke="#76a679" stroke-width="0.35"/>
<path d="M482.91 937.97L488.76 934.75L492.48 936.94L486.63 940.23Z" fill="#5aa485" stroke="#5aa485" stroke-width="0.35"/>
<path d="M564.85 936.22L570.7 933.35L574.43 935.2L568.58 938.03Z" fill="#76a679" stroke="#76a679" stroke-width="0.35"/>
<path d="M460.03 936.13L465.88 933.1L469.6 935.77L463.75 938.89Z" fill="#6ca57d" stroke="#6ca57d" stroke-width="0.35"/>
<path d="M541.97 936.71L547.82 933.62L551.55 935.5L545.7 938.53Z" fill="#72a67a" stroke="#72a67a" stroke-width="0.35"/>
<path d="M437.14 933.72L443 930.75L446.72 933.57L440.87 936.59Z" fill="#84a673" stroke="#84a673" stroke-width="0.35"/>
<path d="M623.92 937.52L629.77 935.1L633.49 937.07L627.64 939.47Z" fill="#6ba57d" stroke="#6ba57d" stroke-width="0.35"/>
<path d="M519.09 937.68L524.94 934.43L528.67 936.26L522.82 939.49Z" fill="#68a57e" stroke="#68a57e" stroke-width="0.35"/>
<path d="M414.26 930.99L420.12 928.03L423.84 930.93L417.99 933.93Z" fill="#9ba56a" stroke="#9ba56a" stroke-width="0.35"/>
<path d="M601.04 936.95L606.89 934.41L610.61 936.23L604.76 938.75Z" fill="#73a67a" stroke="#73a67a" stroke-width="0.35"/>
<path d="M496.21 939.01L502.06 935.7L505.79 937.52L499.93 940.87Z" fill="#59a485" stroke="#59a485" stroke-width="0.35"/>
<path d="M578.16 937.02L584.01 934.27L587.73 936.07L581.88 938.76Z" fill="#74a679" stroke="#74a679" stroke-width="0.35"/>
<path d="M473.33 938.51L479.18 935.34L482.91 937.97L477.05 941.24Z" fill="#5aa485" stroke="#5aa485" stroke-width="0.35"/>
<path d="M555.27 937.33L561.13 934.39L564.85 936.22L559 939.12Z" fill="#72a67a" stroke="#72a67a" stroke-width="0.35"/>
<path d="M450.45 936.39L456.3 933.37L460.03 936.13L454.17 939.22Z" fill="#70a67b" stroke="#70a67b" stroke-width="0.35"/>
<path d="M532.39 938.06L538.25 934.89L541.97 936.71L536.12 939.84Z" fill="#6ba57d" stroke="#6ba57d" stroke-width="0.35"/>
<path d="M427.57 933.83L433.42 930.85L437.14 933.72L431.29 936.74Z" fill="#8aa671" stroke="#8aa671" stroke-width="0.35"/>
<path d="M614.34 938.07L620.19 935.6L623.92 937.52L618.07 939.97Z" fill="#6ea67c" stroke="#6ea67c" stroke-width="0.35"/>
<path d="M509.51 939.2L515.36 935.9L519.09 937.68L513.24 940.97Z" fill="#60a582" stroke="#60a582" stroke-width="0.35"/>
<path d="M404.69 931.01L410.54 928.05L414.26 930.99L408.41 933.99Z" fill="#a1a468" stroke="#a1a468" stroke-width="0.35"/>
<path d="M591.46 937.8L597.31 935.18L601.04 936.95L595.18 939.52Z" fill="#73a67a" stroke="#73a67a" stroke-width="0.35"/>
<path d="M486.63 940.23L492.48 936.94L496.21 939.01L490.36 942.37Z" fill="#52a388" stroke="#52a388" stroke-width="0.35"/>
<path d="M568.58 938.03L574.43 935.2L578.16 937.02L572.3 939.79Z" fill="#72a67a" stroke="#72a67a" stroke-width="0.35"/>
<path d="M463.75 938.89L469.6 935.77L473.33 938.51L467.48 941.73Z" fill="#5da483" stroke="#5da483" stroke-width="0.35"/>
<path d="M545.7 938.53L551.55 935.5L555.27 937.33L549.42 940.31Z" fill="#6da67c" stroke="#6da67c" stroke-width="0.35"/>
<path d="M440.87 936.59L446.72 933.57L450.45 936.39L444.6 939.47Z" fill="#76a679" stroke="#76a679" stroke-width="0.35"/>
<path d="M627.64 939.47L633.49 937.07L637.22 938.96L631.37 941.34Z" fill="#66a57f" stroke="#66a57f" stroke-width="0.35"/>
<path d="M522.82 939.49L528.67 936.26L532.39 938.06L526.54 941.27Z" fill="#64a580" stroke="#64a580" stroke-width="0.35"/>
<path d="M417.99 933.93L423.84 930.93L427.57 933.83L421.71 936.87Z" fill="#8fa56f" stroke="#8fa56f" stroke-width="0.35"/>
<path d="M604.76 938.75L610.61 936.23L614.34 938.07L608.49 940.56Z" fill="#70a67b" stroke="#70a67b" stroke-width="0.35"/>
<path d="M499.93 940.87L505.79 937.52L509.51 939.2L503.66 942.55Z" fill="#56a387" stroke="#56a387" stroke-width="0.35"/>
<path d="M395.11 930.97L400.96 928.02L404.69 931.01L398.83 934.01Z" fill="#a7a365" stroke="#a7a365" stroke-width="0.35"/>
<path d="M581.88 938.76L587.73 936.07L591.46 937.8L585.61 940.45Z" fill="#71a67b" stroke="#71a67b" stroke-width="0.35"/>
<path d="M477.05 941.24L482.91 937.97L486.63 940.23L480.78 943.57Z" fill="#4ea28a" stroke="#4ea28a" stroke-width="0.35"/>
<path d="M559 939.12L564.85 936.22L568.58 938.03L562.73 940.88Z" fill="#6ea67c" stroke="#6ea67c" stroke-width="0.35"/>
<path d="M454.17 939.22L460.03 936.13L463.75 938.89L457.9 942.06Z" fill="#61a581" stroke="#61a581" stroke-width="0.35"/>
<path d="M536.12 939.84L541.97 936.71L545.7 938.53L539.84 941.6Z" fill="#68a57f" stroke="#68a57f" stroke-width="0.35"/>
<path d="M431.29 936.74L437.14 933.72L440.87 936.59L435.02 939.66Z" fill="#7ca676" stroke="#7ca676" stroke-width="0.35"/>
<path d="M618.07 939.97L623.92 937.52L627.64 939.47L621.79 941.89Z" fill="#69a57e" stroke="#69a57e" stroke-width="0.35"/>
<path d="M513.24 940.97L519.09 937.68L522.82 939.49L516.96 942.76Z" fill="#5ca484" stroke="#5ca484" stroke-width="0.35"/>
<path d="M408.41 933.99L414.26 930.99L417.99 933.93L412.14 936.98Z" fill="#95a56d" stroke="#95a56d" stroke-width="0.35"/>
<path d="M595.18 939.52L601.04 936.95L604.76 938.75L598.91 941.29Z" fill="#70a67b" stroke="#70a67b" stroke-width="0.35"/>
<path d="M490.36 942.37L496.21 939.01L499.93 940.87L494.08 944.25Z" fill="#4da28b" stroke="#4da28b" stroke-width="0.35"/>
<path d="M572.3 939.79L578.16 937.02L581.88 938.76L576.03 941.49Z" fill="#6ea67c" stroke="#6ea67c" stroke-width="0.35"/>
<path d="M467.48 941.73L473.33 938.51L477.05 941.24L471.2 944.55Z" fill="#4ea28a" stroke="#4ea28a" stroke-width="0.35"/>
<path d="M549.42 940.31L555.27 937.33L559 939.12L553.15 942.06Z" fill="#6aa57e" stroke="#6aa57e" stroke-width="0.35"/>
<path d="M444.6 939.47L450.45 936.39L454.17 939.22L448.32 942.37Z" fill="#66a57f" stroke="#66a57f" stroke-width="0.35"/>
<path d="M631.37 941.34L637.22 938.96L640.95 940.67L635.09 943.04Z" fill="#62a581" stroke="#62a581" stroke-width="0.35"/>
<path d="M526.54 941.27L532.39 938.06L536.12 939.84L530.27 943.01Z" fill="#60a582" stroke="#60a582" stroke-width="0.35"/>
<path d="M421.71 936.87L427.57 933.83L431.29 936.74L425.44 939.83Z" fill="#82a674" stroke="#82a674" stroke-width="0.35"/>
<path d="M608.49 940.56L614.34 938.07L618.07 939.97L612.21 942.44Z" fill="#6ba57d" stroke="#6ba57d" stroke-width="0.35"/>
<path d="M503.66 942.55L509.51 939.2L513.24 940.97L507.39 944.3Z" fill="#53a388" stroke="#53a388" stroke-width="0.35"/>
<path d="M398.83 934.01L404.69 931.01L408.41 933.99L402.56 937.05Z" fill="#9ba56a" stroke="#9ba56a" stroke-width="0.35"/>
<path d="M585.61 940.45L591.46 937.8L595.18 939.52L589.33 942.12Z" fill="#6fa67c" stroke="#6fa67c" stroke-width="0.35"/>
<path d="M480.78 943.57L486.63 940.23L490.36 942.37L484.51 945.77Z" fill="#47a18f" stroke="#47a18f" stroke-width="0.35"/>
<path d="M562.73 940.88L568.58 938.03L572.3 939.79L566.45 942.6Z" fill="#6ba57d" stroke="#6ba57d" stroke-width="0.35"/>
<path d="M457.9 942.06L463.75 938.89L467.48 941.73L461.62 945Z" fill="#52a389" stroke="#52a389" stroke-width="0.35"/>
<path d="M539.84 941.6L545.7 938.53L549.42 940.31L543.57 943.33Z" fill="#64a580" stroke="#64a580" stroke-width="0.35"/>
<path d="M435.02 939.66L440.87 936.59L444.6 939.47L438.74 942.61Z" fill="#6ca67d" stroke="#6ca67d" stroke-width="0.35"/>
<path d="M621.79 941.89L627.64 939.47L631.37 941.34L625.52 943.75Z" fill="#64a580" stroke="#64a580" stroke-width="0.35"/>
<path d="M516.96 942.76L522.82 939.49L526.54 941.27L520.69 944.52Z" fill="#58a486" stroke="#58a486" stroke-width="0.35"/>
<path d="M412.14 936.98L417.99 933.93L421.71 936.87L415.86 939.97Z" fill="#88a672" stroke="#88a672" stroke-width="0.35"/>
<path d="M598.91 941.29L604.76 938.75L608.49 940.56L602.64 943.08Z" fill="#6ca57d" stroke="#6ca57d" stroke-width="0.35"/>
<path d="M494.08 944.25L499.93 940.87L503.66 942.55L497.81 945.94Z" fill="#4aa18d" stroke="#4aa18d" stroke-width="0.35"/>
<path d="M389.26 933.96L395.11 930.97L398.83 934.01L392.98 937.07Z" fill="#a1a468" stroke="#a1a468" stroke-width="0.35"/>
<path d="M576.03 941.49L581.88 938.76L585.61 940.45L579.75 943.12Z" fill="#6ca57d" stroke="#6ca57d" stroke-width="0.35"/>
<path d="M471.2 944.55L477.05 941.24L480.78 943.57L474.93 946.96Z" fill="#43a090" stroke="#43a090" stroke-width="0.35"/>
<path d="M553.15 942.06L559 939.12L562.73 940.88L556.87 943.77Z" fill="#66a57f" stroke="#66a57f" stroke-width="0.35"/>
<path d="M448.32 942.37L454.17 939.22L457.9 942.06L452.05 945.29Z" fill="#56a386" stroke="#56a386" stroke-width="0.35"/>
<path d="M635.09 943.04L640.95 940.67L644.67 942.14L638.82 944.54Z" fill="#61a582" stroke="#61a582" stroke-width="0.35"/>
<path d="M530.27 943.01L536.12 939.84L539.84 941.6L533.99 944.71Z" fill="#5da483" stroke="#5da483" stroke-width="0.35"/>
<path d="M425.44 939.83L431.29 936.74L435.02 939.66L429.17 942.81Z" fill="#73a67a" stroke="#73a67a" stroke-width="0.35"/>
<path d="M612.21 942.44L618.07 939.97L621.79 941.89L615.94 944.34Z" fill="#66a57f" stroke="#66a57f" stroke-width="0.35"/>
<path d="M507.39 944.3L513.24 940.97L516.96 942.76L511.11 946.08Z" fill="#50a28a" stroke="#50a28a" stroke-width="0.35"/>
<path d="M402.56 937.05L408.41 933.99L412.14 936.98L406.28 940.1Z" fill="#8ea66f" stroke="#8ea66f" stroke-width="0.35"/>
<path d="M589.33 942.12L595.18 939.52L598.91 941.29L593.06 943.86Z" fill="#6ba57d" stroke="#6ba57d" stroke-width="0.35"/>
<path d="M484.51 945.77L490.36 942.37L494.08 944.25L488.23 947.69Z" fill="#41a092" stroke="#41a092" stroke-width="0.35"/>
<path d="M566.45 942.6L572.3 939.79L576.03 941.49L570.18 944.25Z" fill="#68a57e" stroke="#68a57e" stroke-width="0.35"/>
<path d="M461.62 945L467.48 941.73L471.2 944.55L465.35 947.93Z" fill="#43a090" stroke="#43a090" stroke-width="0.35"/>
<path d="M543.57 943.33L549.42 940.31L553.15 942.06L547.3 945.02Z" fill="#61a582" stroke="#61a582" stroke-width="0.35"/>
<path d="M438.74 942.61L444.6 939.47L448.32 942.37L442.47 945.58Z" fill="#5ca484" stroke="#5ca484" stroke-width="0.35"/>
<path d="M625.52 943.75L631.37 941.34L635.09 943.04L629.24 945.44Z" fill="#60a582" stroke="#60a582" stroke-width="0.35"/>
<path d="M520.69 944.52L526.54 941.27L530.27 943.01L524.42 946.21Z" fill="#55a387" stroke="#55a387" stroke-width="0.35"/>
<path d="M415.86 939.97L421.71 936.87L425.44 939.83L419.59 942.99Z" fill="#79a678" stroke="#79a678" stroke-width="0.35"/>
<path d="M602.64 943.08L608.49 940.56L612.21 942.44L606.36 944.93Z" fill="#68a57f" stroke="#68a57f" stroke-width="0.35"/>
<path d="M497.81 945.94L503.66 942.55L507.39 944.3L501.53 947.68Z" fill="#47a18e" stroke="#47a18e" stroke-width="0.35"/>
<path d="M392.98 937.07L398.83 934.01L402.56 937.05L396.71 940.18Z" fill="#94a56d" stroke="#94a56d" stroke-width="0.35"/>
<path d="M579.75 943.12L585.61 940.45L589.33 942.12L583.48 944.75Z" fill="#6aa57e" stroke="#6aa57e" stroke-width="0.35"/>
<path d="M474.93 946.96L480.78 943.57L484.51 945.77L478.65 949.22Z" fill="#3c9f95" stroke="#3c9f95" stroke-width="0.35"/>
<path d="M556.87 943.77L562.73 940.88L566.45 942.6L560.6 945.45Z" fill="#63a580" stroke="#63a580" stroke-width="0.35"/>
<path d="M452.05 945.29L457.9 942.06L461.62 945L455.77 948.33Z" fill="#47a18e" stroke="#47a18e" stroke-width="0.35"/>
<path d="M638.82 944.54L644.67 942.14L648.4 943.6L642.55 946.02Z" fill="#60a582" stroke="#60a582" stroke-width="0.35"/>
<path d="M533.99 944.71L539.84 941.6L543.57 943.33L537.72 946.38Z" fill="#5aa485" stroke="#5aa485" stroke-width="0.35"/>
<path d="M429.17 942.81L435.02 939.66L438.74 942.61L432.89 945.82Z" fill="#62a581" stroke="#62a581" stroke-width="0.35"/>
<path d="M615.94 944.34L621.79 941.89L625.52 943.75L619.66 946.18Z" fill="#61a581" stroke="#61a581" stroke-width="0.35"/>
<path d="M511.11 946.08L516.96 942.76L520.69 944.52L514.84 947.81Z" fill="#4ca28b" stroke="#4ca28b" stroke-width="0.35"/>
<path d="M406.28 940.1L412.14 936.98L415.86 939.97L410.01 943.16Z" fill="#7fa675" stroke="#7fa675" stroke-width="0.35"/>
<path d="M593.06 943.86L598.91 941.29L602.64 943.08L596.78 945.63Z" fill="#68a57e" stroke="#68a57e" stroke-width="0.35"/>
<path d="M488.23 947.69L494.08 944.25L497.81 945.94L491.96 949.37Z" fill="#3e9f93" stroke="#3e9f93" stroke-width="0.35"/>
<path d="M383.4 936.99L389.26 933.96L392.98 937.07L387.13 940.2Z" fill="#9aa56b" stroke="#9aa56b" stroke-width="0.35"/>
<path d="M570.18 944.25L576.03 941.49L579.75 943.12L573.9 945.83Z" fill="#66a57f" stroke="#66a57f" stroke-width="0.35"/>
<path d="M465.35 947.93L471.2 944.55L474.93 946.96L469.08 950.41Z" fill="#399e97" stroke="#399e97" stroke-width="0.35"/>
<path d="M547.3 945.02L553.15 942.06L556.87 943.77L551.02 946.69Z" fill="#5ea483" stroke="#5ea483" stroke-width="0.35"/>
<path d="M442.47 945.58L448.32 942.37L452.05 945.29L446.19 948.59Z" fill="#4ba28c" stroke="#4ba28c" stroke-width="0.35"/>
<path d="M629.24 945.44L635.09 943.04L638.82 944.54L632.97 946.95Z" fill="#5ea483" stroke="#5ea483" stroke-width="0.35"/>
<path d="M524.42 946.21L530.27 943.01L533.99 944.71L528.14 947.86Z" fill="#52a388" stroke="#52a388" stroke-width="0.35"/>
<path d="M419.59 942.99L425.44 939.83L429.17 942.81L423.31 946.04Z" fill="#68a57e" stroke="#68a57e" stroke-width="0.35"/>
<path d="M606.36 944.93L612.21 942.44L615.94 944.34L610.09 946.82Z" fill="#63a581" stroke="#63a581" stroke-width="0.35"/>
<path d="M501.53 947.68L507.39 944.3L511.11 946.08L505.26 949.44Z" fill="#44a090" stroke="#44a090" stroke-width="0.35"/>
<path d="M396.71 940.18L402.56 937.05L406.28 940.1L400.43 943.31Z" fill="#85a673" stroke="#85a673" stroke-width="0.35"/>
<path d="M583.48 944.75L589.33 942.12L593.06 943.86L587.21 946.45Z" fill="#67a57f" stroke="#67a57f" stroke-width="0.35"/>
<path d="M478.65 949.22L484.51 945.77L488.23 947.69L482.38 951.18Z" fill="#369d98" stroke="#369d98" stroke-width="0.35"/>
<path d="M560.6 945.45L566.45 942.6L570.18 944.25L564.33 947.04Z" fill="#61a581" stroke="#61a581" stroke-width="0.35"/>
<path d="M455.77 948.33L461.62 945L465.35 947.93L459.5 951.36Z" fill="#399e96" stroke="#399e96" stroke-width="0.35"/>
<path d="M642.55 946.02L648.4 943.6L652.12 945.05L646.27 947.52Z" fill="#60a582" stroke="#60a582" stroke-width="0.35"/>
<path d="M537.72 946.38L543.57 943.33L547.3 945.02L541.44 948.03Z" fill="#58a486" stroke="#58a486" stroke-width="0.35"/>
<path d="M432.89 945.82L438.74 942.61L442.47 945.58L436.62 948.87Z" fill="#50a389" stroke="#50a389" stroke-width="0.35"/>
<path d="M619.66 946.18L625.52 943.75L629.24 945.44L623.39 947.86Z" fill="#5ea483" stroke="#5ea483" stroke-width="0.35"/>
<path d="M514.84 947.81L520.69 944.52L524.42 946.21L518.56 949.46Z" fill="#4aa18d" stroke="#4aa18d" stroke-width="0.35"/>
<path d="M410.01 943.16L415.86 939.97L419.59 942.99L413.74 946.25Z" fill="#6ea67c" stroke="#6ea67c" stroke-width="0.35"/>
<path d="M596.78 945.63L602.64 943.08L606.36 944.93L600.51 947.46Z" fill="#64a580" stroke="#64a580" stroke-width="0.35"/>
<path d="M491.96 949.37L497.81 945.94L501.53 947.68L495.68 951.11Z" fill="#3c9f95" stroke="#3c9f95" stroke-width="0.35"/>
<path d="M387.13 940.2L392.98 937.07L396.71 940.18L390.86 943.41Z" fill="#8ba670" stroke="#8ba670" stroke-width="0.35"/>
<path d="M573.9 945.83L579.75 943.12L583.48 944.75L577.63 947.41Z" fill="#64a580" stroke="#64a580" stroke-width="0.35"/>
<path d="M469.08 950.41L474.93 946.96L478.65 949.22L472.8 952.73Z" fill="#319c9b" stroke="#319c9b" stroke-width="0.35"/>
<path d="M551.02 946.69L556.87 943.77L560.6 945.45L554.75 948.32Z" fill="#5ca484" stroke="#5ca484" stroke-width="0.35"/>
<path d="M446.19 948.59L452.05 945.29L455.77 948.33L449.92 951.74Z" fill="#3d9f94" stroke="#3d9f94" stroke-width="0.35"/>
<path d="M632.97 946.95L638.82 944.54L642.55 946.02L636.69 948.47Z" fill="#5ea483" stroke="#5ea483" stroke-width="0.35"/>
<path d="M528.14 947.86L533.99 944.71L537.72 946.38L531.87 949.47Z" fill="#50a389" stroke="#50a389" stroke-width="0.35"/>
<path d="M423.31 946.04L429.17 942.81L432.89 945.82L427.04 949.13Z" fill="#56a387" stroke="#56a387" stroke-width="0.35"/>
<path d="M610.09 946.82L615.94 944.34L619.66 946.18L613.81 948.64Z" fill="#5ea483" stroke="#5ea483" stroke-width="0.35"/>
<path d="M505.26 949.44L511.11 946.08L514.84 947.81L508.99 951.15Z" fill="#41a091" stroke="#41a091" stroke-width="0.35"/>
<path d="M400.43 943.31L406.28 940.1L410.01 943.16L404.16 946.45Z" fill="#75a679" stroke="#75a679" stroke-width="0.35"/>
<path d="M587.21 946.45L593.06 943.86L596.78 945.63L590.93 948.21Z" fill="#64a580" stroke="#64a580" stroke-width="0.35"/>
<path d="M482.38 951.18L488.23 947.69L491.96 949.37L486.1 952.86Z" fill="#339c9a" stroke="#339c9a" stroke-width="0.35"/>
<path d="M377.55 940.09L383.4 936.99L387.13 940.2L381.28 943.44Z" fill="#92a56e" stroke="#92a56e" stroke-width="0.35"/>
<path d="M564.33 947.04L570.18 944.25L573.9 945.83L568.05 948.56Z" fill="#60a582" stroke="#60a582" stroke-width="0.35"/>
<path d="M459.5 951.36L465.35 947.93L469.08 950.41L463.22 953.92Z" fill="#2f9b9d" stroke="#2f9b9d" stroke-width="0.35"/>
<path d="M646.27 947.52L652.12 945.05L655.85 946.48L650 948.99Z" fill="#60a582" stroke="#60a582" stroke-width="0.35"/>
<path d="M541.44 948.03L547.3 945.02L551.02 946.69L545.17 949.65Z" fill="#55a387" stroke="#55a387" stroke-width="0.35"/>
<path d="M436.62 948.87L442.47 945.58L446.19 948.59L440.34 951.97Z" fill="#41a092" stroke="#41a092" stroke-width="0.35"/>
<path d="M623.39 947.86L629.24 945.44L632.97 946.95L627.12 949.4Z" fill="#5ca484" stroke="#5ca484" stroke-width="0.35"/>
<path d="M518.56 949.46L524.42 946.21L528.14 947.86L522.29 951.05Z" fill="#48a18e" stroke="#48a18e" stroke-width="0.35"/>
<path d="M413.74 946.25L419.59 942.99L423.31 946.04L417.46 949.37Z" fill="#5ca484" stroke="#5ca484" stroke-width="0.35"/>
<path d="M600.51 947.46L606.36 944.93L610.09 946.82L604.23 949.32Z" fill="#5fa582" stroke="#5fa582" stroke-width="0.35"/>
<path d="M495.68 951.11L501.53 947.68L505.26 949.44L499.41 952.85Z" fill="#399e96" stroke="#399e96" stroke-width="0.35"/>
<path d="M390.86 943.41L396.71 940.18L400.43 943.31L394.58 946.64Z" fill="#7ba677" stroke="#7ba677" stroke-width="0.35"/>
<path d="M577.63 947.41L583.48 944.75L587.21 946.45L581.35 949.08Z" fill="#62a581" stroke="#62a581" stroke-width="0.35"/>
<path d="M472.8 952.73L478.65 949.22L482.38 951.18L476.53 954.73Z" fill="#2c9a9e" stroke="#2c9a9e" stroke-width="0.35"/>
<path d="M554.75 948.32L560.6 945.45L564.33 947.04L558.47 949.87Z" fill="#5aa485" stroke="#5aa485" stroke-width="0.35"/>
<path d="M449.92 951.74L455.77 948.33L459.5 951.36L453.65 954.87Z" fill="#2f9b9c" stroke="#2f9b9c" stroke-width="0.35"/>
<path d="M636.69 948.47L642.55 946.02L646.27 947.52L640.42 950Z" fill="#5da483" stroke="#5da483" stroke-width="0.35"/>
<path d="M531.87 949.47L537.72 946.38L541.44 948.03L535.59 951.07Z" fill="#4ea28a" stroke="#4ea28a" stroke-width="0.35"/>
<path d="M427.04 949.13L432.89 945.82L436.62 948.87L430.77 952.26Z" fill="#45a18f" stroke="#45a18f" stroke-width="0.35"/>
<path d="M613.81 948.64L619.66 946.18L623.39 947.86L617.54 950.32Z" fill="#5ba484" stroke="#5ba484" stroke-width="0.35"/>
<path d="M508.99 951.15L514.84 947.81L518.56 949.46L512.71 952.75Z" fill="#3f9f93" stroke="#3f9f93" stroke-width="0.35"/>
<path d="M404.16 946.45L410.01 943.16L413.74 946.25L407.88 949.62Z" fill="#62a581" stroke="#62a581" stroke-width="0.35"/>
<path d="M590.93 948.21L596.78 945.63L600.51 947.46L594.66 950.02Z" fill="#60a582" stroke="#60a582" stroke-width="0.35"/>
<path d="M486.1 952.86L491.96 949.37L495.68 951.11L489.83 954.59Z" fill="#319c9b" stroke="#319c9b" stroke-width="0.35"/>
<path d="M381.28 943.44L387.13 940.2L390.86 943.41L385 946.81Z" fill="#82a674" stroke="#82a674" stroke-width="0.35"/>
<path d="M568.05 948.56L573.9 945.83L577.63 947.41L571.78 950.1Z" fill="#5ea483" stroke="#5ea483" stroke-width="0.35"/>
<path d="M463.22 953.92L469.08 950.41L472.8 952.73L466.95 956.3Z" fill="#2899a1" stroke="#2899a1" stroke-width="0.35"/>
<path d="M650 948.99L655.85 946.48L659.57 947.64L653.72 950.23Z" fill="#62a581" stroke="#62a581" stroke-width="0.35"/>
<path d="M545.17 949.65L551.02 946.69L554.75 948.32L548.9 951.24Z" fill="#54a388" stroke="#54a388" stroke-width="0.35"/>
<path d="M440.34 951.97L446.19 948.59L449.92 951.74L444.07 955.22Z" fill="#339c9a" stroke="#339c9a" stroke-width="0.35"/>
<path d="M627.12 949.4L632.97 946.95L636.69 948.47L630.84 950.95Z" fill="#5ba484" stroke="#5ba484" stroke-width="0.35"/>
<path d="M522.29 951.05L528.14 947.86L531.87 949.47L526.01 952.61Z" fill="#47a18f" stroke="#47a18f" stroke-width="0.35"/>
<path d="M417.46 949.37L423.31 946.04L427.04 949.13L421.19 952.54Z" fill="#4aa28d" stroke="#4aa28d" stroke-width="0.35"/>
<path d="M604.23 949.32L610.09 946.82L613.81 948.64L607.96 951.12Z" fill="#5ba484" stroke="#5ba484" stroke-width="0.35"/>
<path d="M499.41 952.85L505.26 949.44L508.99 951.15L503.13 954.54Z" fill="#379d97" stroke="#379d97" stroke-width="0.35"/>
<path d="M394.58 946.64L400.43 943.31L404.16 946.45L398.31 949.89Z" fill="#68a57e" stroke="#68a57e" stroke-width="0.35"/>
<path d="M581.35 949.08L587.21 946.45L590.93 948.21L585.08 950.82Z" fill="#5fa482" stroke="#5fa482" stroke-width="0.35"/>
<path d="M476.53 954.73L482.38 951.18L486.1 952.86L480.25 956.42Z" fill="#2a9aa0" stroke="#2a9aa0" stroke-width="0.35"/>
<path d="M371.7 943.36L377.55 940.09L381.28 943.44L375.43 947.05Z" fill="#88a672" stroke="#88a672" stroke-width="0.35"/>
<path d="M558.47 949.87L564.33 947.04L568.05 948.56L562.2 951.34Z" fill="#59a485" stroke="#59a485" stroke-width="0.35"/>
<path d="M453.65 954.87L459.5 951.36L463.22 953.92L457.37 957.51Z" fill="#2798a2" stroke="#2798a2" stroke-width="0.35"/>
<path d="M640.42 950L646.27 947.52L650 948.99L644.14 951.53Z" fill="#5da483" stroke="#5da483" stroke-width="0.35"/>
<path d="M535.59 951.07L541.44 948.03L545.17 949.65L539.32 952.65Z" fill="#4da28b" stroke="#4da28b" stroke-width="0.35"/>
<path d="M430.77 952.26L436.62 948.87L440.34 951.97L434.49 955.45Z" fill="#369d98" stroke="#369d98" stroke-width="0.35"/>
<path d="M617.54 950.32L623.39 947.86L627.12 949.4L621.26 951.87Z" fill="#59a485" stroke="#59a485" stroke-width="0.35"/>
<path d="M512.71 952.75L518.56 949.46L522.29 951.05L516.44 954.28Z" fill="#3e9f93" stroke="#3e9f93" stroke-width="0.35"/>
<path d="M407.88 949.62L413.74 946.25L417.46 949.37L411.61 952.84Z" fill="#4fa28a" stroke="#4fa28a" stroke-width="0.35"/>
<path d="M594.66 950.02L600.51 947.46L604.23 949.32L598.38 951.85Z" fill="#5ca484" stroke="#5ca484" stroke-width="0.35"/>
<path d="M489.83 954.59L495.68 951.11L499.41 952.85L493.56 956.32Z" fill="#2f9b9c" stroke="#2f9b9c" stroke-width="0.35"/>
<path d="M385 946.81L390.86 943.41L394.58 946.64L388.73 950.19Z" fill="#6ea67c" stroke="#6ea67c" stroke-width="0.35"/>
<path d="M571.78 950.1L577.63 947.41L581.35 949.08L575.5 951.74Z" fill="#5da483" stroke="#5da483" stroke-width="0.35"/>
<path d="M466.95 956.3L472.8 952.73L476.53 954.73L470.67 958.34Z" fill="#2597a4" stroke="#2597a4" stroke-width="0.35"/>
<path d="M653.72 950.23L659.57 947.64L663.3 948.64L657.45 951.34Z" fill="#65a580" stroke="#65a580" stroke-width="0.35"/>
<path d="M548.9 951.24L554.75 948.32L558.47 949.87L552.62 952.73Z" fill="#52a388" stroke="#52a388" stroke-width="0.35"/>
<path d="M444.07 955.22L449.92 951.74L453.65 954.87L447.79 958.46Z" fill="#2798a2" stroke="#2798a2" stroke-width="0.35"/>
<path d="M630.84 950.95L636.69 948.47L640.42 950L634.57 952.51Z" fill="#5aa485" stroke="#5aa485" stroke-width="0.35"/>
<path d="M526.01 952.61L531.87 949.47L535.59 951.07L529.74 954.16Z" fill="#45a18f" stroke="#45a18f" stroke-width="0.35"/>
<path d="M421.19 952.54L427.04 949.13L430.77 952.26L424.91 955.77Z" fill="#3a9e96" stroke="#3a9e96" stroke-width="0.35"/>
<path d="M607.96 951.12L613.81 948.64L617.54 950.32L611.69 952.8Z" fill="#58a486" stroke="#58a486" stroke-width="0.35"/>
<path d="M503.13 954.54L508.99 951.15L512.71 952.75L506.86 956.1Z" fill="#369d98" stroke="#369d98" stroke-width="0.35"/>
<path d="M398.31 949.89L404.16 946.45L407.88 949.62L402.03 953.18Z" fill="#54a388" stroke="#54a388" stroke-width="0.35"/>
<path d="M585.08 950.82L590.93 948.21L594.66 950.02L588.81 952.6Z" fill="#5ba484" stroke="#5ba484" stroke-width="0.35"/>
<path d="M480.25 956.42L486.1 952.86L489.83 954.59L483.98 958.13Z" fill="#2899a1" stroke="#2899a1" stroke-width="0.35"/>
<path d="M375.43 947.05L381.28 943.44L385 946.81L379.15 950.74Z" fill="#74a67a" stroke="#74a67a" stroke-width="0.35"/>
<path d="M562.2 951.34L568.05 948.56L571.78 950.1L565.92 952.83Z" fill="#58a485" stroke="#58a485" stroke-width="0.35"/>
<path d="M457.37 957.51L463.22 953.92L466.95 956.3L461.1 959.95Z" fill="#2296a7" stroke="#2296a7" stroke-width="0.35"/>
<path d="M644.14 951.53L650 948.99L653.72 950.23L647.87 952.85Z" fill="#5da483" stroke="#5da483" stroke-width="0.35"/>
<path d="M539.32 952.65L545.17 949.65L548.9 951.24L543.04 954.19Z" fill="#4ba28c" stroke="#4ba28c" stroke-width="0.35"/>
<path d="M434.49 955.45L440.34 951.97L444.07 955.22L438.22 958.81Z" fill="#2a99a0" stroke="#2a99a0" stroke-width="0.35"/>
<path d="M621.26 951.87L627.12 949.4L630.84 950.95L624.99 953.45Z" fill="#58a486" stroke="#58a486" stroke-width="0.35"/>
<path d="M516.44 954.28L522.29 951.05L526.01 952.61L520.16 955.79Z" fill="#3d9f94" stroke="#3d9f94" stroke-width="0.35"/>
<path d="M411.61 952.84L417.46 949.37L421.19 952.54L415.34 956.1Z" fill="#3e9f93" stroke="#3e9f93" stroke-width="0.35"/>
<path d="M598.38 951.85L604.23 949.32L607.96 951.12L602.11 953.64Z" fill="#57a486" stroke="#57a486" stroke-width="0.35"/>
<path d="M493.56 956.32L499.41 952.85L503.13 954.54L497.28 957.98Z" fill="#2e9b9d" stroke="#2e9b9d" stroke-width="0.35"/>
<path d="M388.73 950.19L394.58 946.64L398.31 949.89L392.45 953.59Z" fill="#59a485" stroke="#59a485" stroke-width="0.35"/>
<path d="M575.5 951.74L581.35 949.08L585.08 950.82L579.23 953.46Z" fill="#5aa485" stroke="#5aa485" stroke-width="0.35"/>
<path d="M470.67 958.34L476.53 954.73L480.25 956.42L474.4 960.03Z" fill="#2396a6" stroke="#2396a6" stroke-width="0.35"/>
<path d="M552.62 952.73L558.47 949.87L562.2 951.34L556.35 954.15Z" fill="#52a389" stroke="#52a389" stroke-width="0.35"/>
<path d="M447.79 958.46L453.65 954.87L457.37 957.51L451.52 961.18Z" fill="#2295a8" stroke="#2295a8" stroke-width="0.35"/>
<path d="M634.57 952.51L640.42 950L644.14 951.53L638.29 954.09Z" fill="#59a485" stroke="#59a485" stroke-width="0.35"/>
<path d="M529.74 954.16L535.59 951.07L539.32 952.65L533.47 955.69Z" fill="#44a090" stroke="#44a090" stroke-width="0.35"/>
<path d="M424.91 955.77L430.77 952.26L434.49 955.45L428.64 959.06Z" fill="#2d9a9e" stroke="#2d9a9e" stroke-width="0.35"/>
<path d="M611.69 952.8L617.54 950.32L621.26 951.87L615.41 954.36Z" fill="#56a387" stroke="#56a387" stroke-width="0.35"/>
<path d="M506.86 956.1L512.71 952.75L516.44 954.28L510.58 957.57Z" fill="#359d99" stroke="#359d99" stroke-width="0.35"/>
<path d="M402.03 953.18L407.88 949.62L411.61 952.84L405.76 956.5Z" fill="#42a091" stroke="#42a091" stroke-width="0.35"/>
<path d="M588.81 952.6L594.66 950.02L598.38 951.85L592.53 954.42Z" fill="#57a486" stroke="#57a486" stroke-width="0.35"/>
<path d="M483.98 958.13L489.83 954.59L493.56 956.32L487.7 959.84Z" fill="#2798a2" stroke="#2798a2" stroke-width="0.35"/>
<path d="M379.15 950.74L385 946.81L388.73 950.19L382.88 954.44Z" fill="#5ca484" stroke="#5ca484" stroke-width="0.35"/>
<path d="M565.92 952.83L571.78 950.1L575.5 951.74L569.65 954.44Z" fill="#57a486" stroke="#57a486" stroke-width="0.35"/>
<path d="M461.1 959.95L466.95 956.3L470.67 958.34L464.82 962.03Z" fill="#2294aa" stroke="#2294aa" stroke-width="0.35"/>
<path d="M647.87 952.85L653.72 950.23L657.45 951.34L651.6 954.06Z" fill="#60a582" stroke="#60a582" stroke-width="0.35"/>
<path d="M543.04 954.19L548.9 951.24L552.62 952.73L546.77 955.64Z" fill="#4ba28c" stroke="#4ba28c" stroke-width="0.35"/>
<path d="M438.22 958.81L444.07 955.22L447.79 958.46L441.94 962.16Z" fill="#2295a8" stroke="#2295a8" stroke-width="0.35"/>
<path d="M624.99 953.45L630.84 950.95L634.57 952.51L628.72 955.05Z" fill="#57a386" stroke="#57a386" stroke-width="0.35"/>
<path d="M520.16 955.79L526.01 952.61L529.74 954.16L523.89 957.3Z" fill="#3d9f94" stroke="#3d9f94" stroke-width="0.35"/>
<path d="M415.34 956.1L421.19 952.54L424.91 955.77L419.06 959.42Z" fill="#309b9c" stroke="#309b9c" stroke-width="0.35"/>
<path d="M602.11 953.64L607.96 951.12L611.69 952.8L605.83 955.3Z" fill="#54a387" stroke="#54a387" stroke-width="0.35"/>
<path d="M497.28 957.98L503.13 954.54L506.86 956.1L501.01 959.5Z" fill="#2d9a9e" stroke="#2d9a9e" stroke-width="0.35"/>
<path d="M392.45 953.59L398.31 949.89L402.03 953.18L396.18 957.02Z" fill="#45a18f" stroke="#45a18f" stroke-width="0.35"/>
<path d="M579.23 953.46L585.08 950.82L588.81 952.6L582.95 955.22Z" fill="#57a486" stroke="#57a486" stroke-width="0.35"/>
<path d="M474.4 960.03L480.25 956.42L483.98 958.13L478.13 961.74Z" fill="#2396a7" stroke="#2396a7" stroke-width="0.35"/>
<path d="M556.35 954.15L562.2 951.34L565.92 952.83L560.07 955.59Z" fill="#52a389" stroke="#52a389" stroke-width="0.35"/>
<path d="M451.52 961.18L457.37 957.51L461.1 959.95L455.25 963.69Z" fill="#2192ad" stroke="#2192ad" stroke-width="0.35"/>
<path d="M638.29 954.09L644.14 951.53L647.87 952.85L642.02 955.49Z" fill="#59a485" stroke="#59a485" stroke-width="0.35"/>
<path d="M533.47 955.69L539.32 952.65L543.04 954.19L537.19 957.18Z" fill="#44a090" stroke="#44a090" stroke-width="0.35"/>
<path d="M428.64 959.06L434.49 955.45L438.22 958.81L432.36 962.52Z" fill="#2396a6" stroke="#2396a6" stroke-width="0.35"/>
<path d="M615.41 954.36L621.26 951.87L624.99 953.45L619.14 955.97Z" fill="#55a387" stroke="#55a387" stroke-width="0.35"/>
<path d="M510.58 957.57L516.44 954.28L520.16 955.79L514.31 959.02Z" fill="#359d99" stroke="#359d99" stroke-width="0.35"/>
<path d="M405.76 956.5L411.61 952.84L415.34 956.1L409.48 959.87Z" fill="#329c9a" stroke="#329c9a" stroke-width="0.35"/>
<path d="M592.53 954.42L598.38 951.85L602.11 953.64L596.26 956.18Z" fill="#54a388" stroke="#54a388" stroke-width="0.35"/>
<path d="M487.7 959.84L493.56 956.32L497.28 957.98L491.43 961.49Z" fill="#2698a3" stroke="#2698a3" stroke-width="0.35"/>
<path d="M382.88 954.44L388.73 950.19L392.45 953.59L386.6 958.14Z" fill="#46a18f" stroke="#46a18f" stroke-width="0.35"/>
<path d="M569.65 954.44L575.5 951.74L579.23 953.46L573.38 956.14Z" fill="#55a387" stroke="#55a387" stroke-width="0.35"/>
<path d="M464.82 962.03L470.67 958.34L474.4 960.03L468.55 963.73Z" fill="#2193ac" stroke="#2193ac" stroke-width="0.35"/>
<path d="M546.77 955.64L552.62 952.73L556.35 954.15L550.49 957Z" fill="#4ba28c" stroke="#4ba28c" stroke-width="0.35"/>
<path d="M441.94 962.16L447.79 958.46L451.52 961.18L445.67 964.95Z" fill="#2191ae" stroke="#2191ae" stroke-width="0.35"/>
<path d="M628.72 955.05L634.57 952.51L638.29 954.09L632.44 956.67Z" fill="#55a387" stroke="#55a387" stroke-width="0.35"/>
<path d="M523.89 957.3L529.74 954.16L533.47 955.69L527.61 958.78Z" fill="#3c9f94" stroke="#3c9f94" stroke-width="0.35"/>
<path d="M419.06 959.42L424.91 955.77L428.64 959.06L422.79 962.81Z" fill="#2497a4" stroke="#2497a4" stroke-width="0.35"/>
<path d="M605.83 955.3L611.69 952.8L615.41 954.36L609.56 956.89Z" fill="#53a388" stroke="#53a388" stroke-width="0.35"/>
<path d="M501.01 959.5L506.86 956.1L510.58 957.57L504.73 960.91Z" fill="#2c9a9e" stroke="#2c9a9e" stroke-width="0.35"/>
<path d="M396.18 957.02L402.03 953.18L405.76 956.5L399.91 960.48Z" fill="#349d99" stroke="#349d99" stroke-width="0.35"/>
<path d="M582.95 955.22L588.81 952.6L592.53 954.42L586.68 957.02Z" fill="#53a388" stroke="#53a388" stroke-width="0.35"/>
<path d="M478.13 961.74L483.98 958.13L487.7 959.84L481.85 963.43Z" fill="#2295a8" stroke="#2295a8" stroke-width="0.35"/>
<path d="M560.07 955.59L565.92 952.83L569.65 954.44L563.8 957.17Z" fill="#51a389" stroke="#51a389" stroke-width="0.35"/>
<path d="M455.25 963.69L461.1 959.95L464.82 962.03L458.97 965.81Z" fill="#2190b0" stroke="#2190b0" stroke-width="0.35"/>
<path d="M642.02 955.49L647.87 952.85L651.6 954.06L645.74 956.8Z" fill="#5ba484" stroke="#5ba484" stroke-width="0.35"/>
<path d="M537.19 957.18L543.04 954.19L546.77 955.64L540.92 958.58Z" fill="#43a090" stroke="#43a090" stroke-width="0.35"/>
<path d="M432.36 962.52L438.22 958.81L441.94 962.16L436.09 965.97Z" fill="#2191ae" stroke="#2191ae" stroke-width="0.35"/>
<path d="M619.14 955.97L624.99 953.45L628.72 955.05L622.86 957.61Z" fill="#53a388" stroke="#53a388" stroke-width="0.35"/>
<path d="M514.31 959.02L520.16 955.79L523.89 957.3L518.04 960.48Z" fill="#349d99" stroke="#349d99" stroke-width="0.35"/>
<path d="M409.48 959.87L415.34 956.1L419.06 959.42L413.21 963.3Z" fill="#2698a3" stroke="#2698a3" stroke-width="0.35"/>
<path d="M596.26 956.18L602.11 953.64L605.83 955.3L599.98 957.84Z" fill="#51a389" stroke="#51a389" stroke-width="0.35"/>
<path d="M491.43 961.49L497.28 957.98L501.01 959.5L495.16 962.96Z" fill="#2598a4" stroke="#2598a4" stroke-width="0.35"/>
<path d="M386.6 958.14L392.45 953.59L396.18 957.02L390.33 961.85Z" fill="#349d9a" stroke="#349d9a" stroke-width="0.35"/>
<path d="M573.38 956.14L579.23 953.46L582.95 955.22L577.1 957.88Z" fill="#52a389" stroke="#52a389" stroke-width="0.35"/>
<path d="M468.55 963.73L474.4 960.03L478.13 961.74L472.27 965.42Z" fill="#2192ad" stroke="#2192ad" stroke-width="0.35"/>
<path d="M550.49 957L556.35 954.15L560.07 955.59L554.22 958.39Z" fill="#4ca28c" stroke="#4ca28c" stroke-width="0.35"/>
<path d="M445.67 964.95L451.52 961.18L455.25 963.69L449.39 967.53Z" fill="#228db2" stroke="#228db2" stroke-width="0.35"/>
<path d="M632.44 956.67L638.29 954.09L642.02 955.49L636.17 958.16Z" fill="#54a387" stroke="#54a387" stroke-width="0.35"/>
<path d="M527.61 958.78L533.47 955.69L537.19 957.18L531.34 960.22Z" fill="#3c9f95" stroke="#3c9f95" stroke-width="0.35"/>
<path d="M422.79 962.81L428.64 959.06L432.36 962.52L426.51 966.39Z" fill="#2192ad" stroke="#2192ad" stroke-width="0.35"/>
<path d="M609.56 956.89L615.41 954.36L619.14 955.97L613.29 958.53Z" fill="#51a389" stroke="#51a389" stroke-width="0.35"/>
<path d="M504.73 960.91L510.58 957.57L514.31 959.02L508.46 962.31Z" fill="#2c9a9e" stroke="#2c9a9e" stroke-width="0.35"/>
<path d="M399.91 960.48L405.76 956.5L409.48 959.87L403.63 963.99Z" fill="#2798a2" stroke="#2798a2" stroke-width="0.35"/>
<path d="M586.68 957.02L592.53 954.42L596.26 956.18L590.4 958.76Z" fill="#50a28a" stroke="#50a28a" stroke-width="0.35"/>
<path d="M481.85 963.43L487.7 959.84L491.43 961.49L485.58 965.06Z" fill="#2295a9" stroke="#2295a9" stroke-width="0.35"/>
<path d="M563.8 957.17L569.65 954.44L573.38 956.14L567.52 958.85Z" fill="#4fa28a" stroke="#4fa28a" stroke-width="0.35"/>
<path d="M458.97 965.81L464.82 962.03L468.55 963.73L462.7 967.5Z" fill="#218eb1" stroke="#218eb1" stroke-width="0.35"/>
<path d="M540.92 958.58L546.77 955.64L550.49 957L544.64 959.89Z" fill="#44a090" stroke="#44a090" stroke-width="0.35"/>
<path d="M436.09 965.97L441.94 962.16L445.67 964.95L439.82 968.84Z" fill="#228bb2" stroke="#228bb2" stroke-width="0.35"/>
<path d="M622.86 957.61L628.72 955.05L632.44 956.67L626.59 959.28Z" fill="#51a389" stroke="#51a389" stroke-width="0.35"/>
<path d="M518.04 960.48L523.89 957.3L527.61 958.78L521.76 961.91Z" fill="#349d99" stroke="#349d99" stroke-width="0.35"/>
<path d="M413.21 963.3L419.06 959.42L422.79 962.81L416.93 966.8Z" fill="#2193ab" stroke="#2193ab" stroke-width="0.35"/>
<path d="M599.98 957.84L605.83 955.3L609.56 956.89L603.71 959.45Z" fill="#4fa28a" stroke="#4fa28a" stroke-width="0.35"/>
<path d="M495.16 962.96L501.01 959.5L504.73 960.91L498.88 964.32Z" fill="#2598a4" stroke="#2598a4" stroke-width="0.35"/>
<path d="M390.33 961.85L396.18 957.02L399.91 960.48L394.05 965.56Z" fill="#2698a3" stroke="#2698a3" stroke-width="0.35"/>
<path d="M577.1 957.88L582.95 955.22L586.68 957.02L580.83 959.65Z" fill="#4ea28a" stroke="#4ea28a" stroke-width="0.35"/>
<path d="M472.27 965.42L478.13 961.74L481.85 963.43L476 967.1Z" fill="#2191ae" stroke="#2191ae" stroke-width="0.35"/>
<path d="M554.22 958.39L560.07 955.59L563.8 957.17L557.95 959.95Z" fill="#4ba28c" stroke="#4ba28c" stroke-width="0.35"/>
<path d="M449.39 967.53L455.25 963.69L458.97 965.81L453.12 969.69Z" fill="#2389b3" stroke="#2389b3" stroke-width="0.35"/>
<path d="M636.17 958.16L642.02 955.49L645.74 956.8L639.89 959.57Z" fill="#55a387" stroke="#55a387" stroke-width="0.35"/>
<path d="M531.34 960.22L537.19 957.18L540.92 958.58L535.07 961.57Z" fill="#3c9f94" stroke="#3c9f94" stroke-width="0.35"/>
<path d="M426.51 966.39L432.36 962.52L436.09 965.97L430.24 969.95Z" fill="#228bb2" stroke="#228bb2" stroke-width="0.35"/>
<path d="M613.29 958.53L619.14 955.97L622.86 957.61L617.01 960.21Z" fill="#4fa28a" stroke="#4fa28a" stroke-width="0.35"/>
<path d="M508.46 962.31L514.31 959.02L518.04 960.48L512.18 963.72Z" fill="#2d9a9e" stroke="#2d9a9e" stroke-width="0.35"/>
<path d="M403.63 963.99L409.48 959.87L413.21 963.3L407.36 967.54Z" fill="#2194ab" stroke="#2194ab" stroke-width="0.35"/>
<path d="M590.4 958.76L596.26 956.18L599.98 957.84L594.13 960.41Z" fill="#4da28b" stroke="#4da28b" stroke-width="0.35"/>
<path d="M485.58 965.06L491.43 961.49L495.16 962.96L489.3 966.49Z" fill="#2294a9" stroke="#2294a9" stroke-width="0.35"/>
<path d="M567.52 958.85L573.38 956.14L577.1 957.88L571.25 960.57Z" fill="#4da28b" stroke="#4da28b" stroke-width="0.35"/>
<path d="M462.7 967.5L468.55 963.73L472.27 965.42L466.42 969.19Z" fill="#228db1" stroke="#228db1" stroke-width="0.35"/>
<path d="M544.64 959.89L550.49 957L554.22 958.39L548.37 961.24Z" fill="#45a18f" stroke="#45a18f" stroke-width="0.35"/>
<path d="M439.82 968.84L445.67 964.95L449.39 967.53L443.54 971.49Z" fill="#2685b4" stroke="#2685b4" stroke-width="0.35"/>
<path d="M626.59 959.28L632.44 956.67L636.17 958.16L630.31 960.85Z" fill="#50a28a" stroke="#50a28a" stroke-width="0.35"/>
<path d="M521.76 961.91L527.61 958.78L531.34 960.22L525.49 963.31Z" fill="#349d99" stroke="#349d99" stroke-width="0.35"/>
<path d="M416.93 966.8L422.79 962.81L426.51 966.39L420.66 970.48Z" fill="#228db2" stroke="#228db2" stroke-width="0.35"/>
<path d="M603.71 959.45L609.56 956.89L613.29 958.53L607.43 961.12Z" fill="#4da28b" stroke="#4da28b" stroke-width="0.35"/>
<path d="M498.88 964.32L504.73 960.91L508.46 962.31L502.61 965.66Z" fill="#2698a3" stroke="#2698a3" stroke-width="0.35"/>
<path d="M394.05 965.56L399.91 960.48L403.63 963.99L397.78 969.28Z" fill="#2193ac" stroke="#2193ac" stroke-width="0.35"/>
<path d="M580.83 959.65L586.68 957.02L590.4 958.76L584.55 961.37Z" fill="#4ba28c" stroke="#4ba28c" stroke-width="0.35"/>
<path d="M476 967.1L481.85 963.43L485.58 965.06L479.73 968.71Z" fill="#2191ae" stroke="#2191ae" stroke-width="0.35"/>
<path d="M557.95 959.95L563.8 957.17L567.52 958.85L561.67 961.6Z" fill="#4aa18d" stroke="#4aa18d" stroke-width="0.35"/>
<path d="M453.12 969.69L458.97 965.81L462.7 967.5L456.84 971.39Z" fill="#2587b3" stroke="#2587b3" stroke-width="0.35"/>
<path d="M535.07 961.57L540.92 958.58L544.64 959.89L538.79 962.83Z" fill="#3d9f94" stroke="#3d9f94" stroke-width="0.35"/>
<path d="M430.24 969.95L436.09 965.97L439.82 968.84L433.96 972.9Z" fill="#2783b4" stroke="#2783b4" stroke-width="0.35"/>
<path d="M617.01 960.21L622.86 957.61L626.59 959.28L620.74 961.92Z" fill="#4da28b" stroke="#4da28b" stroke-width="0.35"/>
<path d="M512.18 963.72L518.04 960.48L521.76 961.91L515.91 965.11Z" fill="#2d9b9e" stroke="#2d9b9e" stroke-width="0.35"/>
<path d="M407.36 967.54L413.21 963.3L416.93 966.8L411.08 971.15Z" fill="#228db1" stroke="#228db1" stroke-width="0.35"/>
<path d="M594.13 960.41L599.98 957.84L603.71 959.45L597.86 962.04Z" fill="#4ba28c" stroke="#4ba28c" stroke-width="0.35"/>
<path d="M489.3 966.49L495.16 962.96L498.88 964.32L493.03 967.79Z" fill="#2295a9" stroke="#2295a9" stroke-width="0.35"/>
<path d="M571.25 960.57L577.1 957.88L580.83 959.65L574.97 962.32Z" fill="#4aa18d" stroke="#4aa18d" stroke-width="0.35"/>
<path d="M466.42 969.19L472.27 965.42L476 967.1L470.15 970.86Z" fill="#228cb2" stroke="#228cb2" stroke-width="0.35"/>
<path d="M548.37 961.24L554.22 958.39L557.95 959.95L552.09 962.76Z" fill="#45a18f" stroke="#45a18f" stroke-width="0.35"/>
<path d="M443.54 971.49L449.39 967.53L453.12 969.69L447.27 973.69Z" fill="#2981b4" stroke="#2981b4" stroke-width="0.35"/>
<path d="M630.31 960.85L636.17 958.16L639.89 959.57L634.04 962.36Z" fill="#4fa28a" stroke="#4fa28a" stroke-width="0.35"/>
<path d="M525.49 963.31L531.34 960.22L535.07 961.57L529.21 964.61Z" fill="#359d99" stroke="#359d99" stroke-width="0.35"/>
<path d="M420.66 970.48L426.51 966.39L430.24 969.95L424.39 974.15Z" fill="#2883b4" stroke="#2883b4" stroke-width="0.35"/>
<path d="M607.43 961.12L613.29 958.53L617.01 960.21L611.16 962.83Z" fill="#4ba28c" stroke="#4ba28c" stroke-width="0.35"/>
<path d="M502.61 965.66L508.46 962.31L512.18 963.72L506.33 967.01Z" fill="#2698a3" stroke="#2698a3" stroke-width="0.35"/>
<path d="M397.78 969.28L403.63 963.99L407.36 967.54L401.51 973.01Z" fill="#228bb2" stroke="#228bb2" stroke-width="0.35"/>
<path d="M584.55 961.37L590.4 958.76L594.13 960.41L588.28 963.02Z" fill="#49a18d" stroke="#49a18d" stroke-width="0.35"/>
<path d="M479.73 968.71L485.58 965.06L489.3 966.49L483.45 970.09Z" fill="#2191ae" stroke="#2191ae" stroke-width="0.35"/>
<path d="M561.67 961.6L567.52 958.85L571.25 960.57L565.4 963.3Z" fill="#47a18e" stroke="#47a18e" stroke-width="0.35"/>
<path d="M456.84 971.39L462.7 967.5L466.42 969.19L460.57 973.07Z" fill="#2686b4" stroke="#2686b4" stroke-width="0.35"/>
<path d="M538.79 962.83L544.64 959.89L548.37 961.24L542.52 964.13Z" fill="#3f9f93" stroke="#3f9f93" stroke-width="0.35"/>
<path d="M433.96 972.9L439.82 968.84L443.54 971.49L437.69 975.61Z" fill="#2a7db5" stroke="#2a7db5" stroke-width="0.35"/>
<path d="M620.74 961.92L626.59 959.28L630.31 960.85L624.46 963.57Z" fill="#4ba28c" stroke="#4ba28c" stroke-width="0.35"/>
<path d="M515.91 965.11L521.76 961.91L525.49 963.31L519.64 966.46Z" fill="#2d9b9e" stroke="#2d9b9e" stroke-width="0.35"/>
<path d="M411.08 971.15L416.93 966.8L420.66 970.48L414.81 974.94Z" fill="#2783b4" stroke="#2783b4" stroke-width="0.35"/>
<path d="M597.86 962.04L603.71 959.45L607.43 961.12L601.58 963.74Z" fill="#49a18d" stroke="#49a18d" stroke-width="0.35"/>
<path d="M493.03 967.79L498.88 964.32L502.61 965.66L496.75 969.07Z" fill="#2295a8" stroke="#2295a8" stroke-width="0.35"/>
<path d="M574.97 962.32L580.83 959.65L584.55 961.37L578.7 964.02Z" fill="#47a18e" stroke="#47a18e" stroke-width="0.35"/>
<path d="M470.15 970.86L476 967.1L479.73 968.71L473.87 972.44Z" fill="#228bb2" stroke="#228bb2" stroke-width="0.35"/>
<path d="M552.09 962.76L557.95 959.95L561.67 961.6L555.82 964.4Z" fill="#44a090" stroke="#44a090" stroke-width="0.35"/>
<path d="M447.27 973.69L453.12 969.69L456.84 971.39L450.99 975.39Z" fill="#2a7fb5" stroke="#2a7fb5" stroke-width="0.35"/>
<path d="M529.21 964.61L535.07 961.57L538.79 962.83L532.94 965.81Z" fill="#379d98" stroke="#379d98" stroke-width="0.35"/>
<path d="M424.39 974.15L430.24 969.95L433.96 972.9L428.11 977.18Z" fill="#2a7ab6" stroke="#2a7ab6" stroke-width="0.35"/>
<path d="M611.16 962.83L617.01 960.21L620.74 961.92L614.88 964.59Z" fill="#48a18e" stroke="#48a18e" stroke-width="0.35"/>
<path d="M506.33 967.01L512.18 963.72L515.91 965.11L510.06 968.36Z" fill="#2798a3" stroke="#2798a3" stroke-width="0.35"/>
<path d="M401.51 973.01L407.36 967.54L411.08 971.15L405.23 976.73Z" fill="#2981b4" stroke="#2981b4" stroke-width="0.35"/>
<path d="M588.28 963.02L594.13 960.41L597.86 962.04L592 964.66Z" fill="#47a18e" stroke="#47a18e" stroke-width="0.35"/>
<path d="M483.45 970.09L489.3 966.49L493.03 967.79L487.18 971.34Z" fill="#2191ae" stroke="#2191ae" stroke-width="0.35"/>
<path d="M565.4 963.3L571.25 960.57L574.97 962.32L569.12 965.02Z" fill="#45a190" stroke="#45a190" stroke-width="0.35"/>
<path d="M460.57 973.07L466.42 969.19L470.15 970.86L464.3 974.72Z" fill="#2685b4" stroke="#2685b4" stroke-width="0.35"/>
<path d="M542.52 964.13L548.37 961.24L552.09 962.76L546.24 965.62Z" fill="#3f9f93" stroke="#3f9f93" stroke-width="0.35"/>
<path d="M437.69 975.61L443.54 971.49L447.27 973.69L441.41 977.85Z" fill="#2979b7" stroke="#2979b7" stroke-width="0.35"/>
<path d="M624.46 963.57L630.31 960.85L634.04 962.36L628.19 965.18Z" fill="#4aa18d" stroke="#4aa18d" stroke-width="0.35"/>
<path d="M519.64 966.46L525.49 963.31L529.21 964.61L523.36 967.71Z" fill="#2e9b9d" stroke="#2e9b9d" stroke-width="0.35"/>
<path d="M414.81 974.94L420.66 970.48L424.39 974.15L418.53 978.72Z" fill="#2a79b7" stroke="#2a79b7" stroke-width="0.35"/>
<path d="M601.58 963.74L607.43 961.12L611.16 962.83L605.31 965.48Z" fill="#47a18e" stroke="#47a18e" stroke-width="0.35"/>
<path d="M496.75 969.07L502.61 965.66L506.33 967.01L500.48 970.38Z" fill="#2295a8" stroke="#2295a8" stroke-width="0.35"/>
<path d="M578.7 964.02L584.55 961.37L588.28 963.02L582.43 965.66Z" fill="#45a190" stroke="#45a190" stroke-width="0.35"/>
<path d="M473.87 972.44L479.73 968.71L483.45 970.09L477.6 973.78Z" fill="#228bb2" stroke="#228bb2" stroke-width="0.35"/>
<path d="M555.82 964.4L561.67 961.6L565.4 963.3L559.55 966.07Z" fill="#42a091" stroke="#42a091" stroke-width="0.35"/>
<path d="M450.99 975.39L456.84 971.39L460.57 973.07L454.72 977.06Z" fill="#2a7eb5" stroke="#2a7eb5" stroke-width="0.35"/>
<path d="M532.94 965.81L538.79 962.83L542.52 964.13L536.66 967.07Z" fill="#389e97" stroke="#389e97" stroke-width="0.35"/>
<path d="M428.11 977.18L433.96 972.9L437.69 975.61L431.84 979.95Z" fill="#2775b9" stroke="#2775b9" stroke-width="0.35"/>
<path d="M614.88 964.59L620.74 961.92L624.46 963.57L618.61 966.32Z" fill="#46a18f" stroke="#46a18f" stroke-width="0.35"/>
<path d="M510.06 968.36L515.91 965.11L519.64 966.46L513.78 969.66Z" fill="#2798a2" stroke="#2798a2" stroke-width="0.35"/>
<path d="M405.23 976.73L411.08 971.15L414.81 974.94L408.96 980.6Z" fill="#2977b8" stroke="#2977b8" stroke-width="0.35"/>
<path d="M592 964.66L597.86 962.04L601.58 963.74L595.73 966.39Z" fill="#45a18f" stroke="#45a18f" stroke-width="0.35"/>
<path d="M487.18 971.34L493.03 967.79L496.75 969.07L490.9 972.56Z" fill="#2192ad" stroke="#2192ad" stroke-width="0.35"/>
<path d="M569.12 965.02L574.97 962.32L578.7 964.02L572.85 966.71Z" fill="#42a091" stroke="#42a091" stroke-width="0.35"/>
<path d="M464.3 974.72L470.15 970.86L473.87 972.44L468.02 976.28Z" fill="#2784b4" stroke="#2784b4" stroke-width="0.35"/>
<path d="M546.24 965.62L552.09 962.76L555.82 964.4L549.97 967.24Z" fill="#3e9f93" stroke="#3e9f93" stroke-width="0.35"/>
<path d="M441.41 977.85L447.27 973.69L450.99 975.39L445.14 979.56Z" fill="#2877b8" stroke="#2877b8" stroke-width="0.35"/>
<path d="M523.36 967.71L529.21 964.61L532.94 965.81L527.09 968.85Z" fill="#309b9c" stroke="#309b9c" stroke-width="0.35"/>
<path d="M418.53 978.72L424.39 974.15L428.11 977.18L422.26 981.82Z" fill="#2571bb" stroke="#2571bb" stroke-width="0.35"/>
<path d="M605.31 965.48L611.16 962.83L614.88 964.59L609.03 967.29Z" fill="#44a090" stroke="#44a090" stroke-width="0.35"/>
<path d="M500.48 970.38L506.33 967.01L510.06 968.36L504.21 971.67Z" fill="#2296a7" stroke="#2296a7" stroke-width="0.35"/>
<path d="M582.43 965.66L588.28 963.02L592 964.66L586.15 967.32Z" fill="#43a091" stroke="#43a091" stroke-width="0.35"/>
<path d="M477.6 973.78L483.45 970.09L487.18 971.34L481.32 974.97Z" fill="#228cb2" stroke="#228cb2" stroke-width="0.35"/>
<path d="M559.55 966.07L565.4 963.3L569.12 965.02L563.27 967.77Z" fill="#409f92" stroke="#409f92" stroke-width="0.35"/>
<path d="M454.72 977.06L460.57 973.07L464.3 974.72L458.44 978.7Z" fill="#2a7db5" stroke="#2a7db5" stroke-width="0.35"/>
<path d="M536.66 967.07L542.52 964.13L546.24 965.62L540.39 968.53Z" fill="#399e96" stroke="#399e96" stroke-width="0.35"/>
<path d="M431.84 979.95L437.69 975.61L441.41 977.85L435.56 982.23Z" fill="#2470bb" stroke="#2470bb" stroke-width="0.35"/>
<path d="M618.61 966.32L624.46 963.57L628.19 965.18L622.34 968.03Z" fill="#44a090" stroke="#44a090" stroke-width="0.35"/>
<path d="M513.78 969.66L519.64 966.46L523.36 967.71L517.51 970.86Z" fill="#2899a1" stroke="#2899a1" stroke-width="0.35"/>
<path d="M408.96 980.6L414.81 974.94L418.53 978.72L412.68 984.45Z" fill="#206dbd" stroke="#206dbd" stroke-width="0.35"/>
<path d="M595.73 966.39L601.58 963.74L605.31 965.48L599.46 968.17Z" fill="#42a091" stroke="#42a091" stroke-width="0.35"/>
<path d="M490.9 972.56L496.75 969.07L500.48 970.38L494.63 973.82Z" fill="#2192ad" stroke="#2192ad" stroke-width="0.35"/>
<path d="M572.85 966.71L578.7 964.02L582.43 965.66L576.57 968.35Z" fill="#40a092" stroke="#40a092" stroke-width="0.35"/>
<path d="M468.02 976.28L473.87 972.44L477.6 973.78L471.75 977.57Z" fill="#2784b4" stroke="#2784b4" stroke-width="0.35"/>
<path d="M549.97 967.24L555.82 964.4L559.55 966.07L553.69 968.89Z" fill="#3c9f94" stroke="#3c9f94" stroke-width="0.35"/>
<path d="M445.14 979.56L450.99 975.39L454.72 977.06L448.87 981.22Z" fill="#2876b8" stroke="#2876b8" stroke-width="0.35"/>
<path d="M527.09 968.85L532.94 965.81L536.66 967.07L530.81 970.06Z" fill="#329c9b" stroke="#329c9b" stroke-width="0.35"/>
<path d="M422.26 981.82L428.11 977.18L431.84 979.95L425.99 984.65Z" fill="#1e6bbd" stroke="#1e6bbd" stroke-width="0.35"/>
<path d="M609.03 967.29L614.88 964.59L618.61 966.32L612.76 969.1Z" fill="#41a092" stroke="#41a092" stroke-width="0.35"/>
<path d="M504.21 971.67L510.06 968.36L513.78 969.66L507.93 972.93Z" fill="#2396a7" stroke="#2396a7" stroke-width="0.35"/>
<path d="M586.15 967.32L592 964.66L595.73 966.39L589.88 969.08Z" fill="#41a092" stroke="#41a092" stroke-width="0.35"/>
<path d="M481.32 974.97L487.18 971.34L490.9 972.56L485.05 976.14Z" fill="#228db1" stroke="#228db1" stroke-width="0.35"/>
<path d="M563.27 967.77L569.12 965.02L572.85 966.71L567 969.44Z" fill="#3e9f94" stroke="#3e9f94" stroke-width="0.35"/>
<path d="M458.44 978.7L464.3 974.72L468.02 976.28L462.17 980.24Z" fill="#2a7cb5" stroke="#2a7cb5" stroke-width="0.35"/>
<path d="M540.39 968.53L546.24 965.62L549.97 967.24L544.12 970.13Z" fill="#389e97" stroke="#389e97" stroke-width="0.35"/>
<path d="M435.56 982.23L441.41 977.85L445.14 979.56L439.29 983.94Z" fill="#216ebc" stroke="#216ebc" stroke-width="0.35"/>
<path d="M517.51 970.86L523.36 967.71L527.09 968.85L521.23 971.95Z" fill="#2a99a0" stroke="#2a99a0" stroke-width="0.35"/>
<path d="M412.68 984.45L418.53 978.72L422.26 981.82L416.41 987.58Z" fill="#1963bf" stroke="#1963bf" stroke-width="0.35"/>
<path d="M599.46 968.17L605.31 965.48L609.03 967.29L603.18 970.03Z" fill="#3f9f93" stroke="#3f9f93" stroke-width="0.35"/>
<path d="M494.63 973.82L500.48 970.38L504.21 971.67L498.35 975.06Z" fill="#2193ac" stroke="#2193ac" stroke-width="0.35"/>
<path d="M576.57 968.35L582.43 965.66L586.15 967.32L580.3 970.02Z" fill="#3f9f93" stroke="#3f9f93" stroke-width="0.35"/>
<path d="M471.75 977.57L477.6 973.78L481.32 974.97L475.47 978.7Z" fill="#2685b4" stroke="#2685b4" stroke-width="0.35"/>
<path d="M553.69 968.89L559.55 966.07L563.27 967.77L557.42 970.57Z" fill="#3a9e95" stroke="#3a9e95" stroke-width="0.35"/>
<path d="M448.87 981.22L454.72 977.06L458.44 978.7L452.59 982.84Z" fill="#2875b9" stroke="#2875b9" stroke-width="0.35"/>
<path d="M530.81 970.06L536.66 967.07L540.39 968.53L534.54 971.49Z" fill="#339c9a" stroke="#339c9a" stroke-width="0.35"/>
<path d="M425.99 984.65L431.84 979.95L435.56 982.23L429.71 986.96Z" fill="#1966bf" stroke="#1966bf" stroke-width="0.35"/>
<path d="M612.76 969.1L618.61 966.32L622.34 968.03L616.48 970.92Z" fill="#3e9f93" stroke="#3e9f93" stroke-width="0.35"/>
<path d="M507.93 972.93L513.78 969.66L517.51 970.86L511.66 974.08Z" fill="#2396a6" stroke="#2396a6" stroke-width="0.35"/>
<path d="M589.88 969.08L595.73 966.39L599.46 968.17L593.6 970.9Z" fill="#3e9f93" stroke="#3e9f93" stroke-width="0.35"/>
<path d="M485.05 976.14L490.9 972.56L494.63 973.82L488.78 977.35Z" fill="#218eb1" stroke="#218eb1" stroke-width="0.35"/>
<path d="M567 969.44L572.85 966.71L576.57 968.35L570.72 971.07Z" fill="#3c9f95" stroke="#3c9f95" stroke-width="0.35"/>
<path d="M462.17 980.24L468.02 976.28L471.75 977.57L465.9 981.49Z" fill="#2a7cb5" stroke="#2a7cb5" stroke-width="0.35"/>
<path d="M544.12 970.13L549.97 967.24L553.69 968.89L547.84 971.76Z" fill="#379d98" stroke="#379d98" stroke-width="0.35"/>
<path d="M439.29 983.94L445.14 979.56L448.87 981.22L443.01 985.59Z" fill="#206dbd" stroke="#206dbd" stroke-width="0.35"/>
<path d="M521.23 971.95L527.09 968.85L530.81 970.06L524.96 973.11Z" fill="#2c9a9f" stroke="#2c9a9f" stroke-width="0.35"/>
<path d="M416.41 987.58L422.26 981.82L425.99 984.65L420.13 990.43Z" fill="#2859b9" stroke="#2859b9" stroke-width="0.35"/>
<path d="M603.18 970.03L609.03 967.29L612.76 969.1L606.91 971.92Z" fill="#3c9f95" stroke="#3c9f95" stroke-width="0.35"/>
<path d="M498.35 975.06L504.21 971.67L507.93 972.93L502.08 976.27Z" fill="#2193ab" stroke="#2193ab" stroke-width="0.35"/>
<path d="M580.3 970.02L586.15 967.32L589.88 969.08L584.03 971.81Z" fill="#3c9f94" stroke="#3c9f94" stroke-width="0.35"/>
<path d="M475.47 978.7L481.32 974.97L485.05 976.14L479.2 979.81Z" fill="#2587b4" stroke="#2587b4" stroke-width="0.35"/>
<path d="M557.42 970.57L563.27 967.77L567 969.44L561.14 972.22Z" fill="#399e97" stroke="#399e97" stroke-width="0.35"/>
<path d="M452.59 982.84L458.44 978.7L462.17 980.24L456.32 984.36Z" fill="#2775b9" stroke="#2775b9" stroke-width="0.35"/>
<path d="M534.54 971.49L540.39 968.53L544.12 970.13L538.26 973.07Z" fill="#329c9a" stroke="#329c9a" stroke-width="0.35"/>
<path d="M429.71 986.96L435.56 982.23L439.29 983.94L433.44 988.66Z" fill="#1963bf" stroke="#1963bf" stroke-width="0.35"/>
<path d="M511.66 974.08L517.51 970.86L521.23 971.95L515.38 975.12Z" fill="#2597a4" stroke="#2597a4" stroke-width="0.35"/>
<path d="M593.6 970.9L599.46 968.17L603.18 970.03L597.33 972.8Z" fill="#3a9e95" stroke="#3a9e95" stroke-width="0.35"/>
<path d="M488.78 977.35L494.63 973.82L498.35 975.06L492.5 978.54Z" fill="#218fb0" stroke="#218fb0" stroke-width="0.35"/>
<path d="M570.72 971.07L576.57 968.35L580.3 970.02L574.45 972.76Z" fill="#3a9e96" stroke="#3a9e96" stroke-width="0.35"/>
<path d="M465.9 981.49L471.75 977.57L475.47 978.7L469.62 982.56Z" fill="#2a7db5" stroke="#2a7db5" stroke-width="0.35"/>
<path d="M547.84 971.76L553.69 968.89L557.42 970.57L551.57 973.41Z" fill="#359d99" stroke="#359d99" stroke-width="0.35"/>
<path d="M443.01 985.59L448.87 981.22L452.59 982.84L446.74 987.19Z" fill="#1f6cbd" stroke="#1f6cbd" stroke-width="0.35"/>
<path d="M524.96 973.11L530.81 970.06L534.54 971.49L528.69 974.52Z" fill="#2d9b9e" stroke="#2d9b9e" stroke-width="0.35"/>
<path d="M420.13 990.43L425.99 984.65L429.71 986.96L423.86 992.73Z" fill="#374fac" stroke="#374fac" stroke-width="0.35"/>
<path d="M606.91 971.92L612.76 969.1L616.48 970.92L610.63 973.83Z" fill="#389e97" stroke="#389e97" stroke-width="0.35"/>
<path d="M502.08 976.27L507.93 972.93L511.66 974.08L505.81 977.36Z" fill="#2294aa" stroke="#2294aa" stroke-width="0.35"/>
<path d="M584.03 971.81L589.88 969.08L593.6 970.9L587.75 973.66Z" fill="#399e96" stroke="#399e96" stroke-width="0.35"/>
<path d="M479.2 979.81L485.05 976.14L488.78 977.35L482.92 980.97Z" fill="#2488b3" stroke="#2488b3" stroke-width="0.35"/>
<path d="M561.14 972.22L567 969.44L570.72 971.07L564.87 973.84Z" fill="#379d97" stroke="#379d97" stroke-width="0.35"/>
<path d="M456.32 984.36L462.17 980.24L465.9 981.49L460.04 985.56Z" fill="#2775b9" stroke="#2775b9" stroke-width="0.35"/>
<path d="M538.26 973.07L544.12 970.13L547.84 971.76L541.99 974.68Z" fill="#319c9b" stroke="#319c9b" stroke-width="0.35"/>
<path d="M433.44 988.66L439.29 983.94L443.01 985.59L437.16 990.29Z" fill="#1a61bf" stroke="#1a61bf" stroke-width="0.35"/>
<path d="M515.38 975.12L521.23 971.95L524.96 973.11L519.11 976.23Z" fill="#2698a3" stroke="#2698a3" stroke-width="0.35"/>
<path d="M597.33 972.8L603.18 970.03L606.91 971.92L601.05 974.77Z" fill="#379d98" stroke="#379d98" stroke-width="0.35"/>
<path d="M492.5 978.54L498.35 975.06L502.08 976.27L496.23 979.69Z" fill="#2190b0" stroke="#2190b0" stroke-width="0.35"/>
<path d="M574.45 972.76L580.3 970.02L584.03 971.81L578.17 974.58Z" fill="#389e97" stroke="#389e97" stroke-width="0.35"/>
<path d="M469.62 982.56L475.47 978.7L479.2 979.81L473.35 983.61Z" fill="#297fb5" stroke="#297fb5" stroke-width="0.35"/>
<path d="M551.57 973.41L557.42 970.57L561.14 972.22L555.29 975.05Z" fill="#349d9a" stroke="#349d9a" stroke-width="0.35"/>
<path d="M446.74 987.19L452.59 982.84L456.32 984.36L450.47 988.68Z" fill="#1f6cbd" stroke="#1f6cbd" stroke-width="0.35"/>
<path d="M528.69 974.52L534.54 971.49L538.26 973.07L532.41 976.07Z" fill="#2d9a9e" stroke="#2d9a9e" stroke-width="0.35"/>
<path d="M423.86 992.73L429.71 986.96L433.44 988.66L427.58 994.38Z" fill="#3a4ba5" stroke="#3a4ba5" stroke-width="0.35"/>
<path d="M505.81 977.36L511.66 974.08L515.38 975.12L509.53 978.34Z" fill="#2295a9" stroke="#2295a9" stroke-width="0.35"/>
<path d="M587.75 973.66L593.6 970.9L597.33 972.8L591.48 975.61Z" fill="#369d98" stroke="#369d98" stroke-width="0.35"/>
<path d="M482.92 980.97L488.78 977.35L492.5 978.54L486.65 982.11Z" fill="#2389b3" stroke="#2389b3" stroke-width="0.35"/>
<path d="M564.87 973.84L570.72 971.07L574.45 972.76L568.6 975.55Z" fill="#359d98" stroke="#359d98" stroke-width="0.35"/>
<path d="M460.04 985.56L465.9 981.49L469.62 982.56L463.77 986.57Z" fill="#2876b8" stroke="#2876b8" stroke-width="0.35"/>
<path d="M541.99 974.68L547.84 971.76L551.57 973.41L545.71 976.31Z" fill="#309b9c" stroke="#309b9c" stroke-width="0.35"/>
<path d="M437.16 990.29L443.01 985.59L446.74 987.19L440.89 991.87Z" fill="#1b60be" stroke="#1b60be" stroke-width="0.35"/>
<path d="M519.11 976.23L524.96 973.11L528.69 974.52L522.83 977.6Z" fill="#2799a2" stroke="#2799a2" stroke-width="0.35"/>
<path d="M601.05 974.77L606.91 971.92L610.63 973.83L604.78 976.78Z" fill="#339c9a" stroke="#339c9a" stroke-width="0.35"/>
<path d="M496.23 979.69L502.08 976.27L505.81 977.36L499.95 980.73Z" fill="#2191ae" stroke="#2191ae" stroke-width="0.35"/>
<path d="M578.17 974.58L584.03 971.81L587.75 973.66L581.9 976.46Z" fill="#359d99" stroke="#359d99" stroke-width="0.35"/>
<path d="M473.35 983.61L479.2 979.81L482.92 980.97L477.07 984.72Z" fill="#2981b4" stroke="#2981b4" stroke-width="0.35"/>
<path d="M555.29 975.05L561.14 972.22L564.87 973.84L559.02 976.66Z" fill="#329c9a" stroke="#329c9a" stroke-width="0.35"/>
<path d="M450.47 988.68L456.32 984.36L460.04 985.56L454.19 989.84Z" fill="#1f6cbd" stroke="#1f6cbd" stroke-width="0.35"/>
<path d="M532.41 976.07L538.26 973.07L541.99 974.68L536.14 977.66Z" fill="#2c9a9f" stroke="#2c9a9f" stroke-width="0.35"/>
<path d="M427.58 994.38L433.44 988.66L437.16 990.29L431.31 995.95Z" fill="#3b49a2" stroke="#3b49a2" stroke-width="0.35"/>
<path d="M509.53 978.34L515.38 975.12L519.11 976.23L513.26 979.4Z" fill="#2396a7" stroke="#2396a7" stroke-width="0.35"/>
<path d="M591.48 975.61L597.33 972.8L601.05 974.77L595.2 977.66Z" fill="#329c9b" stroke="#329c9b" stroke-width="0.35"/>
<path d="M486.65 982.11L492.5 978.54L496.23 979.69L490.38 983.22Z" fill="#228bb3" stroke="#228bb3" stroke-width="0.35"/>
<path d="M568.6 975.55L574.45 972.76L578.17 974.58L572.32 977.4Z" fill="#339c9a" stroke="#339c9a" stroke-width="0.35"/>
<path d="M463.77 986.57L469.62 982.56L473.35 983.61L467.49 987.57Z" fill="#2978b7" stroke="#2978b7" stroke-width="0.35"/>
<path d="M545.71 976.31L551.57 973.41L555.29 975.05L549.44 977.93Z" fill="#2f9b9d" stroke="#2f9b9d" stroke-width="0.35"/>
<path d="M440.89 991.87L446.74 987.19L450.47 988.68L444.61 993.33Z" fill="#1b60be" stroke="#1b60be" stroke-width="0.35"/>
<path d="M522.83 977.6L528.69 974.52L532.41 976.07L526.56 979.14Z" fill="#2799a2" stroke="#2799a2" stroke-width="0.35"/>
<path d="M499.95 980.73L505.81 977.36L509.53 978.34L503.68 981.65Z" fill="#2192ad" stroke="#2192ad" stroke-width="0.35"/>
<path d="M581.9 976.46L587.75 973.66L591.48 975.61L585.62 978.46Z" fill="#319c9b" stroke="#319c9b" stroke-width="0.35"/>
<path d="M477.07 984.72L482.92 980.97L486.65 982.11L480.8 985.81Z" fill="#2882b4" stroke="#2882b4" stroke-width="0.35"/>
<path d="M559.02 976.66L564.87 973.84L568.6 975.55L562.74 978.39Z" fill="#319c9b" stroke="#319c9b" stroke-width="0.35"/>
<path d="M454.19 989.84L460.04 985.56L463.77 986.57L457.92 990.79Z" fill="#216ebc" stroke="#216ebc" stroke-width="0.35"/>
<path d="M536.14 977.66L541.99 974.68L545.71 976.31L539.86 979.27Z" fill="#2b9a9f" stroke="#2b9a9f" stroke-width="0.35"/>
<path d="M431.31 995.95L437.16 990.29L440.89 991.87L435.04 997.47Z" fill="#3c48a1" stroke="#3c48a1" stroke-width="0.35"/>
<path d="M513.26 979.4L519.11 976.23L522.83 977.6L516.98 980.74Z" fill="#2396a6" stroke="#2396a6" stroke-width="0.35"/>
<path d="M595.2 977.66L601.05 974.77L604.78 976.78L598.93 979.77Z" fill="#2d9b9d" stroke="#2d9b9d" stroke-width="0.35"/>
<path d="M490.38 983.22L496.23 979.69L499.95 980.73L494.1 984.2Z" fill="#228cb2" stroke="#228cb2" stroke-width="0.35"/>
<path d="M572.32 977.4L578.17 974.58L581.9 976.46L576.05 979.32Z" fill="#309b9c" stroke="#309b9c" stroke-width="0.35"/>
<path d="M467.49 987.57L473.35 983.61L477.07 984.72L471.22 988.63Z" fill="#2a79b7" stroke="#2a79b7" stroke-width="0.35"/>
<path d="M549.44 977.93L555.29 975.05L559.02 976.66L553.17 979.53Z" fill="#2d9b9d" stroke="#2d9b9d" stroke-width="0.35"/>
<path d="M444.61 993.33L450.47 988.68L454.19 989.84L448.34 994.44Z" fill="#1a61bf" stroke="#1a61bf" stroke-width="0.35"/>
<path d="M526.56 979.14L532.41 976.07L536.14 977.66L530.29 980.7Z" fill="#2798a2" stroke="#2798a2" stroke-width="0.35"/>
<path d="M503.68 981.65L509.53 978.34L513.26 979.4L507.4 982.66Z" fill="#2193ab" stroke="#2193ab" stroke-width="0.35"/>
<path d="M585.62 978.46L591.48 975.61L595.2 977.66L589.35 980.59Z" fill="#2d9b9e" stroke="#2d9b9e" stroke-width="0.35"/>
<path d="M480.8 985.81L486.65 982.11L490.38 983.22L484.52 986.87Z" fill="#2784b4" stroke="#2784b4" stroke-width="0.35"/>
<path d="M562.74 978.39L568.6 975.55L572.32 977.4L566.47 980.26Z" fill="#2e9b9d" stroke="#2e9b9d" stroke-width="0.35"/>
<path d="M457.92 990.79L463.77 986.57L467.49 987.57L461.64 991.73Z" fill="#2370bb" stroke="#2370bb" stroke-width="0.35"/>
<path d="M539.86 979.27L545.71 976.31L549.44 977.93L543.59 980.87Z" fill="#2a99a0" stroke="#2a99a0" stroke-width="0.35"/>
<path d="M435.04 997.47L440.89 991.87L444.61 993.33L438.76 998.88Z" fill="#3c48a0" stroke="#3c48a0" stroke-width="0.35"/>
<path d="M516.98 980.74L522.83 977.6L526.56 979.14L520.71 982.25Z" fill="#2396a6" stroke="#2396a6" stroke-width="0.35"/>
<path d="M494.1 984.2L499.95 980.73L503.68 981.65L497.83 985.06Z" fill="#218eb1" stroke="#218eb1" stroke-width="0.35"/>
<path d="M576.05 979.32L581.9 976.46L585.62 978.46L579.77 981.36Z" fill="#2c9a9e" stroke="#2c9a9e" stroke-width="0.35"/>
<path d="M471.22 988.63L477.07 984.72L480.8 985.81L474.95 989.67Z" fill="#2a7bb6" stroke="#2a7bb6" stroke-width="0.35"/>
<path d="M553.17 979.53L559.02 976.66L562.74 978.39L556.89 981.28Z" fill="#2c9a9e" stroke="#2c9a9e" stroke-width="0.35"/>
<path d="M448.34 994.44L454.19 989.84L457.92 990.79L452.06 995.34Z" fill="#1963bf" stroke="#1963bf" stroke-width="0.35"/>
<path d="M530.29 980.7L536.14 977.66L539.86 979.27L534.01 982.29Z" fill="#2698a3" stroke="#2698a3" stroke-width="0.35"/>
<path d="M507.4 982.66L513.26 979.4L516.98 980.74L511.13 983.96Z" fill="#2294aa" stroke="#2294aa" stroke-width="0.35"/>
<path d="M589.35 980.59L595.2 977.66L598.93 979.77L593.08 982.79Z" fill="#2899a1" stroke="#2899a1" stroke-width="0.35"/>
<path d="M484.52 986.87L490.38 983.22L494.1 984.2L488.25 987.79Z" fill="#2586b4" stroke="#2586b4" stroke-width="0.35"/>
<path d="M566.47 980.26L572.32 977.4L576.05 979.32L570.2 982.22Z" fill="#2b9a9f" stroke="#2b9a9f" stroke-width="0.35"/>
<path d="M461.64 991.73L467.49 987.57L471.22 988.63L465.37 992.74Z" fill="#2572ba" stroke="#2572ba" stroke-width="0.35"/>
<path d="M543.59 980.87L549.44 977.93L553.17 979.53L547.31 982.47Z" fill="#2999a1" stroke="#2999a1" stroke-width="0.35"/>
<path d="M438.76 998.88L444.61 993.33L448.34 994.44L442.49 999.92Z" fill="#3b49a3" stroke="#3b49a3" stroke-width="0.35"/>
<path d="M520.71 982.25L526.56 979.14L530.29 980.7L524.43 983.79Z" fill="#2396a6" stroke="#2396a6" stroke-width="0.35"/>
<path d="M497.83 985.06L503.68 981.65L507.4 982.66L501.55 986.02Z" fill="#2190af" stroke="#2190af" stroke-width="0.35"/>
<path d="M579.77 981.36L585.62 978.46L589.35 980.59L583.5 983.56Z" fill="#2899a1" stroke="#2899a1" stroke-width="0.35"/>
<path d="M474.95 989.67L480.8 985.81L484.52 986.87L478.67 990.67Z" fill="#2a7db5" stroke="#2a7db5" stroke-width="0.35"/>
<path d="M556.89 981.28L562.74 978.39L566.47 980.26L560.62 983.18Z" fill="#2a99a0" stroke="#2a99a0" stroke-width="0.35"/>
<path d="M452.06 995.34L457.92 990.79L461.64 991.73L455.79 996.22Z" fill="#1a66bf" stroke="#1a66bf" stroke-width="0.35"/>
<path d="M534.01 982.29L539.86 979.27L543.59 980.87L537.74 983.87Z" fill="#2598a3" stroke="#2598a3" stroke-width="0.35"/>
<path d="M511.13 983.96L516.98 980.74L520.71 982.25L514.86 985.44Z" fill="#2294aa" stroke="#2294aa" stroke-width="0.35"/>
<path d="M488.25 987.79L494.1 984.2L497.83 985.06L491.97 988.59Z" fill="#2389b3" stroke="#2389b3" stroke-width="0.35"/>
<path d="M570.2 982.22L576.05 979.32L579.77 981.36L573.92 984.3Z" fill="#2899a1" stroke="#2899a1" stroke-width="0.35"/>
<path d="M465.37 992.74L471.22 988.63L474.95 989.67L469.09 993.73Z" fill="#2774ba" stroke="#2774ba" stroke-width="0.35"/>
<path d="M547.31 982.47L553.17 979.53L556.89 981.28L551.04 984.23Z" fill="#2899a2" stroke="#2899a2" stroke-width="0.35"/>
<path d="M442.49 999.92L448.34 994.44L452.06 995.34L446.21 1000.74Z" fill="#384daa" stroke="#384daa" stroke-width="0.35"/>
<path d="M524.43 983.79L530.29 980.7L534.01 982.29L528.16 985.35Z" fill="#2396a7" stroke="#2396a7" stroke-width="0.35"/>
<path d="M501.55 986.02L507.4 982.66L511.13 983.96L505.28 987.28Z" fill="#2191ae" stroke="#2191ae" stroke-width="0.35"/>
<path d="M583.5 983.56L589.35 980.59L593.08 982.79L587.22 985.87Z" fill="#2497a4" stroke="#2497a4" stroke-width="0.35"/>
<path d="M478.67 990.67L484.52 986.87L488.25 987.79L482.4 991.54Z" fill="#2a7fb5" stroke="#2a7fb5" stroke-width="0.35"/>
<path d="M560.62 983.18L566.47 980.26L570.2 982.22L564.34 985.17Z" fill="#2798a2" stroke="#2798a2" stroke-width="0.35"/>
<path d="M455.79 996.22L461.64 991.73L465.37 992.74L459.52 997.18Z" fill="#1b69be" stroke="#1b69be" stroke-width="0.35"/>
<path d="M537.74 983.87L543.59 980.87L547.31 982.47L541.46 985.46Z" fill="#2597a4" stroke="#2597a4" stroke-width="0.35"/>
<path d="M514.86 985.44L520.71 982.25L524.43 983.79L518.58 986.96Z" fill="#2294aa" stroke="#2294aa" stroke-width="0.35"/>
<path d="M491.97 988.59L497.83 985.06L501.55 986.02L495.7 989.5Z" fill="#228bb2" stroke="#228bb2" stroke-width="0.35"/>
<path d="M573.92 984.3L579.77 981.36L583.5 983.56L577.65 986.59Z" fill="#2497a4" stroke="#2497a4" stroke-width="0.35"/>
<path d="M469.09 993.73L474.95 989.67L478.67 990.67L472.82 994.69Z" fill="#2876b9" stroke="#2876b9" stroke-width="0.35"/>
<path d="M551.04 984.23L556.89 981.28L560.62 983.18L554.77 986.16Z" fill="#2598a3" stroke="#2598a3" stroke-width="0.35"/>
<path d="M446.21 1000.74L452.06 995.34L455.79 996.22L449.94 1001.57Z" fill="#3252b2" stroke="#3252b2" stroke-width="0.35"/>
<path d="M528.16 985.35L534.01 982.29L537.74 983.87L531.88 986.9Z" fill="#2296a7" stroke="#2296a7" stroke-width="0.35"/>
<path d="M505.28 987.28L511.13 983.96L514.86 985.44L509 988.74Z" fill="#2191ae" stroke="#2191ae" stroke-width="0.35"/>
<path d="M482.4 991.54L488.25 987.79L491.97 988.59L486.12 992.28Z" fill="#2882b4" stroke="#2882b4" stroke-width="0.35"/>
<path d="M564.34 985.17L570.2 982.22L573.92 984.3L568.07 987.3Z" fill="#2497a5" stroke="#2497a5" stroke-width="0.35"/>
<path d="M459.52 997.18L465.37 992.74L469.09 993.73L463.24 998.12Z" fill="#1e6bbd" stroke="#1e6bbd" stroke-width="0.35"/>
<path d="M541.46 985.46L547.31 982.47L551.04 984.23L545.19 987.24Z" fill="#2497a5" stroke="#2497a5" stroke-width="0.35"/>
<path d="M518.58 986.96L524.43 983.79L528.16 985.35L522.31 988.49Z" fill="#2194aa" stroke="#2194aa" stroke-width="0.35"/>
<path d="M495.7 989.5L501.55 986.02L505.28 987.28L499.43 990.73Z" fill="#228db2" stroke="#228db2" stroke-width="0.35"/>
<path d="M577.65 986.59L583.5 983.56L587.22 985.87L581.37 988.99Z" fill="#2295a8" stroke="#2295a8" stroke-width="0.35"/>
<path d="M472.82 994.69L478.67 990.67L482.4 991.54L476.55 995.5Z" fill="#2978b7" stroke="#2978b7" stroke-width="0.35"/>
<path d="M554.77 986.16L560.62 983.18L564.34 985.17L558.49 988.18Z" fill="#2497a6" stroke="#2497a6" stroke-width="0.35"/>
<path d="M449.94 1001.57L455.79 996.22L459.52 997.18L453.66 1002.49Z" fill="#2a57b8" stroke="#2a57b8" stroke-width="0.35"/>
<path d="M531.88 986.9L537.74 983.87L541.46 985.46L535.61 988.49Z" fill="#2295a8" stroke="#2295a8" stroke-width="0.35"/>
<path d="M509 988.74L514.86 985.44L518.58 986.96L512.73 990.23Z" fill="#2191ae" stroke="#2191ae" stroke-width="0.35"/>
<path d="M486.12 992.28L491.97 988.59L495.7 989.5L489.85 993.14Z" fill="#2685b4" stroke="#2685b4" stroke-width="0.35"/>
<path d="M568.07 987.3L573.92 984.3L577.65 986.59L571.79 989.66Z" fill="#2295a8" stroke="#2295a8" stroke-width="0.35"/>
<path d="M463.24 998.12L469.09 993.73L472.82 994.69L466.97 999.03Z" fill="#206dbd" stroke="#206dbd" stroke-width="0.35"/>
<path d="M545.19 987.24L551.04 984.23L554.77 986.16L548.91 989.2Z" fill="#2396a7" stroke="#2396a7" stroke-width="0.35"/>
<path d="M522.31 988.49L528.16 985.35L531.88 986.9L526.03 990.02Z" fill="#2194ab" stroke="#2194ab" stroke-width="0.35"/>
<path d="M499.43 990.73L505.28 987.28L509 988.74L503.15 992.16Z" fill="#228db1" stroke="#228db1" stroke-width="0.35"/>
<path d="M476.55 995.5L482.4 991.54L486.12 992.28L480.27 996.19Z" fill="#2a7bb6" stroke="#2a7bb6" stroke-width="0.35"/>
<path d="M558.49 988.18L564.34 985.17L568.07 987.3L562.22 990.36Z" fill="#2295a8" stroke="#2295a8" stroke-width="0.35"/>
<path d="M453.66 1002.49L459.52 997.18L463.24 998.12L457.39 1003.41Z" fill="#225cbc" stroke="#225cbc" stroke-width="0.35"/>
<path d="M535.61 988.49L541.46 985.46L545.19 987.24L539.34 990.29Z" fill="#2295a9" stroke="#2295a9" stroke-width="0.35"/>
<path d="M512.73 990.23L518.58 986.96L522.31 988.49L516.45 991.74Z" fill="#2191ae" stroke="#2191ae" stroke-width="0.35"/>
<path d="M489.85 993.14L495.7 989.5L499.43 990.73L493.57 994.33Z" fill="#2587b3" stroke="#2587b3" stroke-width="0.35"/>
<path d="M571.79 989.66L577.65 986.59L581.37 988.99L575.52 992.16Z" fill="#2193ac" stroke="#2193ac" stroke-width="0.35"/>
<path d="M466.97 999.03L472.82 994.69L476.55 995.5L470.69 999.79Z" fill="#2370bc" stroke="#2370bc" stroke-width="0.35"/>
<path d="M548.91 989.2L554.77 986.16L558.49 988.18L552.64 991.26Z" fill="#2295a9" stroke="#2295a9" stroke-width="0.35"/>
<path d="M526.03 990.02L531.88 986.9L535.61 988.49L529.76 991.6Z" fill="#2193ab" stroke="#2193ab" stroke-width="0.35"/>
<path d="M503.15 992.16L509 988.74L512.73 990.23L506.88 993.62Z" fill="#228db1" stroke="#228db1" stroke-width="0.35"/>
<path d="M480.27 996.19L486.12 992.28L489.85 993.14L484 996.99Z" fill="#2a7eb5" stroke="#2a7eb5" stroke-width="0.35"/>
<path d="M562.22 990.36L568.07 987.3L571.79 989.66L565.94 992.8Z" fill="#2193ab" stroke="#2193ab" stroke-width="0.35"/>
<path d="M457.39 1003.41L463.24 998.12L466.97 999.03L461.12 1004.28Z" fill="#1c60be" stroke="#1c60be" stroke-width="0.35"/>
<path d="M539.34 990.29L545.19 987.24L548.91 989.2L543.06 992.28Z" fill="#2294aa" stroke="#2294aa" stroke-width="0.35"/>
<path d="M516.45 991.74L522.31 988.49L526.03 990.02L520.18 993.25Z" fill="#2191ae" stroke="#2191ae" stroke-width="0.35"/>
<path d="M493.57 994.33L499.43 990.73L503.15 992.16L497.3 995.74Z" fill="#2488b3" stroke="#2488b3" stroke-width="0.35"/>
<path d="M470.69 999.79L476.55 995.5L480.27 996.19L474.42 1000.43Z" fill="#2673ba" stroke="#2673ba" stroke-width="0.35"/>
<path d="M552.64 991.26L558.49 988.18L562.22 990.36L556.36 993.48Z" fill="#2193ac" stroke="#2193ac" stroke-width="0.35"/>
<path d="M529.76 991.6L535.61 988.49L539.34 990.29L533.48 993.42Z" fill="#2193ac" stroke="#2193ac" stroke-width="0.35"/>
<path d="M506.88 993.62L512.73 990.23L516.45 991.74L510.6 995.11Z" fill="#228db1" stroke="#228db1" stroke-width="0.35"/>
<path d="M484 996.99L489.85 993.14L493.57 994.33L487.72 998.15Z" fill="#2980b4" stroke="#2980b4" stroke-width="0.35"/>
<path d="M565.94 992.8L571.79 989.66L575.52 992.16L569.67 995.39Z" fill="#2190af" stroke="#2190af" stroke-width="0.35"/>
<path d="M461.12 1004.28L466.97 999.03L470.69 999.79L464.84 1005.01Z" fill="#1964bf" stroke="#1964bf" stroke-width="0.35"/>
<path d="M543.06 992.28L548.91 989.2L552.64 991.26L546.79 994.38Z" fill="#2192ad" stroke="#2192ad" stroke-width="0.35"/>
<path d="M520.18 993.25L526.03 990.02L529.76 991.6L523.91 994.82Z" fill="#2191af" stroke="#2191af" stroke-width="0.35"/>
<path d="M497.3 995.74L503.15 992.16L506.88 993.62L501.03 997.18Z" fill="#2488b3" stroke="#2488b3" stroke-width="0.35"/>
<path d="M474.42 1000.43L480.27 996.19L484 996.99L478.14 1001.18Z" fill="#2876b8" stroke="#2876b8" stroke-width="0.35"/>
<path d="M556.36 993.48L562.22 990.36L565.94 992.8L560.09 996Z" fill="#2190af" stroke="#2190af" stroke-width="0.35"/>
<path d="M533.48 993.42L539.34 990.29L543.06 992.28L537.21 995.44Z" fill="#2191ae" stroke="#2191ae" stroke-width="0.35"/>
<path d="M510.6 995.11L516.45 991.74L520.18 993.25L514.33 996.6Z" fill="#228db1" stroke="#228db1" stroke-width="0.35"/>
<path d="M487.72 998.15L493.57 994.33L497.3 995.74L491.45 999.54Z" fill="#2980b4" stroke="#2980b4" stroke-width="0.35"/>
<path d="M464.84 1005.01L470.69 999.79L474.42 1000.43L468.57 1005.61Z" fill="#1b68be" stroke="#1b68be" stroke-width="0.35"/>
<path d="M546.79 994.38L552.64 991.26L556.36 993.48L550.51 996.65Z" fill="#2190af" stroke="#2190af" stroke-width="0.35"/>
<path d="M523.91 994.82L529.76 991.6L533.48 993.42L527.63 996.66Z" fill="#2190af" stroke="#2190af" stroke-width="0.35"/>
<path d="M501.03 997.18L506.88 993.62L510.6 995.11L504.75 998.64Z" fill="#2488b3" stroke="#2488b3" stroke-width="0.35"/>
<path d="M478.14 1001.18L484 996.99L487.72 998.15L481.87 1002.31Z" fill="#2978b7" stroke="#2978b7" stroke-width="0.35"/>
<path d="M560.09 996L565.94 992.8L569.67 995.39L563.82 998.69Z" fill="#228db2" stroke="#228db2" stroke-width="0.35"/>
<path d="M537.21 995.44L543.06 992.28L546.79 994.38L540.94 997.58Z" fill="#2190b0" stroke="#2190b0" stroke-width="0.35"/>
<path d="M514.33 996.6L520.18 993.25L523.91 994.82L518.05 998.16Z" fill="#228db2" stroke="#228db2" stroke-width="0.35"/>
<path d="M491.45 999.54L497.3 995.74L501.03 997.18L495.17 1000.95Z" fill="#2981b4" stroke="#2981b4" stroke-width="0.35"/>
<path d="M468.57 1005.61L474.42 1000.43L478.14 1001.18L472.29 1006.33Z" fill="#1e6bbd" stroke="#1e6bbd" stroke-width="0.35"/>
<path d="M550.51 996.65L556.36 993.48L560.09 996L554.24 999.26Z" fill="#228db2" stroke="#228db2" stroke-width="0.35"/>
<path d="M527.63 996.66L533.48 993.42L537.21 995.44L531.36 998.71Z" fill="#218eb1" stroke="#218eb1" stroke-width="0.35"/>
<path d="M504.75 998.64L510.6 995.11L514.33 996.6L508.48 1000.11Z" fill="#2488b3" stroke="#2488b3" stroke-width="0.35"/>
<path d="M481.87 1002.31L487.72 998.15L491.45 999.54L485.6 1003.68Z" fill="#2979b7" stroke="#2979b7" stroke-width="0.35"/>
<path d="M540.94 997.58L546.79 994.38L550.51 996.65L544.66 999.91Z" fill="#228db2" stroke="#228db2" stroke-width="0.35"/>
<path d="M518.05 998.16L523.91 994.82L527.63 996.66L521.78 1000.02Z" fill="#228cb2" stroke="#228cb2" stroke-width="0.35"/>
<path d="M495.17 1000.95L501.03 997.18L504.75 998.64L498.9 1002.39Z" fill="#2981b4" stroke="#2981b4" stroke-width="0.35"/>
<path d="M472.29 1006.33L478.14 1001.18L481.87 1002.31L476.02 1007.45Z" fill="#216ebc" stroke="#216ebc" stroke-width="0.35"/>
<path d="M554.24 999.26L560.09 996L563.82 998.69L557.96 1002.06Z" fill="#2488b3" stroke="#2488b3" stroke-width="0.35"/>
<path d="M531.36 998.71L537.21 995.44L540.94 997.58L535.08 1000.89Z" fill="#228cb2" stroke="#228cb2" stroke-width="0.35"/>
<path d="M508.48 1000.11L514.33 996.6L518.05 998.16L512.2 1001.67Z" fill="#2587b3" stroke="#2587b3" stroke-width="0.35"/>
<path d="M485.6 1003.68L491.45 999.54L495.17 1000.95L489.32 1005.07Z" fill="#2979b7" stroke="#2979b7" stroke-width="0.35"/>
<path d="M544.66 999.91L550.51 996.65L554.24 999.26L548.39 1002.61Z" fill="#2488b3" stroke="#2488b3" stroke-width="0.35"/>
<path d="M521.78 1000.02L527.63 996.66L531.36 998.71L525.51 1002.11Z" fill="#238ab3" stroke="#238ab3" stroke-width="0.35"/>
<path d="M498.9 1002.39L504.75 998.64L508.48 1000.11L502.62 1003.84Z" fill="#2981b4" stroke="#2981b4" stroke-width="0.35"/>
<path d="M476.02 1007.45L481.87 1002.31L485.6 1003.68L479.74 1008.82Z" fill="#226fbc" stroke="#226fbc" stroke-width="0.35"/>
<path d="M535.08 1000.89L540.94 997.58L544.66 999.91L538.81 1003.27Z" fill="#2488b3" stroke="#2488b3" stroke-width="0.35"/>
<path d="M512.2 1001.67L518.05 998.16L521.78 1000.02L515.93 1003.54Z" fill="#2586b4" stroke="#2586b4" stroke-width="0.35"/>
<path d="M489.32 1005.07L495.17 1000.95L498.9 1002.39L493.05 1006.49Z" fill="#2979b7" stroke="#2979b7" stroke-width="0.35"/>
<path d="M548.39 1002.61L554.24 999.26L557.96 1002.06L552.11 1005.52Z" fill="#2882b4" stroke="#2882b4" stroke-width="0.35"/>
<path d="M525.51 1002.11L531.36 998.71L535.08 1000.89L529.23 1004.33Z" fill="#2586b4" stroke="#2586b4" stroke-width="0.35"/>
<path d="M502.62 1003.84L508.48 1000.11L512.2 1001.67L506.35 1005.39Z" fill="#2980b4" stroke="#2980b4" stroke-width="0.35"/>
<path d="M479.74 1008.82L485.6 1003.68L489.32 1005.07L483.47 1010.2Z" fill="#226fbc" stroke="#226fbc" stroke-width="0.35"/>
<path d="M538.81 1003.27L544.66 999.91L548.39 1002.61L542.53 1006.06Z" fill="#2883b4" stroke="#2883b4" stroke-width="0.35"/>
<path d="M515.93 1003.54L521.78 1000.02L525.51 1002.11L519.65 1005.66Z" fill="#2784b4" stroke="#2784b4" stroke-width="0.35"/>
<path d="M493.05 1006.49L498.9 1002.39L502.62 1003.84L496.77 1007.92Z" fill="#2a79b7" stroke="#2a79b7" stroke-width="0.35"/>
<path d="M529.23 1004.33L535.08 1000.89L538.81 1003.27L532.96 1006.76Z" fill="#2882b4" stroke="#2882b4" stroke-width="0.35"/>
<path d="M506.35 1005.39L512.2 1001.67L515.93 1003.54L510.08 1007.29Z" fill="#297fb4" stroke="#297fb4" stroke-width="0.35"/>
<path d="M483.47 1010.2L489.32 1005.07L493.05 1006.49L487.19 1011.61Z" fill="#226fbc" stroke="#226fbc" stroke-width="0.35"/>
<path d="M542.53 1006.06L548.39 1002.61L552.11 1005.52L546.26 1009.09Z" fill="#2a7cb5" stroke="#2a7cb5" stroke-width="0.35"/>
<path d="M519.65 1005.66L525.51 1002.11L529.23 1004.33L523.38 1007.92Z" fill="#2980b4" stroke="#2980b4" stroke-width="0.35"/>
<path d="M496.77 1007.92L502.62 1003.84L506.35 1005.39L500.5 1009.47Z" fill="#2979b7" stroke="#2979b7" stroke-width="0.35"/>
<path d="M532.96 1006.76L538.81 1003.27L542.53 1006.06L536.68 1009.64Z" fill="#2a7db5" stroke="#2a7db5" stroke-width="0.35"/>
<path d="M510.08 1007.29L515.93 1003.54L519.65 1005.66L513.8 1009.45Z" fill="#2a7db5" stroke="#2a7db5" stroke-width="0.35"/>
<path d="M487.19 1011.61L493.05 1006.49L496.77 1007.92L490.92 1013.05Z" fill="#236fbc" stroke="#236fbc" stroke-width="0.35"/>
<path d="M523.38 1007.92L529.23 1004.33L532.96 1006.76L527.1 1010.42Z" fill="#2a7cb5" stroke="#2a7cb5" stroke-width="0.35"/>
<path d="M500.5 1009.47L506.35 1005.39L510.08 1007.29L504.22 1011.39Z" fill="#2978b7" stroke="#2978b7" stroke-width="0.35"/>
<path d="M536.68 1009.64L542.53 1006.06L546.26 1009.09L540.41 1012.78Z" fill="#2877b8" stroke="#2877b8" stroke-width="0.35"/>
<path d="M513.8 1009.45L519.65 1005.66L523.38 1007.92L517.53 1011.75Z" fill="#2a7ab7" stroke="#2a7ab7" stroke-width="0.35"/>
<path d="M490.92 1013.05L496.77 1007.92L500.5 1009.47L494.65 1014.61Z" fill="#226fbc" stroke="#226fbc" stroke-width="0.35"/>
<path d="M527.1 1010.42L532.96 1006.76L536.68 1009.64L530.83 1013.38Z" fill="#2977b8" stroke="#2977b8" stroke-width="0.35"/>
<path d="M504.22 1011.39L510.08 1007.29L513.8 1009.45L507.95 1013.59Z" fill="#2876b9" stroke="#2876b9" stroke-width="0.35"/>
<path d="M517.53 1011.75L523.38 1007.92L527.1 1010.42L521.25 1014.29Z" fill="#2876b8" stroke="#2876b8" stroke-width="0.35"/>
<path d="M494.65 1014.61L500.5 1009.47L504.22 1011.39L498.37 1016.56Z" fill="#216ebc" stroke="#216ebc" stroke-width="0.35"/>
<path d="M530.83 1013.38L536.68 1009.64L540.41 1012.78L534.56 1016.64Z" fill="#2470bb" stroke="#2470bb" stroke-width="0.35"/>
<path d="M507.95 1013.59L513.8 1009.45L517.53 1011.75L511.68 1015.93Z" fill="#2672ba" stroke="#2672ba" stroke-width="0.35"/>
<path d="M521.25 1014.29L527.1 1010.42L530.83 1013.38L524.98 1017.35Z" fill="#2470bb" stroke="#2470bb" stroke-width="0.35"/>
<path d="M498.37 1016.56L504.22 1011.39L507.95 1013.59L502.1 1018.8Z" fill="#1e6bbd" stroke="#1e6bbd" stroke-width="0.35"/>
<path d="M511.68 1015.93L517.53 1011.75L521.25 1014.29L515.4 1018.53Z" fill="#216ebc" stroke="#216ebc" stroke-width="0.35"/>
<path d="M524.98 1017.35L530.83 1013.38L534.56 1016.64L528.7 1020.72Z" fill="#1b69be" stroke="#1b69be" stroke-width="0.35"/>
<path d="M502.1 1018.8L507.95 1013.59L511.68 1015.93L505.82 1021.2Z" fill="#1a67be" stroke="#1a67be" stroke-width="0.35"/>
<path d="M515.4 1018.53L521.25 1014.29L524.98 1017.35L519.13 1021.68Z" fill="#1b68be" stroke="#1b68be" stroke-width="0.35"/>
<path d="M505.82 1021.2L511.68 1015.93L515.4 1018.53L509.55 1023.86Z" fill="#1a61bf" stroke="#1a61bf" stroke-width="0.35"/>
<path d="M519.13 1021.68L524.98 1017.35L528.7 1020.72L522.85 1025.16Z" fill="#205dbd" stroke="#205dbd" stroke-width="0.35"/>
<path d="M509.55 1023.86L515.4 1018.53L519.13 1021.68L513.27 1027.11Z" fill="#2d56b7" stroke="#2d56b7" stroke-width="0.35"/>
<path d="M513.27 1027.11L519.13 1021.68L522.85 1025.16L517 1030.7Z" fill="#3c469e" stroke="#3c469e" stroke-width="0.35"/>
<path d="M371.7 943.36L375.43 947.05L379.15 950.74L382.88 954.44L386.6 958.14L390.33 961.85L394.05 965.56L397.78 969.28L401.51 973.01L405.23 976.73L408.96 980.6L412.68 984.45L416.41 987.58L420.13 990.43L423.86 992.73L427.58 994.38L431.31 995.95L435.04 997.47L438.76 998.88L442.49 999.92L446.21 1000.74L449.94 1001.57L453.66 1002.49L457.39 1003.41L461.12 1004.28L464.84 1005.01L468.57 1005.61L472.29 1006.33L476.02 1007.45L479.74 1008.82L483.47 1010.2L487.19 1011.61L490.92 1013.05L494.65 1014.61L498.37 1016.56L502.1 1018.8L505.82 1021.2L509.55 1023.86L513.27 1027.11L517 1030.7M377.55 940.09L381.28 943.44L385 946.81L388.73 950.19L392.45 953.59L396.18 957.02L399.91 960.48L403.63 963.99L407.36 967.54L411.08 971.15L414.81 974.94L418.53 978.72L422.26 981.82L425.99 984.65L429.71 986.96L433.44 988.66L437.16 990.29L440.89 991.87L444.61 993.33L448.34 994.44L452.06 995.34L455.79 996.22L459.52 997.18L463.24 998.12L466.97 999.03L470.69 999.79L474.42 1000.43L478.14 1001.18L481.87 1002.31L485.6 1003.68L489.32 1005.07L493.05 1006.49L496.77 1007.92L500.5 1009.47L504.22 1011.39L507.95 1013.59L511.68 1015.93L515.4 1018.53L519.13 1021.68L522.85 1025.16M383.4 936.99L387.13 940.2L390.86 943.41L394.58 946.64L398.31 949.89L402.03 953.18L405.76 956.5L409.48 959.87L413.21 963.3L416.93 966.8L420.66 970.48L424.39 974.15L428.11 977.18L431.84 979.95L435.56 982.23L439.29 983.94L443.01 985.59L446.74 987.19L450.47 988.68L454.19 989.84L457.92 990.79L461.64 991.73L465.37 992.74L469.09 993.73L472.82 994.69L476.55 995.5L480.27 996.19L484 996.99L487.72 998.15L491.45 999.54L495.17 1000.95L498.9 1002.39L502.62 1003.84L506.35 1005.39L510.08 1007.29L513.8 1009.45L517.53 1011.75L521.25 1014.29L524.98 1017.35L528.7 1020.72M389.26 933.96L392.98 937.07L396.71 940.18L400.43 943.31L404.16 946.45L407.88 949.62L411.61 952.84L415.34 956.1L419.06 959.42L422.79 962.81L426.51 966.39L430.24 969.95L433.96 972.9L437.69 975.61L441.41 977.85L445.14 979.56L448.87 981.22L452.59 982.84L456.32 984.36L460.04 985.56L463.77 986.57L467.49 987.57L471.22 988.63L474.95 989.67L478.67 990.67L482.4 991.54L486.12 992.28L489.85 993.14L493.57 994.33L497.3 995.74L501.03 997.18L504.75 998.64L508.48 1000.11L512.2 1001.67L515.93 1003.54L519.65 1005.66L523.38 1007.92L527.1 1010.42L530.83 1013.38L534.56 1016.64M395.11 930.97L398.83 934.01L402.56 937.05L406.28 940.1L410.01 943.16L413.74 946.25L417.46 949.37L421.19 952.54L424.91 955.77L428.64 959.06L432.36 962.52L436.09 965.97L439.82 968.84L443.54 971.49L447.27 973.69L450.99 975.39L454.72 977.06L458.44 978.7L462.17 980.24L465.9 981.49L469.62 982.56L473.35 983.61L477.07 984.72L480.8 985.81L484.52 986.87L488.25 987.79L491.97 988.59L495.7 989.5L499.43 990.73L503.15 992.16L506.88 993.62L510.6 995.11L514.33 996.6L518.05 998.16L521.78 1000.02L525.51 1002.11L529.23 1004.33L532.96 1006.76L536.68 1009.64L540.41 1012.78M400.96 928.02L404.69 931.01L408.41 933.99L412.14 936.98L415.86 939.97L419.59 942.99L423.31 946.04L427.04 949.13L430.77 952.26L434.49 955.45L438.22 958.81L441.94 962.16L445.67 964.95L449.39 967.53L453.12 969.69L456.84 971.39L460.57 973.07L464.3 974.72L468.02 976.28L471.75 977.57L475.47 978.7L479.2 979.81L482.92 980.97L486.65 982.11L490.38 983.22L494.1 984.2L497.83 985.06L501.55 986.02L505.28 987.28L509 988.74L512.73 990.23L516.45 991.74L520.18 993.25L523.91 994.82L527.63 996.66L531.36 998.71L535.08 1000.89L538.81 1003.27L542.53 1006.06L546.26 1009.09M406.81 925.1L410.54 928.05L414.26 930.99L417.99 933.93L421.71 936.87L425.44 939.83L429.17 942.81L432.89 945.82L436.62 948.87L440.34 951.97L444.07 955.22L447.79 958.46L451.52 961.18L455.25 963.69L458.97 965.81L462.7 967.5L466.42 969.19L470.15 970.86L473.87 972.44L477.6 973.78L481.32 974.97L485.05 976.14L488.78 977.35L492.5 978.54L496.23 979.69L499.95 980.73L503.68 981.65L507.4 982.66L511.13 983.96L514.86 985.44L518.58 986.96L522.31 988.49L526.03 990.02L529.76 991.6L533.48 993.42L537.21 995.44L540.94 997.58L544.66 999.91L548.39 1002.61L552.11 1005.52M412.66 922.19L416.39 925.12L420.12 928.03L423.84 930.93L427.57 933.83L431.29 936.74L435.02 939.66L438.74 942.61L442.47 945.58L446.19 948.59L449.92 951.74L453.65 954.87L457.37 957.51L461.1 959.95L464.82 962.03L468.55 963.73L472.27 965.42L476 967.1L479.73 968.71L483.45 970.09L487.18 971.34L490.9 972.56L494.63 973.82L498.35 975.06L502.08 976.27L505.81 977.36L509.53 978.34L513.26 979.4L516.98 980.74L520.71 982.25L524.43 983.79L528.16 985.35L531.88 986.9L535.61 988.49L539.34 990.29L543.06 992.28L546.79 994.38L550.51 996.65L554.24 999.26L557.96 1002.06M418.52 919.31L422.24 922.22L425.97 925.11L429.69 927.99L433.42 930.85L437.14 933.72L440.87 936.59L444.6 939.47L448.32 942.37L452.05 945.29L455.77 948.33L459.5 951.36L463.22 953.92L466.95 956.3L470.67 958.34L474.4 960.03L478.13 961.74L481.85 963.43L485.58 965.06L489.3 966.49L493.03 967.79L496.75 969.07L500.48 970.38L504.21 971.67L507.93 972.93L511.66 974.08L515.38 975.12L519.11 976.23L522.83 977.6L526.56 979.14L530.29 980.7L534.01 982.29L537.74 983.87L541.46 985.46L545.19 987.24L548.91 989.2L552.64 991.26L556.36 993.48L560.09 996L563.82 998.69M424.37 916.44L428.09 919.34L431.82 922.22L435.54 925.08L439.27 927.92L443 930.75L446.72 933.57L450.45 936.39L454.17 939.22L457.9 942.06L461.62 945L465.35 947.93L469.08 950.41L472.8 952.73L476.53 954.73L480.25 956.42L483.98 958.13L487.7 959.84L491.43 961.49L495.16 962.96L498.88 964.32L502.61 965.66L506.33 967.01L510.06 968.36L513.78 969.66L517.51 970.86L521.23 971.95L524.96 973.11L528.69 974.52L532.41 976.07L536.14 977.66L539.86 979.27L543.59 980.87L547.31 982.47L551.04 984.23L554.77 986.16L558.49 988.18L562.22 990.36L565.94 992.8L569.67 995.39M430.22 913.58L433.95 916.49L437.67 919.36L441.4 922.2L445.12 925.02L448.85 927.82L452.57 930.6L456.3 933.37L460.03 936.13L463.75 938.89L467.48 941.73L471.2 944.55L474.93 946.96L478.65 949.22L482.38 951.18L486.1 952.86L489.83 954.59L493.56 956.32L497.28 957.98L501.01 959.5L504.73 960.91L508.46 962.31L512.18 963.72L515.91 965.11L519.64 966.46L523.36 967.71L527.09 968.85L530.81 970.06L534.54 971.49L538.26 973.07L541.99 974.68L545.71 976.31L549.44 977.93L553.17 979.53L556.89 981.28L560.62 983.18L564.34 985.17L568.07 987.3L571.79 989.66L575.52 992.16M436.07 910.74L439.8 913.65L443.52 916.52L447.25 919.36L450.97 922.17L454.7 924.94L458.43 927.68L462.15 930.4L465.88 933.1L469.6 935.77L473.33 938.51L477.05 941.24L480.78 943.57L484.51 945.77L488.23 947.69L491.96 949.37L495.68 951.11L499.41 952.85L503.13 954.54L506.86 956.1L510.58 957.57L514.31 959.02L518.04 960.48L521.76 961.91L525.49 963.31L529.21 964.61L532.94 965.81L536.66 967.07L540.39 968.53L544.12 970.13L547.84 971.76L551.57 973.41L555.29 975.05L559.02 976.66L562.74 978.39L566.47 980.26L570.2 982.22L573.92 984.3L577.65 986.59L581.37 988.99M441.92 907.91L445.65 910.83L449.38 913.71L453.1 916.55L456.83 919.34L460.55 922.09L464.28 924.8L468 927.47L471.73 930.11L475.45 932.7L479.18 935.34L482.91 937.97L486.63 940.23L490.36 942.37L494.08 944.25L497.81 945.94L501.53 947.68L505.26 949.44L508.99 951.15L512.71 952.75L516.44 954.28L520.16 955.79L523.89 957.3L527.61 958.78L531.34 960.22L535.07 961.57L538.79 962.83L542.52 964.13L546.24 965.62L549.97 967.24L553.69 968.89L557.42 970.57L561.14 972.22L564.87 973.84L568.6 975.55L572.32 977.4L576.05 979.32L579.77 981.36L583.5 983.56L587.22 985.87M447.78 905.09L451.5 908.03L455.23 910.92L458.95 913.76L462.68 916.54L466.4 919.28L470.13 921.96L473.86 924.59L477.58 927.16L481.31 929.68L485.03 932.22L488.76 934.75L492.48 936.94L496.21 939.01L499.93 940.87L503.66 942.55L507.39 944.3L511.11 946.08L514.84 947.81L518.56 949.46L522.29 951.05L526.01 952.61L529.74 954.16L533.47 955.69L537.19 957.18L540.92 958.58L544.64 959.89L548.37 961.24L552.09 962.76L555.82 964.4L559.55 966.07L563.27 967.77L567 969.44L570.72 971.07L574.45 972.76L578.17 974.58L581.9 976.46L585.62 978.46L589.35 980.59L593.08 982.79M453.63 902.29L457.35 905.24L461.08 908.15L464.8 910.99L468.53 913.77L472.26 916.49L475.98 919.15L479.71 921.73L483.43 924.25L487.16 926.69L490.88 929.14L494.61 931.57L498.34 933.69L502.06 935.7L505.79 937.52L509.51 939.2L513.24 940.97L516.96 942.76L520.69 944.52L524.42 946.21L528.14 947.86L531.87 949.47L535.59 951.07L539.32 952.65L543.04 954.19L546.77 955.64L550.49 957L554.22 958.39L557.95 959.95L561.67 961.6L565.4 963.3L569.12 965.02L572.85 966.71L576.57 968.35L580.3 970.02L584.03 971.81L587.75 973.66L591.48 975.61L595.2 977.66L598.93 979.77M459.48 899.49L463.21 902.47L466.93 905.39L470.66 908.24L474.38 911.03L478.11 913.74L481.83 916.37L485.56 918.91L489.29 921.37L493.01 923.74L496.74 926.09L500.46 928.43L504.19 930.48L507.91 932.43L511.64 934.22L515.36 935.9L519.09 937.68L522.82 939.49L526.54 941.27L530.27 943.01L533.99 944.71L537.72 946.38L541.44 948.03L545.17 949.65L548.9 951.24L552.62 952.73L556.35 954.15L560.07 955.59L563.8 957.17L567.52 958.85L571.25 960.57L574.97 962.32L578.7 964.02L582.43 965.66L586.15 967.32L589.88 969.08L593.6 970.9L597.33 972.8L601.05 974.77L604.78 976.78M465.33 896.7L469.06 899.71L472.78 902.65L476.51 905.52L480.23 908.3L483.96 911.01L487.69 913.62L491.41 916.13L495.14 918.53L498.86 920.82L502.59 923.08L506.31 925.32L510.04 927.3L513.77 929.2L517.49 930.95L521.22 932.64L524.94 934.43L528.67 936.26L532.39 938.06L536.12 939.84L539.84 941.6L543.57 943.33L547.3 945.02L551.02 946.69L554.75 948.32L558.47 949.87L562.2 951.34L565.92 952.83L569.65 954.44L573.38 956.14L577.1 957.88L580.83 959.65L584.55 961.37L588.28 963.02L592 964.66L595.73 966.39L599.46 968.17L603.18 970.03L606.91 971.92L610.63 973.83M471.18 893.91L474.91 896.95L478.64 899.92L482.36 902.81L486.09 905.6L489.81 908.3L493.54 910.89L497.26 913.36L500.99 915.72L504.71 917.94L508.44 920.1L512.17 922.25L515.89 924.16L519.62 926L523.34 927.72L527.07 929.41L530.79 931.21L534.52 933.06L538.25 934.89L541.97 936.71L545.7 938.53L549.42 940.31L553.15 942.06L556.87 943.77L560.6 945.45L564.33 947.04L568.05 948.56L571.78 950.1L575.5 951.74L579.23 953.46L582.95 955.22L586.68 957.02L590.4 958.76L594.13 960.41L597.86 962.04L601.58 963.74L605.31 965.48L609.03 967.29L612.76 969.1L616.48 970.92M477.04 891.14L480.76 894.21L484.49 897.21L488.21 900.11L491.94 902.92L495.66 905.61L499.39 908.19L503.12 910.63L506.84 912.93L510.57 915.08L514.29 917.15L518.02 919.2L521.74 921.05L525.47 922.84L529.19 924.52L532.92 926.22L536.65 928.03L540.37 929.9L544.1 931.75L547.82 933.62L551.55 935.5L555.27 937.33L559 939.12L562.73 940.88L566.45 942.6L570.18 944.25L573.9 945.83L577.63 947.41L581.35 949.08L585.08 950.82L588.81 952.6L592.53 954.42L596.26 956.18L599.98 957.84L603.71 959.45L607.43 961.12L611.16 962.83L614.88 964.59L618.61 966.32L622.34 968.03M482.89 888.37L486.61 891.48L490.34 894.51L494.06 897.44L497.79 900.25L501.52 902.95L505.24 905.51L508.97 907.92L512.69 910.17L516.42 912.25L520.14 914.23L523.87 916.19L527.6 917.97L531.32 919.7L535.05 921.36L538.77 923.05L542.5 924.89L546.22 926.77L549.95 928.65L553.68 930.56L557.4 932.5L561.13 934.39L564.85 936.22L568.58 938.03L572.3 939.79L576.03 941.49L579.75 943.12L583.48 944.75L587.21 946.45L590.93 948.21L594.66 950.02L598.38 951.85L602.11 953.64L605.83 955.3L609.56 956.89L613.29 958.53L617.01 960.21L620.74 961.92L624.46 963.57L628.19 965.18M488.74 885.61L492.47 888.76L496.19 891.82L499.92 894.78L503.64 897.61L507.37 900.3L511.09 902.85L514.82 905.23L518.55 907.43L522.27 909.45L526 911.34L529.72 913.2L533.45 914.92L537.17 916.6L540.9 918.22L544.62 919.92L548.35 921.77L552.08 923.68L555.8 925.58L559.53 927.54L563.25 929.53L566.98 931.47L570.7 933.35L574.43 935.2L578.16 937.02L581.88 938.76L585.61 940.45L589.33 942.12L593.06 943.86L596.78 945.63L600.51 947.46L604.23 949.32L607.96 951.12L611.69 952.8L615.41 954.36L619.14 955.97L622.86 957.61L626.59 959.28L630.31 960.85L634.04 962.36M494.59 882.86L498.32 886.05L502.04 889.15L505.77 892.13L509.49 894.98L513.22 897.67L516.95 900.21L520.67 902.56L524.4 904.72L528.12 906.66L531.85 908.47L535.57 910.24L539.3 911.89L543.03 913.52L546.75 915.11L550.48 916.82L554.2 918.68L557.93 920.61L561.65 922.53L565.38 924.54L569.1 926.59L572.83 928.59L576.56 930.51L580.28 932.41L584.01 934.27L587.73 936.07L591.46 937.8L595.18 939.52L598.91 941.29L602.64 943.08L606.36 944.93L610.09 946.82L613.81 948.64L617.54 950.32L621.26 951.87L624.99 953.45L628.72 955.05L632.44 956.67L636.17 958.16L639.89 959.57M500.44 880.11L504.17 883.35L507.9 886.48L511.62 889.49L515.35 892.36L519.07 895.06L522.8 897.59L526.52 899.92L530.25 902.03L533.97 903.91L537.7 905.62L541.43 907.3L545.15 908.89L548.88 910.46L552.6 912.03L556.33 913.74L560.05 915.62L563.78 917.57L567.51 919.52L571.23 921.57L574.96 923.67L578.68 925.73L582.41 927.7L586.13 929.64L589.86 931.55L593.59 933.4L597.31 935.18L601.04 936.95L604.76 938.75L608.49 940.56L612.21 942.44L615.94 944.34L619.66 946.18L623.39 947.86L627.12 949.4L630.84 950.95L634.57 952.51L638.29 954.09L642.02 955.49L645.74 956.8M506.3 877.37L510.02 880.65L513.75 883.83L517.47 886.87L521.2 889.76L524.92 892.47L528.65 894.99L532.38 897.29L536.1 899.36L539.83 901.17L543.55 902.79L547.28 904.38L551 905.91L554.73 907.43L558.45 908.97L562.18 910.69L565.91 912.58L569.63 914.55L573.36 916.53L577.08 918.63L580.81 920.79L584.53 922.9L588.26 924.92L591.99 926.91L595.71 928.86L599.44 930.75L603.16 932.59L606.89 934.41L610.61 936.23L614.34 938.07L618.07 939.97L621.79 941.89L625.52 943.75L629.24 945.44L632.97 946.95L636.69 948.47L640.42 950L644.14 951.53L647.87 952.85L651.6 954.06M512.15 874.63L515.87 877.97L519.6 881.18L523.32 884.26L527.05 887.17L530.78 889.89L534.5 892.4L538.23 894.68L541.95 896.71L545.68 898.45L549.4 899.99L553.13 901.49L556.86 902.96L560.58 904.42L564.31 905.93L568.03 907.66L571.76 909.57L575.48 911.57L579.21 913.57L582.94 915.71L586.66 917.93L590.39 920.1L594.11 922.16L597.84 924.19L601.56 926.19L605.29 928.13L609.01 930.03L612.74 931.89L616.47 933.75L620.19 935.6L623.92 937.52L627.64 939.47L631.37 941.34L635.09 943.04L638.82 944.54L642.55 946.02L646.27 947.52L650 948.99L653.72 950.23L657.45 951.34M518 871.9L521.73 875.29L525.45 878.55L529.18 881.66L532.9 884.59L536.63 887.33L540.35 889.83L544.08 892.09L547.81 894.07L551.53 895.76L555.26 897.2L558.98 898.62L562.71 900.02L566.43 901.44L570.16 902.92L573.88 904.65L577.61 906.58L581.34 908.6L585.06 910.63L588.79 912.82L592.51 915.1L596.24 917.32L599.96 919.43L603.69 921.51L607.42 923.55L611.14 925.54L614.87 927.49L618.59 929.4L622.32 931.28L626.04 933.16L629.77 935.1L633.49 937.07L637.22 938.96L640.95 940.67L644.67 942.14L648.4 943.6L652.12 945.05L655.85 946.48L659.57 947.64L663.3 948.64" stroke="#101010" stroke-opacity="0.55" stroke-width="0.6" fill="none"/>
<path d="M371.7 943.36L377.55 940.09L383.4 936.99L389.26 933.96L395.11 930.97L400.96 928.02L406.81 925.1L412.66 922.19L418.52 919.31L424.37 916.44L430.22 913.58L436.07 910.74L441.92 907.91L447.78 905.09L453.63 902.29L459.48 899.49L465.33 896.7L471.18 893.91L477.04 891.14L482.89 888.37L488.74 885.61L494.59 882.86L500.44 880.11L506.3 877.37L512.15 874.63L518 871.9M375.43 947.05L381.28 943.44L387.13 940.2L392.98 937.07L398.83 934.01L404.69 931.01L410.54 928.05L416.39 925.12L422.24 922.22L428.09 919.34L433.95 916.49L439.8 913.65L445.65 910.83L451.5 908.03L457.35 905.24L463.21 902.47L469.06 899.71L474.91 896.95L480.76 894.21L486.61 891.48L492.47 888.76L498.32 886.05L504.17 883.35L510.02 880.65L515.87 877.97L521.73 875.29M379.15 950.74L385 946.81L390.86 943.41L396.71 940.18L402.56 937.05L408.41 933.99L414.26 930.99L420.12 928.03L425.97 925.11L431.82 922.22L437.67 919.36L443.52 916.52L449.38 913.71L455.23 910.92L461.08 908.15L466.93 905.39L472.78 902.65L478.64 899.92L484.49 897.21L490.34 894.51L496.19 891.82L502.04 889.15L507.9 886.48L513.75 883.83L519.6 881.18L525.45 878.55M382.88 954.44L388.73 950.19L394.58 946.64L400.43 943.31L406.28 940.1L412.14 936.98L417.99 933.93L423.84 930.93L429.69 927.99L435.54 925.08L441.4 922.2L447.25 919.36L453.1 916.55L458.95 913.76L464.8 910.99L470.66 908.24L476.51 905.52L482.36 902.81L488.21 900.11L494.06 897.44L499.92 894.78L505.77 892.13L511.62 889.49L517.47 886.87L523.32 884.26L529.18 881.66M386.6 958.14L392.45 953.59L398.31 949.89L404.16 946.45L410.01 943.16L415.86 939.97L421.71 936.87L427.57 933.83L433.42 930.85L439.27 927.92L445.12 925.02L450.97 922.17L456.83 919.34L462.68 916.54L468.53 913.77L474.38 911.03L480.23 908.3L486.09 905.6L491.94 902.92L497.79 900.25L503.64 897.61L509.49 894.98L515.35 892.36L521.2 889.76L527.05 887.17L532.9 884.59M390.33 961.85L396.18 957.02L402.03 953.18L407.88 949.62L413.74 946.25L419.59 942.99L425.44 939.83L431.29 936.74L437.14 933.72L443 930.75L448.85 927.82L454.7 924.94L460.55 922.09L466.4 919.28L472.26 916.49L478.11 913.74L483.96 911.01L489.81 908.3L495.66 905.61L501.52 902.95L507.37 900.3L513.22 897.67L519.07 895.06L524.92 892.47L530.78 889.89L536.63 887.33M394.05 965.56L399.91 960.48L405.76 956.5L411.61 952.84L417.46 949.37L423.31 946.04L429.17 942.81L435.02 939.66L440.87 936.59L446.72 933.57L452.57 930.6L458.43 927.68L464.28 924.8L470.13 921.96L475.98 919.15L481.83 916.37L487.69 913.62L493.54 910.89L499.39 908.19L505.24 905.51L511.09 902.85L516.95 900.21L522.8 897.59L528.65 894.99L534.5 892.4L540.35 889.83M397.78 969.28L403.63 963.99L409.48 959.87L415.34 956.1L421.19 952.54L427.04 949.13L432.89 945.82L438.74 942.61L444.6 939.47L450.45 936.39L456.3 933.37L462.15 930.4L468 927.47L473.86 924.59L479.71 921.73L485.56 918.91L491.41 916.13L497.26 913.36L503.12 910.63L508.97 907.92L514.82 905.23L520.67 902.56L526.52 899.92L532.38 897.29L538.23 894.68L544.08 892.09M401.51 973.01L407.36 967.54L413.21 963.3L419.06 959.42L424.91 955.77L430.77 952.26L436.62 948.87L442.47 945.58L448.32 942.37L454.17 939.22L460.03 936.13L465.88 933.1L471.73 930.11L477.58 927.16L483.43 924.25L489.29 921.37L495.14 918.53L500.99 915.72L506.84 912.93L512.69 910.17L518.55 907.43L524.4 904.72L530.25 902.03L536.1 899.36L541.95 896.71L547.81 894.07M405.23 976.73L411.08 971.15L416.93 966.8L422.79 962.81L428.64 959.06L434.49 955.45L440.34 951.97L446.19 948.59L452.05 945.29L457.9 942.06L463.75 938.89L469.6 935.77L475.45 932.7L481.31 929.68L487.16 926.69L493.01 923.74L498.86 920.82L504.71 917.94L510.57 915.08L516.42 912.25L522.27 909.45L528.12 906.66L533.97 903.91L539.83 901.17L545.68 898.45L551.53 895.76M408.96 980.6L414.81 974.94L420.66 970.48L426.51 966.39L432.36 962.52L438.22 958.81L444.07 955.22L449.92 951.74L455.77 948.33L461.62 945L467.48 941.73L473.33 938.51L479.18 935.34L485.03 932.22L490.88 929.14L496.74 926.09L502.59 923.08L508.44 920.1L514.29 917.15L520.14 914.23L526 911.34L531.85 908.47L537.7 905.62L543.55 902.79L549.4 899.99L555.26 897.2M412.68 984.45L418.53 978.72L424.39 974.15L430.24 969.95L436.09 965.97L441.94 962.16L447.79 958.46L453.65 954.87L459.5 951.36L465.35 947.93L471.2 944.55L477.05 941.24L482.91 937.97L488.76 934.75L494.61 931.57L500.46 928.43L506.31 925.32L512.17 922.25L518.02 919.2L523.87 916.19L529.72 913.2L535.57 910.24L541.43 907.3L547.28 904.38L553.13 901.49L558.98 898.62M416.41 987.58L422.26 981.82L428.11 977.18L433.96 972.9L439.82 968.84L445.67 964.95L451.52 961.18L457.37 957.51L463.22 953.92L469.08 950.41L474.93 946.96L480.78 943.57L486.63 940.23L492.48 936.94L498.34 933.69L504.19 930.48L510.04 927.3L515.89 924.16L521.74 921.05L527.6 917.97L533.45 914.92L539.3 911.89L545.15 908.89L551 905.91L556.86 902.96L562.71 900.02M420.13 990.43L425.99 984.65L431.84 979.95L437.69 975.61L443.54 971.49L449.39 967.53L455.25 963.69L461.1 959.95L466.95 956.3L472.8 952.73L478.65 949.22L484.51 945.77L490.36 942.37L496.21 939.01L502.06 935.7L507.91 932.43L513.77 929.2L519.62 926L525.47 922.84L531.32 919.7L537.17 916.6L543.03 913.52L548.88 910.46L554.73 907.43L560.58 904.42L566.43 901.44M423.86 992.73L429.71 986.96L435.56 982.23L441.41 977.85L447.27 973.69L453.12 969.69L458.97 965.81L464.82 962.03L470.67 958.34L476.53 954.73L482.38 951.18L488.23 947.69L494.08 944.25L499.93 940.87L505.79 937.52L511.64 934.22L517.49 930.95L523.34 927.72L529.19 924.52L535.05 921.36L540.9 918.22L546.75 915.11L552.6 912.03L558.45 908.97L564.31 905.93L570.16 902.92M427.58 994.38L433.44 988.66L439.29 983.94L445.14 979.56L450.99 975.39L456.84 971.39L462.7 967.5L468.55 963.73L474.4 960.03L480.25 956.42L486.1 952.86L491.96 949.37L497.81 945.94L503.66 942.55L509.51 939.2L515.36 935.9L521.22 932.64L527.07 929.41L532.92 926.22L538.77 923.05L544.62 919.92L550.48 916.82L556.33 913.74L562.18 910.69L568.03 907.66L573.88 904.65M431.31 995.95L437.16 990.29L443.01 985.59L448.87 981.22L454.72 977.06L460.57 973.07L466.42 969.19L472.27 965.42L478.13 961.74L483.98 958.13L489.83 954.59L495.68 951.11L501.53 947.68L507.39 944.3L513.24 940.97L519.09 937.68L524.94 934.43L530.79 931.21L536.65 928.03L542.5 924.89L548.35 921.77L554.2 918.68L560.05 915.62L565.91 912.58L571.76 909.57L577.61 906.58M435.04 997.47L440.89 991.87L446.74 987.19L452.59 982.84L458.44 978.7L464.3 974.72L470.15 970.86L476 967.1L481.85 963.43L487.7 959.84L493.56 956.32L499.41 952.85L505.26 949.44L511.11 946.08L516.96 942.76L522.82 939.49L528.67 936.26L534.52 933.06L540.37 929.9L546.22 926.77L552.08 923.68L557.93 920.61L563.78 917.57L569.63 914.55L575.48 911.57L581.34 908.6M438.76 998.88L444.61 993.33L450.47 988.68L456.32 984.36L462.17 980.24L468.02 976.28L473.87 972.44L479.73 968.71L485.58 965.06L491.43 961.49L497.28 957.98L503.13 954.54L508.99 951.15L514.84 947.81L520.69 944.52L526.54 941.27L532.39 938.06L538.25 934.89L544.1 931.75L549.95 928.65L555.8 925.58L561.65 922.53L567.51 919.52L573.36 916.53L579.21 913.57L585.06 910.63M442.49 999.92L448.34 994.44L454.19 989.84L460.04 985.56L465.9 981.49L471.75 977.57L477.6 973.78L483.45 970.09L489.3 966.49L495.16 962.96L501.01 959.5L506.86 956.1L512.71 952.75L518.56 949.46L524.42 946.21L530.27 943.01L536.12 939.84L541.97 936.71L547.82 933.62L553.68 930.56L559.53 927.54L565.38 924.54L571.23 921.57L577.08 918.63L582.94 915.71L588.79 912.82M446.21 1000.74L452.06 995.34L457.92 990.79L463.77 986.57L469.62 982.56L475.47 978.7L481.32 974.97L487.18 971.34L493.03 967.79L498.88 964.32L504.73 960.91L510.58 957.57L516.44 954.28L522.29 951.05L528.14 947.86L533.99 944.71L539.84 941.6L545.7 938.53L551.55 935.5L557.4 932.5L563.25 929.53L569.1 926.59L574.96 923.67L580.81 920.79L586.66 917.93L592.51 915.1M449.94 1001.57L455.79 996.22L461.64 991.73L467.49 987.57L473.35 983.61L479.2 979.81L485.05 976.14L490.9 972.56L496.75 969.07L502.61 965.66L508.46 962.31L514.31 959.02L520.16 955.79L526.01 952.61L531.87 949.47L537.72 946.38L543.57 943.33L549.42 940.31L555.27 937.33L561.13 934.39L566.98 931.47L572.83 928.59L578.68 925.73L584.53 922.9L590.39 920.1L596.24 917.32M453.66 1002.49L459.52 997.18L465.37 992.74L471.22 988.63L477.07 984.72L482.92 980.97L488.78 977.35L494.63 973.82L500.48 970.38L506.33 967.01L512.18 963.72L518.04 960.48L523.89 957.3L529.74 954.16L535.59 951.07L541.44 948.03L547.3 945.02L553.15 942.06L559 939.12L564.85 936.22L570.7 933.35L576.56 930.51L582.41 927.7L588.26 924.92L594.11 922.16L599.96 919.43M457.39 1003.41L463.24 998.12L469.09 993.73L474.95 989.67L480.8 985.81L486.65 982.11L492.5 978.54L498.35 975.06L504.21 971.67L510.06 968.36L515.91 965.11L521.76 961.91L527.61 958.78L533.47 955.69L539.32 952.65L545.17 949.65L551.02 946.69L556.87 943.77L562.73 940.88L568.58 938.03L574.43 935.2L580.28 932.41L586.13 929.64L591.99 926.91L597.84 924.19L603.69 921.51M461.12 1004.28L466.97 999.03L472.82 994.69L478.67 990.67L484.52 986.87L490.38 983.22L496.23 979.69L502.08 976.27L507.93 972.93L513.78 969.66L519.64 966.46L525.49 963.31L531.34 960.22L537.19 957.18L543.04 954.19L548.9 951.24L554.75 948.32L560.6 945.45L566.45 942.6L572.3 939.79L578.16 937.02L584.01 934.27L589.86 931.55L595.71 928.86L601.56 926.19L607.42 923.55M464.84 1005.01L470.69 999.79L476.55 995.5L482.4 991.54L488.25 987.79L494.1 984.2L499.95 980.73L505.81 977.36L511.66 974.08L517.51 970.86L523.36 967.71L529.21 964.61L535.07 961.57L540.92 958.58L546.77 955.64L552.62 952.73L558.47 949.87L564.33 947.04L570.18 944.25L576.03 941.49L581.88 938.76L587.73 936.07L593.59 933.4L599.44 930.75L605.29 928.13L611.14 925.54M468.57 1005.61L474.42 1000.43L480.27 996.19L486.12 992.28L491.97 988.59L497.83 985.06L503.68 981.65L509.53 978.34L515.38 975.12L521.23 971.95L527.09 968.85L532.94 965.81L538.79 962.83L544.64 959.89L550.49 957L556.35 954.15L562.2 951.34L568.05 948.56L573.9 945.83L579.75 943.12L585.61 940.45L591.46 937.8L597.31 935.18L603.16 932.59L609.01 930.03L614.87 927.49M472.29 1006.33L478.14 1001.18L484 996.99L489.85 993.14L495.7 989.5L501.55 986.02L507.4 982.66L513.26 979.4L519.11 976.23L524.96 973.11L530.81 970.06L536.66 967.07L542.52 964.13L548.37 961.24L554.22 958.39L560.07 955.59L565.92 952.83L571.78 950.1L577.63 947.41L583.48 944.75L589.33 942.12L595.18 939.52L601.04 936.95L606.89 934.41L612.74 931.89L618.59 929.4M476.02 1007.45L481.87 1002.31L487.72 998.15L493.57 994.33L499.43 990.73L505.28 987.28L511.13 983.96L516.98 980.74L522.83 977.6L528.69 974.52L534.54 971.49L540.39 968.53L546.24 965.62L552.09 962.76L557.95 959.95L563.8 957.17L569.65 954.44L575.5 951.74L581.35 949.08L587.21 946.45L593.06 943.86L598.91 941.29L604.76 938.75L610.61 936.23L616.47 933.75L622.32 931.28M479.74 1008.82L485.6 1003.68L491.45 999.54L497.3 995.74L503.15 992.16L509 988.74L514.86 985.44L520.71 982.25L526.56 979.14L532.41 976.07L538.26 973.07L544.12 970.13L549.97 967.24L555.82 964.4L561.67 961.6L567.52 958.85L573.38 956.14L579.23 953.46L585.08 950.82L590.93 948.21L596.78 945.63L602.64 943.08L608.49 940.56L614.34 938.07L620.19 935.6L626.04 933.16M483.47 1010.2L489.32 1005.07L495.17 1000.95L501.03 997.18L506.88 993.62L512.73 990.23L518.58 986.96L524.43 983.79L530.29 980.7L536.14 977.66L541.99 974.68L547.84 971.76L553.69 968.89L559.55 966.07L565.4 963.3L571.25 960.57L577.1 957.88L582.95 955.22L588.81 952.6L594.66 950.02L600.51 947.46L606.36 944.93L612.21 942.44L618.07 939.97L623.92 937.52L629.77 935.1M487.19 1011.61L493.05 1006.49L498.9 1002.39L504.75 998.64L510.6 995.11L516.45 991.74L522.31 988.49L528.16 985.35L534.01 982.29L539.86 979.27L545.71 976.31L551.57 973.41L557.42 970.57L563.27 967.77L569.12 965.02L574.97 962.32L580.83 959.65L586.68 957.02L592.53 954.42L598.38 951.85L604.23 949.32L610.09 946.82L615.94 944.34L621.79 941.89L627.64 939.47L633.49 937.07M490.92 1013.05L496.77 1007.92L502.62 1003.84L508.48 1000.11L514.33 996.6L520.18 993.25L526.03 990.02L531.88 986.9L537.74 983.87L543.59 980.87L549.44 977.93L555.29 975.05L561.14 972.22L567 969.44L572.85 966.71L578.7 964.02L584.55 961.37L590.4 958.76L596.26 956.18L602.11 953.64L607.96 951.12L613.81 948.64L619.66 946.18L625.52 943.75L631.37 941.34L637.22 938.96M494.65 1014.61L500.5 1009.47L506.35 1005.39L512.2 1001.67L518.05 998.16L523.91 994.82L529.76 991.6L535.61 988.49L541.46 985.46L547.31 982.47L553.17 979.53L559.02 976.66L564.87 973.84L570.72 971.07L576.57 968.35L582.43 965.66L588.28 963.02L594.13 960.41L599.98 957.84L605.83 955.3L611.69 952.8L617.54 950.32L623.39 947.86L629.24 945.44L635.09 943.04L640.95 940.67M498.37 1016.56L504.22 1011.39L510.08 1007.29L515.93 1003.54L521.78 1000.02L527.63 996.66L533.48 993.42L539.34 990.29L545.19 987.24L551.04 984.23L556.89 981.28L562.74 978.39L568.6 975.55L574.45 972.76L580.3 970.02L586.15 967.32L592 964.66L597.86 962.04L603.71 959.45L609.56 956.89L615.41 954.36L621.26 951.87L627.12 949.4L632.97 946.95L638.82 944.54L644.67 942.14M502.1 1018.8L507.95 1013.59L513.8 1009.45L519.65 1005.66L525.51 1002.11L531.36 998.71L537.21 995.44L543.06 992.28L548.91 989.2L554.77 986.16L560.62 983.18L566.47 980.26L572.32 977.4L578.17 974.58L584.03 971.81L589.88 969.08L595.73 966.39L601.58 963.74L607.43 961.12L613.29 958.53L619.14 955.97L624.99 953.45L630.84 950.95L636.69 948.47L642.55 946.02L648.4 943.6M505.82 1021.2L511.68 1015.93L517.53 1011.75L523.38 1007.92L529.23 1004.33L535.08 1000.89L540.94 997.58L546.79 994.38L552.64 991.26L558.49 988.18L564.34 985.17L570.2 982.22L576.05 979.32L581.9 976.46L587.75 973.66L593.6 970.9L599.46 968.17L605.31 965.48L611.16 962.83L617.01 960.21L622.86 957.61L628.72 955.05L634.57 952.51L640.42 950L646.27 947.52L652.12 945.05M509.55 1023.86L515.4 1018.53L521.25 1014.29L527.1 1010.42L532.96 1006.76L538.81 1003.27L544.66 999.91L550.51 996.65L556.36 993.48L562.22 990.36L568.07 987.3L573.92 984.3L579.77 981.36L585.62 978.46L591.48 975.61L597.33 972.8L603.18 970.03L609.03 967.29L614.88 964.59L620.74 961.92L626.59 959.28L632.44 956.67L638.29 954.09L644.14 951.53L650 948.99L655.85 946.48M513.27 1027.11L519.13 1021.68L524.98 1017.35L530.83 1013.38L536.68 1009.64L542.53 1006.06L548.39 1002.61L554.24 999.26L560.09 996L565.94 992.8L571.79 989.66L577.65 986.59L583.5 983.56L589.35 980.59L595.2 977.66L601.05 974.77L606.91 971.92L612.76 969.1L618.61 966.32L624.46 963.57L630.31 960.85L636.17 958.16L642.02 955.49L647.87 952.85L653.72 950.23L659.57 947.64M517 1030.7L522.85 1025.16L528.7 1020.72L534.56 1016.64L540.41 1012.78L546.26 1009.09L552.11 1005.52L557.96 1002.06L563.82 998.69L569.67 995.39L575.52 992.16L581.37 988.99L587.22 985.87L593.08 982.79L598.93 979.77L604.78 976.78L610.63 973.83L616.48 970.92L622.34 968.03L628.19 965.18L634.04 962.36L639.89 959.57L645.74 956.8L651.6 954.06L657.45 951.34L663.3 948.64" stroke="#101010" stroke-opacity="0.18" stroke-width="0.5" fill="none"/>
<g fill="#dc1a1a" stroke="#6a0c0c" stroke-width="0.55"><circle cx="371.7" cy="943.36" r="2.0"/><circle cx="376.67" cy="940.56" r="2.0"/><circle cx="383.4" cy="936.99" r="2.0"/><circle cx="389.26" cy="933.96" r="2.0"/><circle cx="395.11" cy="930.97" r="2.0"/><circle cx="400.96" cy="928.02" r="2.0"/><circle cx="406.81" cy="925.1" r="2.0"/><circle cx="412.66" cy="922.19" r="2.0"/><circle cx="418.52" cy="919.31" r="2.0"/><circle cx="424.37" cy="916.44" r="2.0"/><circle cx="430.22" cy="913.58" r="2.0"/><circle cx="436.07" cy="910.74" r="2.0"/><circle cx="441.92" cy="907.91" r="2.0"/><circle cx="447.78" cy="905.09" r="2.0"/><circle cx="453.63" cy="902.29" r="2.0"/><circle cx="459.48" cy="899.49" r="2.0"/><circle cx="465.33" cy="896.7" r="2.0"/><circle cx="471.18" cy="893.91" r="2.0"/><circle cx="477.04" cy="891.14" r="2.0"/><circle cx="482.89" cy="888.37" r="2.0"/><circle cx="488.74" cy="885.61" r="2.0"/><circle cx="494.59" cy="882.86" r="2.0"/><circle cx="500.44" cy="880.11" r="2.0"/><circle cx="506.3" cy="877.37" r="2.0"/><circle cx="512.15" cy="874.63" r="2.0"/><circle cx="518" cy="871.9" r="2.0"/><circle cx="405.99" cy="977.49" r="2.0"/><circle cx="410.96" cy="972.6" r="2.0"/><circle cx="417.69" cy="967.52" r="2.0"/><circle cx="423.55" cy="963.52" r="2.0"/><circle cx="429.4" cy="959.74" r="2.0"/><circle cx="435.25" cy="956.11" r="2.0"/><circle cx="441.1" cy="952.61" r="2.0"/><circle cx="446.95" cy="949.21" r="2.0"/><circle cx="452.81" cy="945.89" r="2.0"/><circle cx="458.66" cy="942.64" r="2.0"/><circle cx="464.51" cy="939.45" r="2.0"/><circle cx="470.36" cy="936.31" r="2.0"/><circle cx="476.21" cy="933.23" r="2.0"/><circle cx="482.07" cy="930.18" r="2.0"/><circle cx="487.92" cy="927.18" r="2.0"/><circle cx="493.77" cy="924.21" r="2.0"/><circle cx="499.62" cy="921.28" r="2.0"/><circle cx="505.47" cy="918.37" r="2.0"/><circle cx="511.33" cy="915.5" r="2.0"/><circle cx="517.18" cy="912.65" r="2.0"/><circle cx="523.03" cy="909.83" r="2.0"/><circle cx="528.88" cy="907.03" r="2.0"/><circle cx="534.73" cy="904.26" r="2.0"/><circle cx="540.59" cy="901.51" r="2.0"/><circle cx="546.44" cy="898.77" r="2.0"/><circle cx="552.29" cy="896.06" r="2.0"/><circle cx="450.39" cy="1001.68" r="2.0"/><circle cx="455.37" cy="997.05" r="2.0"/><circle cx="462.1" cy="991.85" r="2.0"/><circle cx="467.95" cy="987.7" r="2.0"/><circle cx="473.8" cy="983.75" r="2.0"/><circle cx="479.65" cy="979.96" r="2.0"/><circle cx="485.51" cy="976.28" r="2.0"/><circle cx="491.36" cy="972.71" r="2.0"/><circle cx="497.21" cy="969.23" r="2.0"/><circle cx="503.06" cy="965.82" r="2.0"/><circle cx="508.91" cy="962.48" r="2.0"/><circle cx="514.77" cy="959.2" r="2.0"/><circle cx="520.62" cy="955.98" r="2.0"/><circle cx="526.47" cy="952.8" r="2.0"/><circle cx="532.32" cy="949.67" r="2.0"/><circle cx="538.17" cy="946.58" r="2.0"/><circle cx="544.03" cy="943.54" r="2.0"/><circle cx="549.88" cy="940.53" r="2.0"/><circle cx="555.73" cy="937.55" r="2.0"/><circle cx="561.58" cy="934.61" r="2.0"/><circle cx="567.43" cy="931.7" r="2.0"/><circle cx="573.29" cy="928.82" r="2.0"/><circle cx="579.14" cy="925.97" r="2.0"/><circle cx="584.99" cy="923.15" r="2.0"/><circle cx="590.84" cy="920.35" r="2.0"/><circle cx="596.69" cy="917.58" r="2.0"/><circle cx="517" cy="1030.7" r="2.0"/><circle cx="521.97" cy="1025.88" r="2.0"/><circle cx="528.7" cy="1020.72" r="2.0"/><circle cx="534.56" cy="1016.64" r="2.0"/><circle cx="540.41" cy="1012.78" r="2.0"/><circle cx="546.26" cy="1009.09" r="2.0"/><circle cx="552.11" cy="1005.52" r="2.0"/><circle cx="557.96" cy="1002.06" r="2.0"/><circle cx="563.82" cy="998.69" r="2.0"/><circle cx="569.67" cy="995.39" r="2.0"/><circle cx="575.52" cy="992.16" r="2.0"/><circle cx="581.37" cy="988.99" r="2.0"/><circle cx="587.22" cy="985.87" r="2.0"/><circle cx="593.08" cy="982.79" r="2.0"/><circle cx="598.93" cy="979.77" r="2.0"/><circle cx="604.78" cy="976.78" r="2.0"/><circle cx="610.63" cy="973.83" r="2.0"/><circle cx="616.48" cy="970.92" r="2.0"/><circle cx="622.34" cy="968.03" r="2.0"/><circle cx="628.19" cy="965.18" r="2.0"/><circle cx="634.04" cy="962.36" r="2.0"/><circle cx="639.89" cy="959.57" r="2.0"/><circle cx="645.74" cy="956.8" r="2.0"/><circle cx="651.6" cy="954.06" r="2.0"/><circle cx="657.45" cy="951.34" r="2.0"/><circle cx="663.3" cy="948.64" r="2.0"/></g>
<path d="M371.7 973.9L371.7 895.4M368.2 974.4L517 1030.7L663.3 975.8M367.9 966.85L371.7 966.05M367.9 951.15L371.7 950.35M367.9 935.45L371.7 934.65M367.9 919.75L371.7 918.95M367.9 904.05L371.7 903.25M405.99 987.3L402.49 988.6M450.39 1004.66L446.89 1005.96M546.26 1019.72L549.76 1021.02M575.52 1008.74L579.02 1010.04M604.78 997.76L608.28 999.06M634.04 986.78L637.54 988.08" stroke="#262626" stroke-width="0.9" fill="none"/>
<g class="sf" style="font-size:10px"><text x="364.4" y="968.25" text-anchor="end">600</text><text x="364.4" y="952.55" text-anchor="end">800</text><text x="364.4" y="936.85" text-anchor="end">1000</text><text x="364.4" y="921.15" text-anchor="end">1200</text><text x="364.4" y="905.45" text-anchor="end">1400</text><text x="365.4" y="986.4" text-anchor="end">3500</text><text x="399.69" y="999.8" text-anchor="end">100</text><text x="444.09" y="1017.16" text-anchor="end">1</text><text x="510.7" y="1043.2" text-anchor="end">0.001</text><text x="522.2" y="1042">0</text><text x="551.46" y="1031.02">0.02</text><text x="580.72" y="1020.04">0.04</text><text x="609.98" y="1009.06">0.06</text><text x="639.24" y="998.08">0.08</text><text x="668.5" y="987.1">0.1</text><text x="420.6" y="1043.2" text-anchor="middle" style="font-size:10.9px">strain rate</text><text x="598.1" y="1043.2" text-anchor="middle" style="font-size:10.9px">strain</text><text transform="translate(342.3 934.4) rotate(-90)" text-anchor="middle" style="font-size:10.8px">stress [MPa]</text></g>
<text x="396" y="850.5" class="lt" style="font-size:20.2px">h</text>
</svg>
</body></html>
